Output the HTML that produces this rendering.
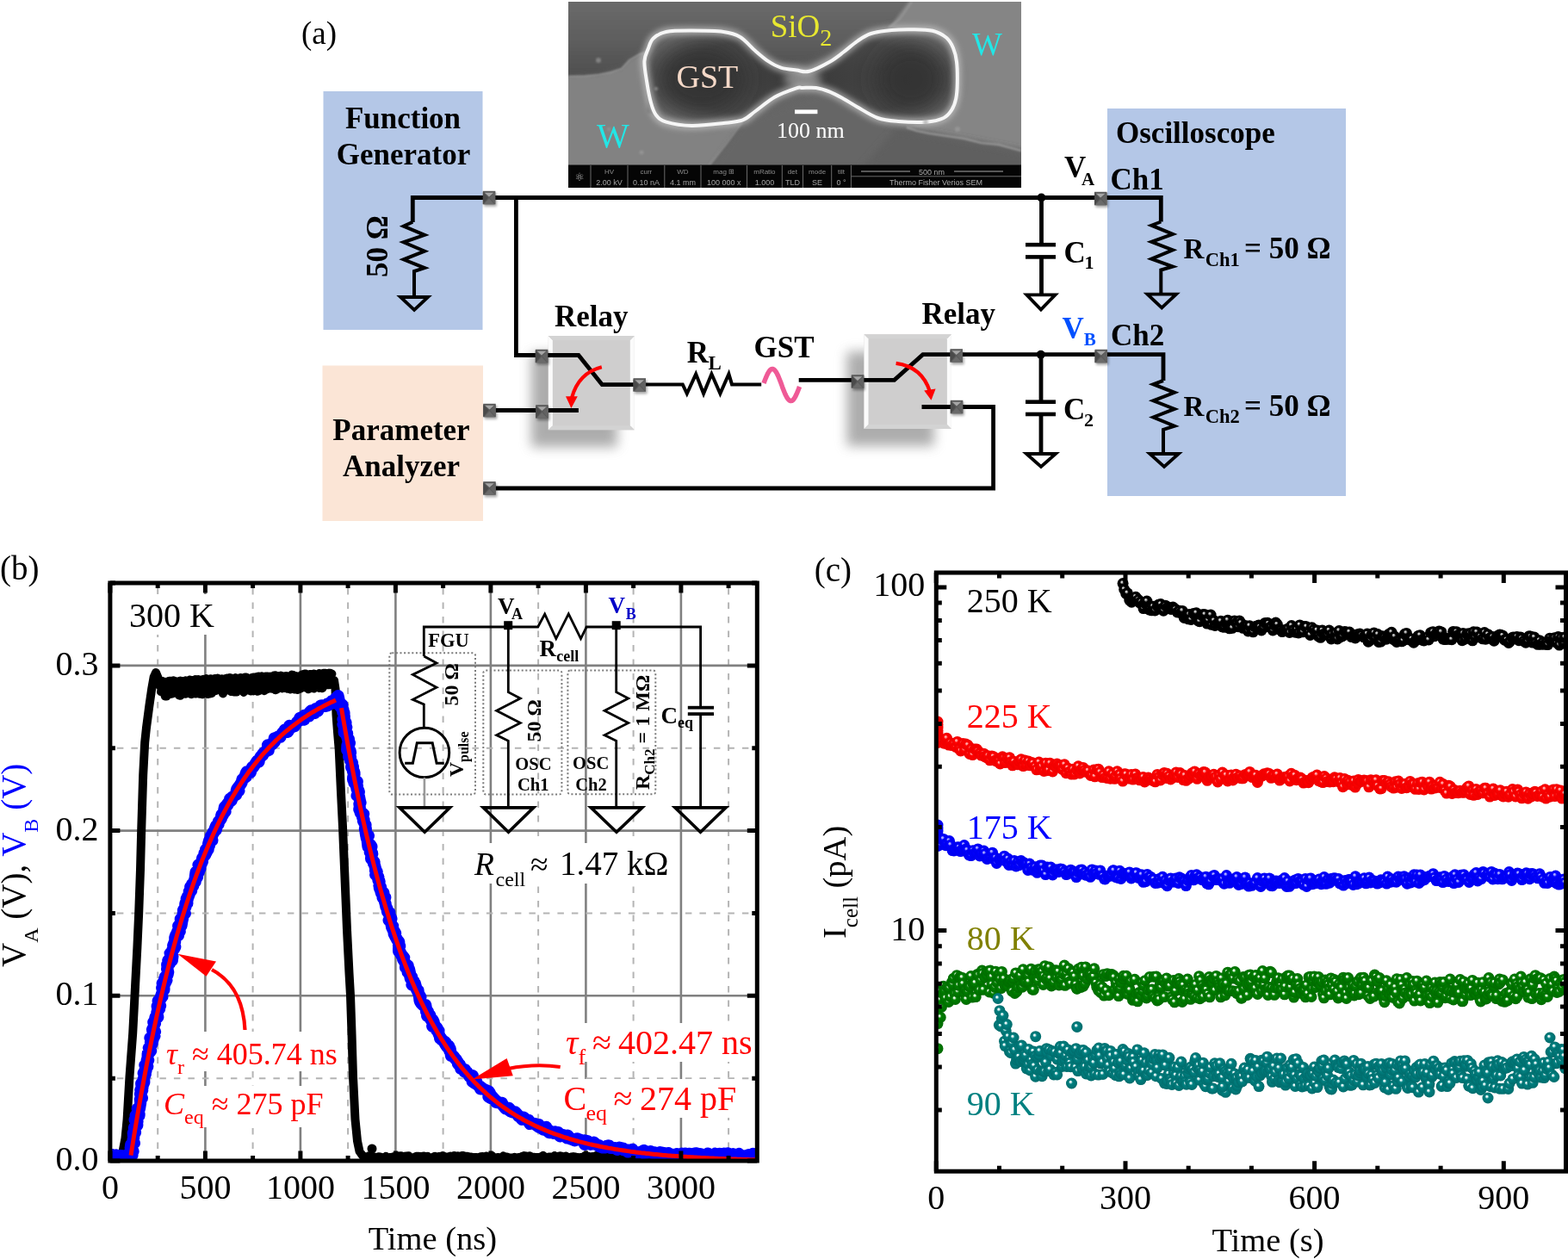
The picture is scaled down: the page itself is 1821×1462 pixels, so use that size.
<!DOCTYPE html>
<html><head><meta charset="utf-8"><title>Figure</title>
<style>html,body{margin:0;padding:0;background:#fff;}svg{display:block;}</style></head>
<body><svg width="1821" height="1462" viewBox="0 0 1821 1462">
<defs><filter id="blur05" x="-5%" y="-5%" width="110%" height="110%"><feGaussianBlur stdDeviation="0.6"/></filter>
<filter id="blur1" x="-50%" y="-50%" width="200%" height="200%"><feGaussianBlur stdDeviation="1"/></filter>
<filter id="blur2" x="-50%" y="-50%" width="200%" height="200%"><feGaussianBlur stdDeviation="1.6"/></filter>
<filter id="blur3" x="-20%" y="-20%" width="140%" height="140%"><feGaussianBlur stdDeviation="3"/></filter>
<filter id="blur4" x="-20%" y="-20%" width="140%" height="140%"><feGaussianBlur stdDeviation="4"/></filter>
<filter id="blur8" x="-40%" y="-40%" width="180%" height="180%"><feGaussianBlur stdDeviation="7"/></filter>
<filter id="blur10" x="-40%" y="-40%" width="180%" height="180%"><feGaussianBlur stdDeviation="12"/></filter>
<radialGradient id="gstfill" cx="0.5" cy="0.5" r="0.6"><stop offset="0" stop-color="#3a3a3a"/><stop offset="0.7" stop-color="#484848"/><stop offset="1" stop-color="#6a6a6a"/></radialGradient>
<radialGradient id="gk" cx="0.5" cy="0.5" r="0.5" fx="0.38" fy="0.34"><stop offset="0" stop-color="#d0d0d0"/><stop offset="0.12" stop-color="#d0d0d0" stop-opacity="0.95"/><stop offset="0.36" stop-color="#000000"/><stop offset="1" stop-color="#000000"/></radialGradient>
<radialGradient id="gr" cx="0.5" cy="0.5" r="0.5" fx="0.38" fy="0.34"><stop offset="0" stop-color="#ffb0b0"/><stop offset="0.12" stop-color="#ffb0b0" stop-opacity="0.95"/><stop offset="0.36" stop-color="#ff0000"/><stop offset="1" stop-color="#ee0000"/></radialGradient>
<radialGradient id="gb" cx="0.5" cy="0.5" r="0.5" fx="0.38" fy="0.34"><stop offset="0" stop-color="#b0b0ff"/><stop offset="0.12" stop-color="#b0b0ff" stop-opacity="0.95"/><stop offset="0.36" stop-color="#0000ff"/><stop offset="1" stop-color="#0000ee"/></radialGradient>
<radialGradient id="gg" cx="0.5" cy="0.5" r="0.5" fx="0.38" fy="0.34"><stop offset="0" stop-color="#f4fff4"/><stop offset="0.12" stop-color="#f4fff4" stop-opacity="0.95"/><stop offset="0.36" stop-color="#008000"/><stop offset="1" stop-color="#006a00"/></radialGradient>
<radialGradient id="gt" cx="0.5" cy="0.5" r="0.5" fx="0.38" fy="0.34"><stop offset="0" stop-color="#f4ffff"/><stop offset="0.12" stop-color="#f4ffff" stop-opacity="0.95"/><stop offset="0.36" stop-color="#008080"/><stop offset="1" stop-color="#006c6c"/></radialGradient></defs>
<rect width="1821" height="1462" fill="#ffffff"/>
<clipPath id="semclip"><rect x="660" y="2" width="526" height="190"/></clipPath>
<g clip-path="url(#semclip)">
<rect x="660" y="2" width="526" height="190" fill="#656565"/>
<linearGradient id="sio2g" x1="0" y1="0" x2="0" y2="1"><stop offset="0" stop-color="#6c6c6c"/><stop offset="0.55" stop-color="#5e5e5e"/><stop offset="1" stop-color="#4e4e4e"/></linearGradient>
<path d="M655,-5 H1064 L1040,28 L1000,45 L940,72 L900,76 L860,45 L760,45 L743,63 L731,70 L722,80 L695,87 L655,89 Z" fill="url(#sio2g)" filter="url(#blur3)"/>
<path d="M655,90 L695,88 L722,81 L731,71 L743,64 L752,60 L752,130 L790,148 L862,142 L822,196 L655,196 Z" fill="#828282" filter="url(#blur2)"/>
<path d="M1060,-5 L1195,-5 L1195,176 L1160,168 L1130,163 L1100,157 L1070,152 L1052,147 L1100,138 L1112,95 L1100,40 L1033,32 Z" fill="#858585" filter="url(#blur2)"/>
<path d="M826,196 L864,142 L960,106 L1050,148 L1100,158 L1195,176 L1195,196 Z" fill="#666666" filter="url(#blur3)"/>
<path d="M1000,196 L1040,150 L1100,160 L1195,178 L1195,196 Z" fill="#5e5e5e" filter="url(#blur4)"/>
<polyline points="660,89 680,88.5 695,87 710,84 722,80 731,70 743,63 750,61" fill="none" stroke="#a8a8a8" stroke-width="2" opacity="0.7" filter="url(#blur1)"/>
<polyline points="862,142 845,165 822,194" fill="none" stroke="#9c9c9c" stroke-width="2" opacity="0.6" filter="url(#blur1)"/>
<polyline points="1053,148 1065,152 1080,155 1100,158 1120,161 1140,166 1160,168 1186,175" fill="none" stroke="#b0b0b0" stroke-width="2.2" opacity="0.75" filter="url(#blur1)"/>
<polyline points="1059,2 1045,22 1032,32" fill="none" stroke="#a0a0a0" stroke-width="2" opacity="0.6" filter="url(#blur1)"/>
<path d="M758.8,44.5 C762.2,41.3 766.2,38.5 773.6,37 C781,35.5 792.2,35.6 803.3,35.6 C814.4,35.6 830.9,35.8 840.3,37 C849.7,38.2 853.4,39.3 859.6,43 C865.8,46.7 872,54.6 877.4,59.3 C882.8,64 887.3,68 892.2,71.2 C897.1,74.4 901.5,76.9 907,78.6 C912.5,80.3 919.5,80.8 925,81.5 C930.5,82.2 933.3,84.4 939.8,82.8 C946.2,81.2 957.1,75.4 963.7,71.7 C970.3,68 974.3,64.5 979.6,60.5 C984.9,56.5 990.3,51.4 995.6,47.8 C1000.9,44.2 1004.9,41.1 1011.5,39 C1018.1,36.9 1027.4,35.8 1035.4,35 C1043.4,34.2 1051.3,34.1 1059.3,34.2 C1067.2,34.3 1076.5,34.2 1083.1,35.8 C1089.7,37.4 1095.1,40.5 1099.1,43.8 C1103.1,47.1 1105,51.1 1107,55.7 C1109,60.4 1110.2,65.1 1111,71.7 C1111.8,78.3 1111.9,88.4 1111.8,95.6 C1111.7,102.8 1111.3,109.4 1110.2,114.7 C1109.1,120 1107.8,123.7 1105.4,127.4 C1103,131.1 1100.9,134.6 1095.9,137 C1090.9,139.4 1084,141 1075.2,141.7 C1066.4,142.4 1052.6,141.8 1043.3,141 C1034,140.2 1027.3,139.8 1019.4,137 C1011.5,134.2 1002.2,127.9 995.6,124.2 C989,120.5 984.9,117.6 979.6,114.7 C974.3,111.8 969,108.8 963.7,106.7 C958.4,104.6 953.1,102.8 947.8,102 C942.5,101.2 935.8,102 932,102 C928.2,102 930.4,100.5 925,102.3 C919.6,104.1 907.6,108.2 899.7,112.7 C891.8,117.2 883.6,124.5 877.4,129 C871.2,133.4 868.8,137.1 862.6,139.4 C856.4,141.7 850.2,141.9 840.3,143 C830.4,144.1 814.4,146.2 803.3,146 C792.2,145.8 780.5,143.7 773.6,141.6 C766.7,139.5 764.8,137.3 761.8,133.5 C758.8,129.7 757.5,124.8 755.8,118.6 C754.1,112.4 752.6,104.3 751.4,96.4 C750.2,88.5 748.1,77.9 748.4,71.2 C748.6,64.5 751.2,60.8 752.9,56.3 C754.6,51.8 755.3,47.7 758.8,44.5 Z" fill="url(#gstfill)"/>
<ellipse cx="815" cy="92" rx="50" ry="40" fill="#2e2e2e" opacity="0.75" filter="url(#blur10)"/>
<ellipse cx="1058" cy="92" rx="42" ry="40" fill="#2e2e2e" opacity="0.75" filter="url(#blur10)"/>
<ellipse cx="932" cy="92" rx="22" ry="9" fill="#9a9a9a" opacity="0.8" filter="url(#blur4)"/>
<path d="M758.8,44.5 C762.2,41.3 766.2,38.5 773.6,37 C781,35.5 792.2,35.6 803.3,35.6 C814.4,35.6 830.9,35.8 840.3,37 C849.7,38.2 853.4,39.3 859.6,43 C865.8,46.7 872,54.6 877.4,59.3 C882.8,64 887.3,68 892.2,71.2 C897.1,74.4 901.5,76.9 907,78.6 C912.5,80.3 919.5,80.8 925,81.5 C930.5,82.2 933.3,84.4 939.8,82.8 C946.2,81.2 957.1,75.4 963.7,71.7 C970.3,68 974.3,64.5 979.6,60.5 C984.9,56.5 990.3,51.4 995.6,47.8 C1000.9,44.2 1004.9,41.1 1011.5,39 C1018.1,36.9 1027.4,35.8 1035.4,35 C1043.4,34.2 1051.3,34.1 1059.3,34.2 C1067.2,34.3 1076.5,34.2 1083.1,35.8 C1089.7,37.4 1095.1,40.5 1099.1,43.8 C1103.1,47.1 1105,51.1 1107,55.7 C1109,60.4 1110.2,65.1 1111,71.7 C1111.8,78.3 1111.9,88.4 1111.8,95.6 C1111.7,102.8 1111.3,109.4 1110.2,114.7 C1109.1,120 1107.8,123.7 1105.4,127.4 C1103,131.1 1100.9,134.6 1095.9,137 C1090.9,139.4 1084,141 1075.2,141.7 C1066.4,142.4 1052.6,141.8 1043.3,141 C1034,140.2 1027.3,139.8 1019.4,137 C1011.5,134.2 1002.2,127.9 995.6,124.2 C989,120.5 984.9,117.6 979.6,114.7 C974.3,111.8 969,108.8 963.7,106.7 C958.4,104.6 953.1,102.8 947.8,102 C942.5,101.2 935.8,102 932,102 C928.2,102 930.4,100.5 925,102.3 C919.6,104.1 907.6,108.2 899.7,112.7 C891.8,117.2 883.6,124.5 877.4,129 C871.2,133.4 868.8,137.1 862.6,139.4 C856.4,141.7 850.2,141.9 840.3,143 C830.4,144.1 814.4,146.2 803.3,146 C792.2,145.8 780.5,143.7 773.6,141.6 C766.7,139.5 764.8,137.3 761.8,133.5 C758.8,129.7 757.5,124.8 755.8,118.6 C754.1,112.4 752.6,104.3 751.4,96.4 C750.2,88.5 748.1,77.9 748.4,71.2 C748.6,64.5 751.2,60.8 752.9,56.3 C754.6,51.8 755.3,47.7 758.8,44.5 Z" fill="none" stroke="#d8d8d8" stroke-width="10" opacity="0.55" filter="url(#blur3)"/>
<path d="M758.8,44.5 C762.2,41.3 766.2,38.5 773.6,37 C781,35.5 792.2,35.6 803.3,35.6 C814.4,35.6 830.9,35.8 840.3,37 C849.7,38.2 853.4,39.3 859.6,43 C865.8,46.7 872,54.6 877.4,59.3 C882.8,64 887.3,68 892.2,71.2 C897.1,74.4 901.5,76.9 907,78.6 C912.5,80.3 919.5,80.8 925,81.5 C930.5,82.2 933.3,84.4 939.8,82.8 C946.2,81.2 957.1,75.4 963.7,71.7 C970.3,68 974.3,64.5 979.6,60.5 C984.9,56.5 990.3,51.4 995.6,47.8 C1000.9,44.2 1004.9,41.1 1011.5,39 C1018.1,36.9 1027.4,35.8 1035.4,35 C1043.4,34.2 1051.3,34.1 1059.3,34.2 C1067.2,34.3 1076.5,34.2 1083.1,35.8 C1089.7,37.4 1095.1,40.5 1099.1,43.8 C1103.1,47.1 1105,51.1 1107,55.7 C1109,60.4 1110.2,65.1 1111,71.7 C1111.8,78.3 1111.9,88.4 1111.8,95.6 C1111.7,102.8 1111.3,109.4 1110.2,114.7 C1109.1,120 1107.8,123.7 1105.4,127.4 C1103,131.1 1100.9,134.6 1095.9,137 C1090.9,139.4 1084,141 1075.2,141.7 C1066.4,142.4 1052.6,141.8 1043.3,141 C1034,140.2 1027.3,139.8 1019.4,137 C1011.5,134.2 1002.2,127.9 995.6,124.2 C989,120.5 984.9,117.6 979.6,114.7 C974.3,111.8 969,108.8 963.7,106.7 C958.4,104.6 953.1,102.8 947.8,102 C942.5,101.2 935.8,102 932,102 C928.2,102 930.4,100.5 925,102.3 C919.6,104.1 907.6,108.2 899.7,112.7 C891.8,117.2 883.6,124.5 877.4,129 C871.2,133.4 868.8,137.1 862.6,139.4 C856.4,141.7 850.2,141.9 840.3,143 C830.4,144.1 814.4,146.2 803.3,146 C792.2,145.8 780.5,143.7 773.6,141.6 C766.7,139.5 764.8,137.3 761.8,133.5 C758.8,129.7 757.5,124.8 755.8,118.6 C754.1,112.4 752.6,104.3 751.4,96.4 C750.2,88.5 748.1,77.9 748.4,71.2 C748.6,64.5 751.2,60.8 752.9,56.3 C754.6,51.8 755.3,47.7 758.8,44.5 Z" fill="none" stroke="#f6f6f6" stroke-width="4" stroke-linejoin="round" filter="url(#blur05)"/>
<circle cx="695" cy="70" r="3" fill="#a0a0a0" opacity="0.6" filter="url(#blur1)"/>
<circle cx="745" cy="177" r="2.5" fill="#a0a0a0" opacity="0.6" filter="url(#blur1)"/>
<circle cx="762" cy="103" r="2.2" fill="#a0a0a0" opacity="0.6" filter="url(#blur1)"/>
<circle cx="1112" cy="150" r="3" fill="#a0a0a0" opacity="0.6" filter="url(#blur1)"/>
<circle cx="1075" cy="142" r="3" fill="#a0a0a0" opacity="0.6" filter="url(#blur1)"/>
<circle cx="707" cy="150" r="2" fill="#a0a0a0" opacity="0.6" filter="url(#blur1)"/>
</g>
<text x="894.7" y="43" font-family="Liberation Serif, serif" font-size="37" fill="#e8e830">SiO<tspan font-size="28" dy="9.6">2</tspan></text>
<text x="785.5" y="102.3" font-family="Liberation Serif, serif" font-size="38" fill="#f5d9c8">GST</text>
<text x="693" y="170.5" font-family="Liberation Serif, serif" font-size="40" fill="#22e6e6">W</text>
<text x="1129" y="63.7" font-family="Liberation Serif, serif" font-size="37" fill="#22e6e6">W</text>
<rect x="923" y="127.4" width="26.4" height="4.8" fill="#ffffff"/>
<text x="902" y="160" font-family="Liberation Serif, serif" font-size="26" fill="#ffffff">100 nm</text>
<rect x="660" y="191.5" width="526" height="26.5" fill="#050505"/>
<line x1="686" y1="192" x2="686" y2="218" stroke="#6a6a6a" stroke-width="1"/>
<line x1="729" y1="192" x2="729" y2="218" stroke="#6a6a6a" stroke-width="1"/>
<line x1="771.8" y1="192" x2="771.8" y2="218" stroke="#6a6a6a" stroke-width="1"/>
<line x1="814" y1="192" x2="814" y2="218" stroke="#6a6a6a" stroke-width="1"/>
<line x1="867.5" y1="192" x2="867.5" y2="218" stroke="#6a6a6a" stroke-width="1"/>
<line x1="908.3" y1="192" x2="908.3" y2="218" stroke="#6a6a6a" stroke-width="1"/>
<line x1="932.5" y1="192" x2="932.5" y2="218" stroke="#6a6a6a" stroke-width="1"/>
<line x1="965.7" y1="192" x2="965.7" y2="218" stroke="#6a6a6a" stroke-width="1"/>
<line x1="988.4" y1="192" x2="988.4" y2="218" stroke="#6a6a6a" stroke-width="1"/>
<line x1="988.4" y1="204.8" x2="1186" y2="204.8" stroke="#6a6a6a" stroke-width="1"/>
<text x="707.5" y="201.5" font-family="Liberation Sans, sans-serif" font-size="8" fill="#8a8a8a" text-anchor="middle" filter="url(#blur05)">HV</text>
<text x="707.5" y="214.5" font-family="Liberation Sans, sans-serif" font-size="9" fill="#a0a0a0" text-anchor="middle" filter="url(#blur05)">2.00 kV</text>
<text x="750.4" y="201.5" font-family="Liberation Sans, sans-serif" font-size="8" fill="#8a8a8a" text-anchor="middle" filter="url(#blur05)">curr</text>
<text x="750.4" y="214.5" font-family="Liberation Sans, sans-serif" font-size="9" fill="#a0a0a0" text-anchor="middle" filter="url(#blur05)">0.10 nA</text>
<text x="792.9" y="201.5" font-family="Liberation Sans, sans-serif" font-size="8" fill="#8a8a8a" text-anchor="middle" filter="url(#blur05)">WD</text>
<text x="792.9" y="214.5" font-family="Liberation Sans, sans-serif" font-size="9" fill="#a0a0a0" text-anchor="middle" filter="url(#blur05)">4.1 mm</text>
<text x="840.7" y="201.5" font-family="Liberation Sans, sans-serif" font-size="8" fill="#8a8a8a" text-anchor="middle" filter="url(#blur05)">mag ⊞</text>
<text x="840.7" y="214.5" font-family="Liberation Sans, sans-serif" font-size="9" fill="#a0a0a0" text-anchor="middle" filter="url(#blur05)">100 000 x</text>
<text x="887.9" y="201.5" font-family="Liberation Sans, sans-serif" font-size="8" fill="#8a8a8a" text-anchor="middle" filter="url(#blur05)">mRatio</text>
<text x="887.9" y="214.5" font-family="Liberation Sans, sans-serif" font-size="9" fill="#a0a0a0" text-anchor="middle" filter="url(#blur05)">1.000</text>
<text x="920.4" y="201.5" font-family="Liberation Sans, sans-serif" font-size="8" fill="#8a8a8a" text-anchor="middle" filter="url(#blur05)">det</text>
<text x="920.4" y="214.5" font-family="Liberation Sans, sans-serif" font-size="9" fill="#a0a0a0" text-anchor="middle" filter="url(#blur05)">TLD</text>
<text x="949.1" y="201.5" font-family="Liberation Sans, sans-serif" font-size="8" fill="#8a8a8a" text-anchor="middle" filter="url(#blur05)">mode</text>
<text x="949.1" y="214.5" font-family="Liberation Sans, sans-serif" font-size="9" fill="#a0a0a0" text-anchor="middle" filter="url(#blur05)">SE</text>
<text x="977" y="201.5" font-family="Liberation Sans, sans-serif" font-size="8" fill="#8a8a8a" text-anchor="middle" filter="url(#blur05)">tilt</text>
<text x="977" y="214.5" font-family="Liberation Sans, sans-serif" font-size="9" fill="#a0a0a0" text-anchor="middle" filter="url(#blur05)">0 °</text>
<line x1="1000" y1="199" x2="1057" y2="199" stroke="#aaa" stroke-width="1.2"/>
<line x1="1108" y1="199" x2="1165" y2="199" stroke="#aaa" stroke-width="1.2"/>
<text x="1082" y="202.5" font-family="Liberation Sans, sans-serif" font-size="9" fill="#aaa" text-anchor="middle">500 nm</text>
<text x="1087" y="215" font-family="Liberation Sans, sans-serif" font-size="9" fill="#aaa" text-anchor="middle">Thermo Fisher Verios SEM</text>
<text x="673" y="210" font-family="DejaVu Sans, sans-serif" font-size="13" fill="#aaa" text-anchor="middle">⚛</text>
<text x="350" y="50.6" font-family="Liberation Serif, serif" font-size="37">(a)</text>
<rect x="375.5" y="106" width="185" height="277" fill="#b4c7e7"/>
<rect x="374.5" y="424.5" width="186.5" height="180.5" fill="#fbe5d6"/>
<rect x="1286" y="126" width="277" height="450" fill="#b4c7e7"/>
<text font-family="Liberation Serif, serif" font-weight="bold" font-size="35" text-anchor="middle"><tspan x="468" y="149.4">Function</tspan><tspan x="468.5" y="191">Generator</tspan></text>
<text font-family="Liberation Serif, serif" font-weight="bold" font-size="35" text-anchor="middle"><tspan x="466" y="511.3">Parameter</tspan><tspan x="466" y="553.2">Analyzer</tspan></text>
<text x="1296" y="165.8" font-family="Liberation Serif, serif" font-weight="bold" font-size="35">Oscilloscope</text>
<rect x="616.8" y="410" width="100" height="109.2" fill="#7a7a7a" opacity="0.62" filter="url(#blur8)"/>
<rect x="636.8" y="390" width="100" height="109.2" fill="#cfcece"/>
<polygon points="636.8,390 641.8,395 641.8,494.2 636.8,499.2" fill="#fbfbfb"/>
<polygon points="736.8,390 731.8,395 731.8,494.2 736.8,499.2" fill="#fbfbfb"/>
<polygon points="636.8,390 736.8,390 731.8,395 641.8,395" fill="#d3d3d3"/>
<polygon points="636.8,499.2 736.8,499.2 731.8,494.2 641.8,494.2" fill="#d3d3d3"/>
<rect x="983.5" y="408.3" width="101.4" height="109.6" fill="#7a7a7a" opacity="0.62" filter="url(#blur8)"/>
<rect x="1003.5" y="388.3" width="101.4" height="109.6" fill="#cfcece"/>
<polygon points="1003.5,388.3 1008.5,393.3 1008.5,492.9 1003.5,497.9" fill="#fbfbfb"/>
<polygon points="1104.9,388.3 1099.9,393.3 1099.9,492.9 1104.9,497.9" fill="#fbfbfb"/>
<polygon points="1003.5,388.3 1104.9,388.3 1099.9,393.3 1008.5,393.3" fill="#d3d3d3"/>
<polygon points="1003.5,497.9 1104.9,497.9 1099.9,492.9 1008.5,492.9" fill="#d3d3d3"/>
<polyline points="479.3,258 479.3,229.5 1348.3,229.5 1348.3,257.5" fill="none" stroke="#000" stroke-width="4.8" stroke-linejoin="miter" stroke-miterlimit="6"/>
<polyline points="479.3,257.8 468.7,262.7 493.1,272.9 468.7,281.3 493.1,291.6 468.7,301.3 493.1,311.1 481,315 481,345" fill="none" stroke="#000" stroke-width="4.0" stroke-linejoin="miter" stroke-miterlimit="6"/>
<polyline points="599.4,229.5 599.4,412.5 629,412.5" fill="none" stroke="#000" stroke-width="4.8" stroke-linejoin="miter" stroke-miterlimit="6"/>
<polyline points="629,412.5 671.9,412.5 699.2,446.6 742.7,446.6" fill="none" stroke="#000" stroke-width="4.8" stroke-linejoin="miter" stroke-miterlimit="6"/>
<polyline points="568.5,476.5 671.9,476.5" fill="none" stroke="#000" stroke-width="4.8" stroke-linejoin="miter" stroke-miterlimit="6"/>
<polyline points="742.7,446.4 792.8,446.4 797.8,457.1 808.2,434.3 817.1,457.1 826.4,434.3 836.4,457.1 846.4,434.3 850,446.4 884.2,446.4" fill="none" stroke="#000" stroke-width="4.0" stroke-linejoin="miter" stroke-miterlimit="6"/>
<polyline points="927.7,441.4 1038.6,441.4 1071.8,411.7 1351,411.7 1351,442" fill="none" stroke="#000" stroke-width="4.8" stroke-linejoin="miter" stroke-miterlimit="6"/>
<polyline points="1070.5,472.5 1153.6,472.5 1153.6,567 568.5,567" fill="none" stroke="#000" stroke-width="4.8" stroke-linejoin="miter" stroke-miterlimit="6"/>
<polyline points="1209.5,229.5 1209.5,284" fill="none" stroke="#000" stroke-width="4.8" stroke-linejoin="miter" stroke-miterlimit="6"/>
<polyline points="1209.5,298.6 1209.5,342.4" fill="none" stroke="#000" stroke-width="4.8" stroke-linejoin="miter" stroke-miterlimit="6"/>
<polyline points="1209,411.7 1209,466.7" fill="none" stroke="#000" stroke-width="4.8" stroke-linejoin="miter" stroke-miterlimit="6"/>
<polyline points="1209,481 1209,527" fill="none" stroke="#000" stroke-width="4.8" stroke-linejoin="miter" stroke-miterlimit="6"/>
<polyline points="1348.3,257.5 1337.3,261.7 1362,271.9 1337.3,280.8 1362,290.4 1337.3,300.6 1362,309.5 1348.3,313.6 1348.3,341.7" fill="none" stroke="#000" stroke-width="4.0" stroke-linejoin="miter" stroke-miterlimit="6"/>
<polyline points="1351,442 1339.4,446.2 1364,455.8 1339.4,465.3 1364,474.9 1339.4,484.5 1364,494.7 1351,498.9 1351,527" fill="none" stroke="#000" stroke-width="4.0" stroke-linejoin="miter" stroke-miterlimit="6"/>
<rect x="1191" y="281.9" width="35" height="4.6" fill="#000"/>
<rect x="1191" y="296.1" width="35" height="4.6" fill="#000"/>
<rect x="1191" y="464.4" width="35" height="4.6" fill="#000"/>
<rect x="1191" y="478.7" width="35" height="4.6" fill="#000"/>
<circle cx="1209.4" cy="229.5" r="5" fill="#000"/>
<circle cx="1208.8" cy="411.7" r="5" fill="#000"/>
<polygon points="465.1,345 497.1,345 481.1,360" fill="none" stroke="#000" stroke-width="3.8" stroke-linejoin="miter"/>
<polygon points="1192.3,342.4 1225.5,342.4 1208.9,359.5" fill="none" stroke="#000" stroke-width="3.8" stroke-linejoin="miter"/>
<polygon points="1192,527 1226,527 1209,542" fill="none" stroke="#000" stroke-width="3.8" stroke-linejoin="miter"/>
<polygon points="1332.5,341.7 1366,341.7 1349.2,357.4" fill="none" stroke="#000" stroke-width="3.8" stroke-linejoin="miter"/>
<polygon points="1335.3,527 1368.8,527 1352,542" fill="none" stroke="#000" stroke-width="3.8" stroke-linejoin="miter"/>
<polyline points="887,445 888,442.3 889,439.8 890,437.4 891,435.2 891.9,433.3 892.9,431.6 893.9,430.3 894.9,429.3 895.9,428.6 896.9,428.4 897.9,428.5 898.9,429.1 899.8,430 900.8,431.2 901.8,432.8 902.8,434.7 903.8,436.8 904.8,439.2 905.8,441.7 906.8,444.3 907.8,447 908.7,449.7 909.7,452.3 910.7,454.8 911.7,457.2 912.7,459.3 913.7,461.2 914.7,462.8 915.7,464 916.6,464.9 917.6,465.5 918.6,465.6 919.6,465.4 920.6,464.7 921.6,463.7 922.6,462.4 923.6,460.7 924.5,458.8 925.5,456.6 926.5,454.2 927.5,451.7 928.5,449" fill="none" stroke="#ef5a96" stroke-width="5.5" stroke-linejoin="round"/>
<rect x="562.2" y="224.2" width="14.5" height="15.5" fill="#000" opacity="0.35" filter="url(#blur2)"/>
<rect x="560.8" y="221.8" width="14.5" height="15.5" fill="#5a5a5a"/>
<polygon points="562.8,223.8 573.2,223.8 568,228.5" fill="#a6a6a6"/>
<polygon points="560.8,222.8 567,229.5 560.8,237.2" fill="#4a4a4a"/>
<polygon points="575.2,222.8 569,229.5 575.2,237.2" fill="#626262"/>
<polygon points="561.8,237.2 568,230.5 574.2,237.2" fill="#6a6a6a"/>
<rect x="562.8" y="471.2" width="14.5" height="15.5" fill="#000" opacity="0.35" filter="url(#blur2)"/>
<rect x="561.2" y="468.8" width="14.5" height="15.5" fill="#5a5a5a"/>
<polygon points="563.2,470.8 573.8,470.8 568.5,475.5" fill="#a6a6a6"/>
<polygon points="561.2,469.8 567.5,476.5 561.2,484.2" fill="#4a4a4a"/>
<polygon points="575.8,469.8 569.5,476.5 575.8,484.2" fill="#626262"/>
<polygon points="562.2,484.2 568.5,477.5 574.8,484.2" fill="#6a6a6a"/>
<rect x="562.8" y="561.8" width="14.5" height="15.5" fill="#000" opacity="0.35" filter="url(#blur2)"/>
<rect x="561.2" y="559.2" width="14.5" height="15.5" fill="#5a5a5a"/>
<polygon points="563.2,561.2 573.8,561.2 568.5,566" fill="#a6a6a6"/>
<polygon points="561.2,560.2 567.5,567 561.2,574.8" fill="#4a4a4a"/>
<polygon points="575.8,560.2 569.5,567 575.8,574.8" fill="#626262"/>
<polygon points="562.2,574.8 568.5,568 574.8,574.8" fill="#6a6a6a"/>
<rect x="623.2" y="408.2" width="14.5" height="15.5" fill="#000" opacity="0.35" filter="url(#blur2)"/>
<rect x="621.8" y="405.8" width="14.5" height="15.5" fill="#5a5a5a"/>
<polygon points="623.8,407.8 634.2,407.8 629,412.5" fill="#a6a6a6"/>
<polygon points="621.8,406.8 628,413.5 621.8,421.2" fill="#4a4a4a"/>
<polygon points="636.2,406.8 630,413.5 636.2,421.2" fill="#626262"/>
<polygon points="622.8,421.2 629,414.5 635.2,421.2" fill="#6a6a6a"/>
<rect x="623.8" y="472.8" width="14.5" height="15.5" fill="#000" opacity="0.35" filter="url(#blur2)"/>
<rect x="622.2" y="470.2" width="14.5" height="15.5" fill="#5a5a5a"/>
<polygon points="624.2,472.2 634.8,472.2 629.5,477" fill="#a6a6a6"/>
<polygon points="622.2,471.2 628.5,478 622.2,485.8" fill="#4a4a4a"/>
<polygon points="636.8,471.2 630.5,478 636.8,485.8" fill="#626262"/>
<polygon points="623.2,485.8 629.5,479 635.8,485.8" fill="#6a6a6a"/>
<rect x="737" y="441.8" width="14.5" height="15.5" fill="#000" opacity="0.35" filter="url(#blur2)"/>
<rect x="735.5" y="439.2" width="14.5" height="15.5" fill="#5a5a5a"/>
<polygon points="737.5,441.2 748,441.2 742.7,446" fill="#a6a6a6"/>
<polygon points="735.5,440.2 741.7,447 735.5,454.8" fill="#4a4a4a"/>
<polygon points="750,440.2 743.7,447 750,454.8" fill="#626262"/>
<polygon points="736.5,454.8 742.7,448 749,454.8" fill="#6a6a6a"/>
<rect x="990.2" y="437.8" width="14.5" height="15.5" fill="#000" opacity="0.35" filter="url(#blur2)"/>
<rect x="988.8" y="435.2" width="14.5" height="15.5" fill="#5a5a5a"/>
<polygon points="990.8,437.2 1001.2,437.2 996,442" fill="#a6a6a6"/>
<polygon points="988.8,436.2 995,443 988.8,450.8" fill="#4a4a4a"/>
<polygon points="1003.2,436.2 997,443 1003.2,450.8" fill="#626262"/>
<polygon points="989.8,450.8 996,444 1002.2,450.8" fill="#6a6a6a"/>
<rect x="1105" y="407.8" width="14.5" height="15.5" fill="#000" opacity="0.35" filter="url(#blur2)"/>
<rect x="1103.5" y="405.2" width="14.5" height="15.5" fill="#5a5a5a"/>
<polygon points="1105.5,407.2 1116,407.2 1110.7,412" fill="#a6a6a6"/>
<polygon points="1103.5,406.2 1109.7,413 1103.5,420.8" fill="#4a4a4a"/>
<polygon points="1118,406.2 1111.7,413 1118,420.8" fill="#626262"/>
<polygon points="1104.5,420.8 1110.7,414 1117,420.8" fill="#6a6a6a"/>
<rect x="1105.2" y="467.2" width="14.5" height="15.5" fill="#000" opacity="0.35" filter="url(#blur2)"/>
<rect x="1103.8" y="464.8" width="14.5" height="15.5" fill="#5a5a5a"/>
<polygon points="1105.8,466.8 1116.2,466.8 1111,471.5" fill="#a6a6a6"/>
<polygon points="1103.8,465.8 1110,472.5 1103.8,480.2" fill="#4a4a4a"/>
<polygon points="1118.2,465.8 1112,472.5 1118.2,480.2" fill="#626262"/>
<polygon points="1104.8,480.2 1111,473.5 1117.2,480.2" fill="#6a6a6a"/>
<rect x="1272.5" y="225.2" width="14.5" height="15.5" fill="#000" opacity="0.35" filter="url(#blur2)"/>
<rect x="1271" y="222.8" width="14.5" height="15.5" fill="#5a5a5a"/>
<polygon points="1273,224.8 1283.5,224.8 1278.2,229.5" fill="#a6a6a6"/>
<polygon points="1271,223.8 1277.2,230.5 1271,238.2" fill="#4a4a4a"/>
<polygon points="1285.5,223.8 1279.2,230.5 1285.5,238.2" fill="#626262"/>
<polygon points="1272,238.2 1278.2,231.5 1284.5,238.2" fill="#6a6a6a"/>
<rect x="1273" y="408.2" width="14.5" height="15.5" fill="#000" opacity="0.35" filter="url(#blur2)"/>
<rect x="1271.5" y="405.8" width="14.5" height="15.5" fill="#5a5a5a"/>
<polygon points="1273.5,407.8 1284,407.8 1278.8,412.5" fill="#a6a6a6"/>
<polygon points="1271.5,406.8 1277.8,413.5 1271.5,421.2" fill="#4a4a4a"/>
<polygon points="1286,406.8 1279.8,413.5 1286,421.2" fill="#626262"/>
<polygon points="1272.5,421.2 1278.8,414.5 1285,421.2" fill="#6a6a6a"/>
<path d="M698.8,426.3 Q672,433 664,462" fill="none" stroke="#ff0000" stroke-width="4.2"/>
<polygon points="657,460.2 670.8,460.2 663.4,474" fill="#ff0000"/>
<path d="M1040.6,421.9 Q1071,426 1080,455" fill="none" stroke="#ff0000" stroke-width="4.2"/>
<polygon points="1073.2,453.4 1086.6,451.6 1081.5,464.8" fill="#ff0000"/>
<text transform="translate(450.4,286) rotate(-90)" font-family="Liberation Serif, serif" font-weight="bold" font-size="35" text-anchor="middle">50 Ω</text>
<text x="643.9" y="379" font-family="Liberation Serif, serif" font-weight="bold" font-size="35">Relay</text>
<text x="1070.5" y="375.7" font-family="Liberation Serif, serif" font-weight="bold" font-size="35">Relay</text>
<text x="797.8" y="421.4" font-family="Liberation Serif, serif" font-weight="bold" font-size="35">R</text>
<text x="822.5" y="429.3" font-family="Liberation Serif, serif" font-weight="bold" font-size="23">L</text>
<text x="875.6" y="415" font-family="Liberation Serif, serif" font-weight="bold" font-size="35">GST</text>
<text x="1236" y="206.3" font-family="Liberation Serif, serif" font-weight="bold" font-size="35">V</text>
<text x="1256" y="214.5" font-family="Liberation Serif, serif" font-weight="bold" font-size="21">A</text>
<text x="1289.4" y="220" font-family="Liberation Serif, serif" font-weight="bold" font-size="35">Ch1</text>
<text x="1235.4" y="304.7" font-family="Liberation Serif, serif" font-weight="bold" font-size="35">C</text>
<text x="1259.5" y="312.3" font-family="Liberation Serif, serif" font-weight="bold" font-size="22">1</text>
<text x="1233.4" y="392.8" font-family="Liberation Serif, serif" font-weight="bold" font-size="35" fill="#0050ff">V</text>
<text x="1258.7" y="400.8" font-family="Liberation Serif, serif" font-weight="bold" font-size="21" fill="#0050ff">B</text>
<text x="1290.1" y="401" font-family="Liberation Serif, serif" font-weight="bold" font-size="35">Ch2</text>
<text x="1235" y="486.5" font-family="Liberation Serif, serif" font-weight="bold" font-size="35">C</text>
<text x="1259" y="494.7" font-family="Liberation Serif, serif" font-weight="bold" font-size="22">2</text>
<text x="1374.4" y="300.3" font-family="Liberation Serif, serif" font-weight="bold" font-size="33">R</text>
<text x="1399.7" y="308.5" font-family="Liberation Serif, serif" font-weight="bold" font-size="22.5">Ch1</text>
<text x="1445" y="300.3" font-family="Liberation Serif, serif" font-weight="bold" font-size="35">= 50 Ω</text>
<text x="1374.4" y="483.1" font-family="Liberation Serif, serif" font-weight="bold" font-size="33">R</text>
<text x="1399.7" y="491.3" font-family="Liberation Serif, serif" font-weight="bold" font-size="22.5">Ch2</text>
<text x="1445" y="483.1" font-family="Liberation Serif, serif" font-weight="bold" font-size="35">= 50 Ω</text>
<text x="0" y="673" font-family="Liberation Serif, serif" font-size="39">(b)</text>
<line x1="183.2" y1="683" x2="183.2" y2="1348" stroke="#b4b4b4" stroke-width="2" stroke-dasharray="7.5 9"/>
<line x1="238.4" y1="677" x2="238.4" y2="1348" stroke="#808080" stroke-width="2.6"/>
<line x1="293.6" y1="683" x2="293.6" y2="1348" stroke="#b4b4b4" stroke-width="2" stroke-dasharray="7.5 9"/>
<line x1="348.9" y1="677" x2="348.9" y2="1348" stroke="#808080" stroke-width="2.6"/>
<line x1="404.1" y1="683" x2="404.1" y2="1348" stroke="#b4b4b4" stroke-width="2" stroke-dasharray="7.5 9"/>
<line x1="459.4" y1="677" x2="459.4" y2="1348" stroke="#808080" stroke-width="2.6"/>
<line x1="514.6" y1="683" x2="514.6" y2="1348" stroke="#b4b4b4" stroke-width="2" stroke-dasharray="7.5 9"/>
<line x1="569.9" y1="677" x2="569.9" y2="1348" stroke="#808080" stroke-width="2.6"/>
<line x1="625.1" y1="683" x2="625.1" y2="1348" stroke="#b4b4b4" stroke-width="2" stroke-dasharray="7.5 9"/>
<line x1="680.4" y1="677" x2="680.4" y2="1348" stroke="#808080" stroke-width="2.6"/>
<line x1="735.6" y1="683" x2="735.6" y2="1348" stroke="#b4b4b4" stroke-width="2" stroke-dasharray="7.5 9"/>
<line x1="790.9" y1="677" x2="790.9" y2="1348" stroke="#808080" stroke-width="2.6"/>
<line x1="846.1" y1="683" x2="846.1" y2="1348" stroke="#b4b4b4" stroke-width="2" stroke-dasharray="7.5 9"/>
<line x1="135.9" y1="1252.2" x2="879.3" y2="1252.2" stroke="#b4b4b4" stroke-width="2" stroke-dasharray="7.5 9"/>
<line x1="127.9" y1="1156.3" x2="879.3" y2="1156.3" stroke="#808080" stroke-width="2.6"/>
<line x1="135.9" y1="1060.4" x2="879.3" y2="1060.4" stroke="#b4b4b4" stroke-width="2" stroke-dasharray="7.5 9"/>
<line x1="127.9" y1="964.6" x2="879.3" y2="964.6" stroke="#808080" stroke-width="2.6"/>
<line x1="135.9" y1="868.8" x2="879.3" y2="868.8" stroke="#b4b4b4" stroke-width="2" stroke-dasharray="7.5 9"/>
<line x1="127.9" y1="772.9" x2="879.3" y2="772.9" stroke="#808080" stroke-width="2.6"/>
<rect x="144" y="690" width="112" height="47" fill="#ffffff"/>
<rect x="546" y="979" width="240" height="47" fill="#ffffff"/>
<rect x="190" y="1198" width="200" height="46" fill="#ffffff"/>
<rect x="190" y="1261" width="185" height="48" fill="#ffffff"/>
<rect x="652" y="1188" width="225" height="45" fill="#ffffff"/>
<rect x="652" y="1253" width="208" height="45" fill="#ffffff"/>
<clipPath id="bclip"><rect x="127.9" y="677" width="751.4" height="672"/></clipPath>
<g clip-path="url(#bclip)">
<polyline points="130,1343.5 132,1343 134,1344.5 136,1342.7 138,1344.1 140,1343.6 141,1343 143,1335 145.5,1322 147.6,1300 150.5,1250 154.2,1200 156.8,1150 159.4,1100 161.2,1060 163,1010 164.2,964 166.2,900 168.2,862 170,845 173.3,820 176.2,800 178.7,786 181,781 183.5,787 186,797 187,795.5 188.6,798.4 190.2,798.2 191.8,796.5 193.4,799.3 195,795 196.6,795.7 198.2,801 199.8,799.5 201.4,794.8 203,799.6 204.6,798.8 206.2,800.4 207.8,798.6 209.4,799.7 211,794.7 212.6,794.9 214.2,799 215.8,800.6 217.4,798.2 219,800.1 220.6,798.6 222.2,798.4 223.8,795.4 225.4,793.3 227,793.9 228.6,794 230.2,799.8 231.8,797.2 233.4,799.6 235,795.5 236.6,793.7 238.2,794.3 239.8,794.5 241.4,795.2 243,797.7 244.6,797.5 246.2,798.3 247.8,795.1 249.4,797 251,793.5 252.6,792.1 254.2,792.5 255.8,798.6 257.4,793.5 259,792.4 260.6,795 262.2,792.1 263.8,797.8 265.4,798.7 267,795.3 268.6,798.7 270.2,792.9 271.8,796.9 273.4,793.3 275,798.5 276.6,797.1 278.2,794.6 279.8,790.6 281.4,795.8 283,797.7 284.6,793 286.2,791.6 287.8,797.2 289.4,795.1 291,795.1 292.6,795.7 294.2,796 295.8,797.3 297.4,797.1 299,790.4 300.6,795.8 302.2,797.1 303.8,793.5 305.4,796.8 307,796.5 308.6,795.5 310.2,791.2 311.8,790.8 313.4,796 315,793.3 316.6,795.9 318.2,792.6 319.8,789.8 321.4,789.7 323,792.7 324.6,792.6 326.2,792.5 327.8,794.1 329.4,794 331,792.7 332.6,793.3 334.2,791.5 335.8,794.6 337.4,792 339,788.5 340.6,787.9 342.2,792.6 343.8,788.4 345.4,788.2 347,788.8 348.6,790.8 350.2,788.1 351.8,789.5 353.4,792.5 355,790.1 356.6,791.5 358.2,794.3 359.8,787.2 361.4,792.5 363,789.6 364.6,788.2 366.2,790.6 367.8,786.4 369.4,786.5 371,792.2 372.6,786.3 374.2,788.4 375.8,787.7 377.4,787.4 379,785.8 380.6,787.8 382.2,789.2 383.8,785.3 385.4,790.9 388,790 389.5,800 390.5,830 392,850 393.7,870 396,920 398,960 400.5,1020 403,1080 405.5,1130 407,1156 408.5,1200 410,1250 412.5,1300 415,1325 417.5,1337 421,1342 424,1343.4 426.2,1344.8 428.4,1342.3 430.6,1344.5 432.8,1343.3 435,1343.5 437.2,1344.5 439.4,1343.2 441.6,1343.5 443.8,1344.1 446,1344.9 448.2,1343 450.4,1344.5 452.6,1344.1 454.8,1343.9 457,1343.2 459.2,1343 461.4,1342.2 463.6,1342.4 465.8,1342.2 468,1344.2 470.2,1342.8 472.4,1342.5 474.6,1342.3 476.8,1344.5 479,1344.6 481.2,1344 483.4,1342.8 485.6,1342.7 487.8,1342.9 490,1343.4 492.2,1342.5 494.4,1343.3 496.6,1342.8 498.8,1344.9 501,1344.9 503.2,1343.6 505.4,1342.7 507.6,1344.9 509.8,1342.9 512,1343.1 514.2,1342 516.4,1343.1 518.6,1343.4 520.8,1343.5 523,1342.6 525.2,1343.5 527.4,1342 529.6,1342.8 531.8,1342.3 534,1343.2 536.2,1342.1 538.4,1342.1 540.6,1342.9 542.8,1342.7 545,1343.8 547.2,1343.6 549.4,1344.3 551.6,1344 553.8,1344.1 556,1344.6 558.2,1343.2 560.4,1343 562.6,1345 564.8,1342.4 567,1344.2 569.2,1343.9 571.4,1342.1 573.6,1344.5 575.8,1344.7 578,1343.9 580.2,1344.2 582.4,1344.4 584.6,1342.4 586.8,1343.6 589,1343.5 591.2,1344.5 593.4,1344.4 595.6,1344.5 597.8,1343.8 600,1344.7 602.2,1344 604.4,1344.1 606.6,1342.7 608.8,1342.1 611,1342.4 613.2,1343.1 615.4,1342.3 617.6,1344.5 619.8,1343.7 622,1343.9 624.2,1343.9 626.4,1344 628.6,1343.5 630.8,1342 633,1344.4 635.2,1344.2 637.4,1343.5 639.6,1343.6 641.8,1344 644,1342.2 646.2,1344.2 648.4,1342.8 650.6,1342.2 652.8,1342.8 655,1344.2 657.2,1342.6 659.4,1344.2 661.6,1344.9 663.8,1343.5 666,1343.1 668.2,1343.4 670.4,1344.1 672.6,1344.3 674.8,1343.9 677,1343.9 679.2,1342.2 681.4,1342.4 683.6,1342.8 685.8,1344.2 688,1342.9 690.2,1343.7 692.4,1342 694.6,1342.2 696.8,1342.8 699,1344 701.2,1344.1 703.4,1344 705.6,1342.9 707.8,1343.5 710,1343.4 712.2,1343.4 714.4,1342.4 716.6,1344.7 718.8,1342.6 721,1344.9 723.2,1344.8 725.4,1342.1 727.6,1343.4 729.8,1344.5 732,1344.9 734.2,1343.3 736.4,1342.8 738.6,1342.6 740.8,1344.8 743,1342.6 745.2,1343.7 747.4,1342.4 749.6,1343.6 751.8,1344.9 754,1342.4 756.2,1344.5 758.4,1343.5 760.6,1344.7 762.8,1344.1 765,1342.7 767.2,1344.7 769.4,1343.5 771.6,1342.1 773.8,1342 776,1343.5 778.2,1343.4 780.4,1342.9 782.6,1342.4 784.8,1343 787,1342.9 789.2,1344.5 791.4,1342 793.6,1344.3 795.8,1344.5 798,1342.4 800.2,1344.8 802.4,1344.1 804.6,1344.7 806.8,1342.9 809,1343.1 811.2,1343.2 813.4,1345 815.6,1343.8 817.8,1343.1 820,1343.3 822.2,1342.8 824.4,1342.1 826.6,1342.3 828.8,1344.5 831,1342.9 833.2,1344.8 835.4,1342.7 837.6,1342.8 839.8,1343.5 842,1342.6 844.2,1343.1 846.4,1344.9 848.6,1344.7 850.8,1344.4 853,1343.9 855.2,1344.7 857.4,1344.8 859.6,1343.6 861.8,1344.2 864,1342.1 866.2,1344.2 868.4,1343.4 870.6,1344.3 872.8,1343.9 875,1342.9" fill="none" stroke="#000" stroke-width="10" stroke-linejoin="round" stroke-linecap="round"/>
<circle cx="432" cy="1334" r="5.5" fill="#000"/>
<polyline points="187,792.3 188.6,791 190.2,793.1 191.8,792.4 193.4,791.7 195,792.9 196.6,790.7 198.2,790.8 199.8,791.3 201.4,790.3 203,791.3 204.6,791.3 206.2,791.9 207.8,791.3 209.4,790.6 211,790.9 212.6,791 214.2,791.7 215.8,790.3 217.4,791 219,791.9 220.6,789.4 222.2,791.9 223.8,790.1 225.4,790.3 227,789.1 228.6,789.5 230.2,789 231.8,791.1 233.4,789.4 235,791 236.6,788.9 238.2,789.7 239.8,788.3 241.4,789.8 243,789.5 244.6,788.2 246.2,790.4 247.8,789 249.4,788 251,788.2 252.6,787.6 254.2,788.6 255.8,789.2 257.4,788.4 259,789.7 260.6,788.6 262.2,788.1 263.8,787.5 265.4,788.5 267,787 268.6,789.2 270.2,787.8 271.8,788.2 273.4,787.2 275,788.9 276.6,788.5 278.2,787.3 279.8,787 281.4,788.9 283,788.9 284.6,786.6 286.2,786.5 287.8,788.2 289.4,788 291,788.2 292.6,787 294.2,786.5 295.8,786.6 297.4,787.4 299,785.7 300.6,785.6 302.2,787 303.8,785.4 305.4,786.8 307,786.1 308.6,785.4 310.2,785.4 311.8,785.8 313.4,785.6 315,787 316.6,785.8 318.2,784.4 319.8,784.3 321.4,785.5 323,785 324.6,786.2 326.2,784.6 327.8,785.3 329.4,786.3 331,785.1 332.6,784.9 334.2,786.2 335.8,786.1 337.4,786 339,783.6 340.6,783.9 342.2,785.3 343.8,785.1 345.4,785.5 347,785.6 348.6,785.6 350.2,783.9 351.8,783.2 353.4,782.6 355,782.6 356.6,783.9 358.2,784.5 359.8,783 361.4,782.9 363,784.7 364.6,782.4 366.2,783.9 367.8,783.8 369.4,784.4 371,781.9 372.6,784 374.2,783.1 375.8,781.8 377.4,781.7 379,781.9 380.6,783.3 382.2,781.6 383.8,781.8 385.4,782.5" fill="none" stroke="#000" stroke-width="10" stroke-linejoin="round" stroke-linecap="round"/>
<polyline points="187,803.2 188.6,803.5 190.2,803.6 191.8,808.4 193.4,808.5 195,804.3 196.6,804.4 198.2,805.9 199.8,805.6 201.4,803.5 203,804.1 204.6,803.9 206.2,803.5 207.8,807.2 209.4,807.8 211,806.3 212.6,802 214.2,805.1 215.8,805.7 217.4,804.2 219,804.2 220.6,805.5 222.2,806.2 223.8,805.2 225.4,802.1 227,805.6 228.6,803.3 230.2,803.5 231.8,805.7 233.4,803.2 235,806.3 236.6,801.9 238.2,804 239.8,802.9 241.4,806 243,803.9 244.6,805.5 246.2,804.8 247.8,800.6 249.4,800.3 251,801.8 252.6,800.6 254.2,799.8 255.8,800.5 257.4,801.7 259,805.4 260.6,799.8 262.2,800.8 263.8,799.3 265.4,800 267,802.2 268.6,803.1 270.2,799.8 271.8,803.4 273.4,803.5 275,803.4 276.6,799.9 278.2,798.6 279.8,799.9 281.4,801 283,803.9 284.6,799.5 286.2,801.8 287.8,800.8 289.4,798.4 291,802.5 292.6,798.8 294.2,802.4 295.8,800 297.4,798.5 299,802.8 300.6,802.3 302.2,799.3 303.8,797.2 305.4,800.2 307,802.2 308.6,798.4 310.2,800.4 311.8,797.5 313.4,799.4 315,799.1 316.6,799.7 318.2,799.1 319.8,801.2 321.4,800.6 323,799.3 324.6,796.8 326.2,797.7 327.8,799.3 329.4,798.5 331,798.9 332.6,798.9 334.2,799.8 335.8,797.1 337.4,800.5 339,798.1 340.6,795.8 342.2,800.6 343.8,799.1 345.4,800.9 347,797.4 348.6,799.9 350.2,797.9 351.8,796.7 353.4,798 355,796.6 356.6,794.9 358.2,800.3 359.8,794.6 361.4,795.1 363,799.1 364.6,799.6 366.2,794.6 367.8,796.5 369.4,797.7 371,798.9 372.6,796.4 374.2,799.2 375.8,796.7 377.4,794.4 379,795.3 380.6,795.1 382.2,795.3 383.8,793.3 385.4,794.2" fill="none" stroke="#000" stroke-width="10" stroke-linejoin="round" stroke-linecap="round"/>
<polyline points="131,1341.1 133,1343.8 135,1341.4 137,1342.4 139,1342 141,1341.9 143,1343.2 145,1343.9 147,1341.8 149,1343 150.2,1348.3 150.9,1344.2 150.3,1342.2 153.6,1341.5 151.2,1341.3 154.7,1336.9 151.6,1333.4 151.8,1332 152.1,1329.3 153.1,1328.8 156,1327.6 154.5,1323.7 155.3,1321.3 154.9,1317.6 155,1320 154.7,1315.5 157.1,1315.1 155.8,1310 156.3,1308.5 157.5,1309.1 159.4,1306.5 156.5,1300.1 159.6,1302.3 159,1298.6 157.5,1295.4 161.6,1295.4 161.7,1294 159.6,1287.5 159.6,1287.4 162.1,1287.3 162.7,1283.7 163.2,1280.6 162.7,1276.3 164,1275.2 165,1275.1 162.9,1270.3 163.1,1270.7 165.3,1265.9 163.1,1265.8 165.6,1263 164.5,1261.9 164.1,1258.2 166.3,1259.3 167.4,1256.8 167.2,1251.4 166.6,1252.9 168.9,1247.4 166.6,1246.2 169.6,1243.7 168.3,1242.8 171.4,1238.4 168.3,1236.8 170.2,1236.4 169.7,1234.8 172.3,1231.2 170.6,1231.3 171.5,1228.4 171.6,1223.3 174.1,1221.5 175.3,1220.4 172.7,1216.8 174,1216.9 176.6,1212.2 174.8,1210.3 177.6,1207.8 174.3,1205.3 176.2,1207.3 178.6,1204.3 179.5,1203.2 177.2,1197.3 180.1,1198 177,1195.4 178.8,1191.8 179.1,1188.6 178.2,1187 180.1,1188.3 179.6,1186.2 180.5,1181 183.4,1181.2 182.3,1175.2 182.9,1174.6 185.2,1171.6 183.5,1173 182.6,1168.4 186.2,1168 183.6,1162.2 184.2,1164.5 185.5,1161.5 188.5,1157.3 186.5,1158.3 188.4,1152.7 189.3,1150.8 188.1,1147.1 190.5,1149.5 190.5,1147.5 188.6,1141.9 190.9,1143.3 193.4,1138.4 191.1,1136.4 192.6,1136.8 191.9,1134 194.6,1132 195.3,1128.8 194,1125.2 194.7,1125.4 194.1,1120.4 197.4,1118.5 195.2,1115.3 197.7,1114.6 199.9,1115.3 200.5,1110.1 197.5,1107.1 199.7,1108.1 200.1,1103.6 200.5,1103.4 202.1,1101.9 203.4,1099.4 201.1,1098.1 202.4,1094.7 203.3,1093.4 203.2,1088.8 204,1086.3 207.1,1086.3 205.5,1083.3 208.8,1081.7 206.3,1081.1 208.6,1079.9 207.1,1075.2 210.6,1075 211.6,1068.8 209.7,1067.1 209.9,1069.3 212.2,1067 212,1064.6 212.9,1059.5 214.9,1060.8 212.9,1057 215.6,1053 215.2,1050.5 215.3,1049 217.5,1048.9 216.6,1043.6 217.8,1044.8 217.9,1040.9 218.7,1041.3 220.8,1035.5 219.7,1035.1 222.2,1034.3 221.1,1029.8 224.2,1029 223.3,1026.4 226.7,1024.3 225.9,1022.5 226,1023 229.1,1018.4 226.7,1018.2 227.5,1012.5 231,1012.5 231.5,1010.4 232.5,1008.6 230.4,1004.3 232.7,1005.4 235,1000.6 234.6,1000 234.9,996.8 234.9,996.7 238.3,992.6 237.3,994 240.1,989 237.6,990.7 241.8,986.3 239,986.5 241.2,984.4 243,982 242,979.8 243.1,975.9 246.5,976 244.8,970.9 246.5,970.4 247.4,966.5 247.7,967.5 251.3,962.1 250.9,963.7 249.7,962.1 251,958.9 253.7,957.1 253.7,954.1 255.7,952.2 257,950.3 257.1,946.3 258.9,946.6 258.3,946.1 261.5,942.6 260.2,940.7 260.9,937.1 263.2,935 264.3,935.1 263.8,933.9 265,932.4 268.9,929.4 267.1,927.5 269.5,927.8 269.7,925.5 274.2,923 274.6,918.4 276.5,918 277.5,918.3 275.5,915.8 279.8,910.3 278.6,912 279.1,910.8 280.7,908.6 281.4,905.2 285.8,901.9 284.4,901.6 285.9,897.5 286.6,896.3 290.9,897.1 292,892.8 292.9,890.8 293.2,891.6 293.9,891.1 296,887.9 298.6,883.8 300.5,884.7 299.4,883.9 300.3,883.1 303,878.3 305.2,877 304.2,876.9 305.2,875.6 307.5,873.1 311.8,871.2 312.1,868.2 310.9,865.2 313,866.6 315.7,864.5 319.1,861 317.9,862.1 318.7,857.3 321.6,856.3 323.2,855.4 325.7,855.7 325.8,854.4 328.5,850.5 332,849.6 330.6,847.5 334.2,849.9 336.4,846.2 336.1,842.8 339.3,844.2 339.9,843.3 342,843.4 344.9,838.7 347.3,836.3 347.6,836.8 348.2,833.8 352.2,832.4 353.1,835.8 353.3,830.8 357,831.2 359,831.5 359,827.8 361.3,825.4 365.6,827.9 366.8,822.9 369.2,825.5 369.6,824.4 371.4,820.8 372,819.8 373.6,819.3 378.4,820 380.8,819.1 380.4,817.4 383.1,817.6 385.4,814 387.9,816.6 388.2,815.3 389.4,811.3 392.6,808 394.4,816.2 397.6,818.4 395.5,821.2 395.9,820.2 398.6,824.3 398.1,826.7 399.6,827.8 399.4,831.2 399.9,832 399.7,834.8 398.4,835.2 400.1,836.7 401.6,839.2 398.4,841.2 402.4,844.5 399.7,845.1 399.6,850.6 402.4,852.8 403.2,851.8 403,855.4 404.3,859.9 405,858.3 405.3,864.7 406,862.8 403.4,865 403.1,870.8 406.7,871.9 407.1,874.1 405.4,873.6 405,879 405.9,879 407.1,879.6 406.9,883.1 409.1,885.7 408,890.8 409.1,892.4 410,890.5 409.6,894.7 411.5,896.4 411.6,899.5 410.1,903.2 410,905.2 410.8,903.2 411.3,909.2 414.9,907.6 413.4,912.2 415,912.8 414.3,915.7 416.1,917.5 416.9,919.7 414.5,924 416.1,923.2 417.1,925.2 418.1,930.4 418.6,932.2 417.3,933.2 417.9,937.8 417.2,939.9 417.4,938.7 418.8,944.3 420.2,943.8 422.2,945.2 421,948.9 422.7,952.1 422.7,952.2 421.9,953.4 424.5,958.1 424.6,957.8 423.8,962.9 424.9,961.8 424.9,967.8 424.5,966.4 425.3,971.1 428,970.5 425.7,973.1 426.9,976.6 426.8,977.8 427.4,983.2 430.1,980.9 431.5,983.1 429.7,989.6 431.9,990.5 431,989.9 432.3,991.6 431.1,995.1 431,997.3 434.6,1000.9 433.9,1002.7 434.3,1002.4 435.4,1005.9 436.6,1010.5 435.9,1010.9 437.7,1012.3 436.2,1015.9 439.4,1018.3 439.2,1020.8 439.7,1021.9 439.4,1022.4 440.7,1023.4 440.4,1028.9 442.2,1030.3 440.9,1031.4 442.3,1034.5 442.7,1036.9 445.4,1036.5 444.9,1041.6 444.5,1042.3 447.4,1042.1 446.3,1044.8 447.9,1050.8 447.5,1048.7 448.3,1053 449.5,1055 449.9,1058.7 450,1058.7 452.4,1059.8 452,1062.8 453,1063.5 454.5,1066.8 451.5,1068.5 453.5,1069.2 454.3,1073.4 456,1075.1 455,1076.6 457.6,1082.2 457.4,1080.7 459.2,1083.6 457.6,1084.4 460.5,1089.9 460.7,1090.2 461.1,1091.1 463.4,1093.8 462.9,1098.2 464.3,1098.5 463,1101 463,1104.5 464.7,1106.6 465.1,1106.3 465.8,1108.6 466.3,1108.6 469.2,1112 468.1,1114.1 469.8,1116.8 471.2,1120 470.9,1123.4 473.7,1121.1 474.4,1127.4 475.1,1125.6 476.1,1130.1 473.6,1129 478.2,1134.3 476.2,1133.5 476.7,1136.2 480.1,1138.8 478.4,1143.6 481.9,1141.9 483.1,1146.1 483.6,1148.4 484.9,1151 485.6,1150.1 485.9,1153.7 487,1155.3 488.5,1157.8 487,1158.2 487.4,1161.5 488,1163.3 489.3,1165.4 491.7,1167.6 494.2,1166.9 495,1171.2 494.9,1174.1 497,1174.6 496.3,1179.5 496,1179.8 499.3,1178.7 500.2,1183.9 502.5,1184.1 503.8,1186.9 502.9,1190.8 502.1,1191.8 505.6,1191.8 507.6,1193.8 507.2,1196.5 509.5,1196.8 509.2,1199.8 510.9,1203.7 511,1205.5 512.5,1205.8 513.2,1207.6 517.2,1210.2 517.6,1210.5 516.9,1212.1 519.2,1215.6 521.2,1214.5 522.2,1220.5 522.8,1218.1 523,1219.7 523.9,1226.1 526.8,1226.5 528.8,1229.6 529.4,1229.8 530.8,1232 532,1233.7 531.8,1235.3 534.2,1237.5 534.1,1236.3 535.2,1241 540.1,1242.1 539.4,1244.6 542.5,1244.9 541.8,1245.3 543.9,1247 545.4,1250.3 548.9,1249 548.9,1250.5 548.6,1255.9 551.9,1258.1 553,1255.1 554.3,1259.6 558,1263 557.7,1261.7 557.8,1264.4 559.9,1263.4 560.7,1264.2 565,1266.3 567.8,1267.5 569,1269.2 567.3,1273.6 569.9,1275 571.3,1273 575.4,1277.7 577.4,1279.2 576.1,1280 580.3,1280.5 583,1280.8 584.8,1284.4 582.8,1282.2 587.2,1287.4 586.7,1286.2 591.1,1286.7 593.4,1289.5 592.1,1290.1 596,1291.6 598.3,1291.3 600.6,1293.6 601.9,1296 602.9,1295.9 606.3,1299.8 608.2,1299 608.1,1297.5 612.8,1301.7 614.1,1300.9 615.2,1305.1 618.1,1304.3 617.9,1304.4 622.2,1305.1 623.4,1307.1 626.2,1309.1 625.8,1305.9 627.7,1308.9 631,1311.8 634.3,1308.7 636.1,1313.4 638.3,1313 637.9,1315.2 642.1,1315.2 644.6,1314.3 643.3,1316.1 648.3,1315 650.1,1319.4 650.2,1318.5 654,1318.5 654.2,1318.1 658.5,1321.5 659.4,1318.6 662.9,1322.7 662.7,1322.3 667.5,1324.5 668.1,1323 670.5,1322.2 671,1322.7 675.2,1324.2 676.8,1324.9 678.7,1324.2 679,1329 682.4,1325 685.6,1328.9 685.8,1328.5 688.7,1328.5 689.6,1326.6 695.6,1331.2 695.8,1330.2 697,1331.6 699.8,1332.5 703.4,1332.4 706.3,1330.5 704.8,1330.7 707.5,1330.6 709.1,1332.9 714.6,1332.9 717.1,1335 715.7,1334.1 719.2,1332.6 723.6,1333.5 724.2,1335.3 728,1335.8 727.9,1335.2 729.1,1337.6 734.6,1334.9 733,1335.3 736.5,1338.2 740.8,1338.2 739.6,1338.3 744.4,1338 747.7,1335.9 746.5,1338.9 751.9,1338.8 751.5,1338.7 755.6,1337 756,1337.9 757.4,1339 759.8,1338.2 761.8,1340.2 763.5,1340.6 766.4,1338 771.6,1339 773.8,1341.8 775.8,1339 776.2,1339 780.3,1342.2 781.3,1340.8 782.4,1342.3 785.1,1341.5 786,1339.9 787.8,1341.9 792,1339.6 795.5,1340.1 795.8,1339.6 797.4,1342.4 799.9,1339.7 802.7,1340.3 806.6,1339.5 809.1,1339.2 810.9,1341.7 810.4,1340.9 812.9,1340 814.7,1340.5 820.1,1343 822,1339.4 821.7,1342.6 822.9,1341.9 826.1,1342.9 827.2,1342.2 830.7,1339.6 831.5,1342.3 835.8,1339.7 837.6,1342.6 839,1341.3 840.9,1339.7 845.6,1341.8 845.5,1339.3 847.2,1341.4 851.1,1340.1 852.1,1341.4 856.3,1342.2 858,1339.8 858.2,1341.9 861.7,1341.9 862.5,1342.2 865.8,1342.4 870.1,1341 868.9,1342.6 873,1342.5 874.3,1339.7" fill="none" stroke="#0000ff" stroke-width="14" stroke-linejoin="round" stroke-linecap="round"/>
<polyline points="152,1341.6 154,1329.1 156,1316.8 158,1304.8 160,1293.1 162,1281.6 164,1270.4 166,1259.5 168,1248.7 170,1238.2 172,1228 174,1217.9 176,1208.1 178,1198.5 180,1189.2 182,1180 184,1171 186,1162.2 188,1153.7 190,1145.3 192,1137 194,1129 196,1121.2 198,1113.5 200,1106 202,1098.6 204,1091.5 206,1084.4 208,1077.6 210,1070.9 212,1064.3 214,1057.9 216,1051.6 218,1045.4 220,1039.4 222,1033.6 224,1027.8 226,1022.2 228,1016.7 230,1011.3 232,1006.1 234,1000.9 236,995.9 238,991 240,986.2 242,981.5 244,976.9 246,972.4 248,968 250,963.7 252,959.5 254,955.4 256,951.4 258,947.4 260,943.6 262,939.8 264,936.1 266,932.5 268,929 270,925.6 272,922.2 274,918.9 276,915.7 278,912.6 280,909.5 282,906.5 284,903.5 286,900.7 288,897.8 290,895.1 292,892.4 294,889.8 296,887.2 298,884.7 300,882.2 302,879.8 304,877.4 306,875.1 308,872.9 310,870.7 312,868.5 314,866.4 316,864.4 318,862.4 320,860.4 322,858.5 324,856.6 326,854.7 328,852.9 330,851.2 332,849.4 334,847.8 336,846.1 338,844.5 340,842.9 342,841.4 344,839.9 346,838.4 348,837 350,835.5 352,834.2 354,832.8 356,831.5 358,830.2 360,828.9 362,827.7 364,826.5 366,825.3 368,824.2 370,823 372,821.9 374,820.9 376,819.8 378,818.8 380,817.8 382,816.8 384,815.8 386,814.9 388,813.9 390,813" fill="none" stroke="#ff0000" stroke-width="5"/>
<polyline points="396.5,822.2 398.5,833.9 400.5,845.4 402.5,856.6 404.5,867.5 406.5,878.2 408.5,888.7 410.5,899 412.5,909 414.5,918.8 416.5,928.3 418.5,937.7 420.5,946.9 422.5,955.8 424.5,964.6 426.5,973.1 428.5,981.5 430.5,989.7 432.5,997.7 434.5,1005.5 436.5,1013.1 438.5,1020.6 440.5,1027.9 442.5,1035.1 444.5,1042 446.5,1048.9 448.5,1055.6 450.5,1062.1 452.5,1068.5 454.5,1074.7 456.5,1080.8 458.5,1086.8 460.5,1092.6 462.5,1098.3 464.5,1103.9 466.5,1109.4 468.5,1114.7 470.5,1119.9 472.5,1125 474.5,1130 476.5,1134.9 478.5,1139.7 480.5,1144.3 482.5,1148.9 484.5,1153.3 486.5,1157.7 488.5,1162 490.5,1166.1 492.5,1170.2 494.5,1174.2 496.5,1178.1 498.5,1181.9 500.5,1185.6 502.5,1189.2 504.5,1192.8 506.5,1196.3 508.5,1199.7 510.5,1203 512.5,1206.3 514.5,1209.4 516.5,1212.5 518.5,1215.6 520.5,1218.6 522.5,1221.5 524.5,1224.3 526.5,1227.1 528.5,1229.8 530.5,1232.5 532.5,1235.1 534.5,1237.6 536.5,1240.1 538.5,1242.5 540.5,1244.9 542.5,1247.2 544.5,1249.5 546.5,1251.7 548.5,1253.9 550.5,1256 552.5,1258.1 554.5,1260.1 556.5,1262.1 558.5,1264 560.5,1265.9 562.5,1267.7 564.5,1269.6 566.5,1271.3 568.5,1273.1 570.5,1274.8 572.5,1276.4 574.5,1278 576.5,1279.6 578.5,1281.2 580.5,1282.7 582.5,1284.2 584.5,1285.6 586.5,1287 588.5,1288.4 590.5,1289.8 592.5,1291.1 594.5,1292.4 596.5,1293.6 598.5,1294.9 600.5,1296.1 602.5,1297.3 604.5,1298.4 606.5,1299.5 608.5,1300.7 610.5,1301.7 612.5,1302.8 614.5,1303.8 616.5,1304.8 618.5,1305.8 620.5,1306.8 622.5,1307.7 624.5,1308.6 626.5,1309.5 628.5,1310.4 630.5,1311.3 632.5,1312.1 634.5,1313 636.5,1313.8 638.5,1314.6 640.5,1315.3 642.5,1316.1 644.5,1316.8 646.5,1317.5 648.5,1318.2 650.5,1318.9 652.5,1319.6 654.5,1320.3 656.5,1320.9 658.5,1321.5 660.5,1322.2 662.5,1322.8 664.5,1323.3 666.5,1323.9 668.5,1324.5 670.5,1325 672.5,1325.6 674.5,1326.1 676.5,1326.6 678.5,1327.1 680.5,1327.6 682.5,1328.1 684.5,1328.6 686.5,1329 688.5,1329.5 690.5,1329.9 692.5,1330.3 694.5,1330.7 696.5,1331.2 698.5,1331.6 700.5,1332 702.5,1332.3 704.5,1332.7 706.5,1333.1 708.5,1333.4 710.5,1333.8 712.5,1334.1 714.5,1334.5 716.5,1334.8 718.5,1335.1 720.5,1335.4 722.5,1335.7 724.5,1336 726.5,1336.3 728.5,1336.6 730.5,1336.9 732.5,1337.2 734.5,1337.4 736.5,1337.7 738.5,1338 740.5,1338.2 742.5,1338.4 744.5,1338.7 746.5,1338.9 748.5,1339.1 750.5,1339.4 752.5,1339.6 754.5,1339.8 756.5,1340 758.5,1340.2 760.5,1340.4 762.5,1340.6 764.5,1340.8 766.5,1341 768.5,1341.2 770.5,1341.4 772.5,1341.5 774.5,1341.7 776.5,1341.9 778.5,1342 780.5,1342.2 782.5,1342.3 784.5,1342.5 786.5,1342.6 788.5,1342.8 790.5,1342.9 792.5,1343.1 794.5,1343.2 796.5,1343.3 798.5,1343.5 800.5,1343.6 802.5,1343.7 804.5,1343.8 806.5,1344 808.5,1344.1 810.5,1344.2 812.5,1344.3 814.5,1344.4 816.5,1344.5 818.5,1344.6 820.5,1344.7 822.5,1344.8 824.5,1344.9 826.5,1345 828.5,1345.1 830.5,1345.2 832.5,1345.3 834.5,1345.4 836.5,1345.5 838.5,1345.5 840.5,1345.6 842.5,1345.7 844.5,1345.8 846.5,1345.9 848.5,1345.9 850.5,1346 852.5,1346.1 854.5,1346.1 856.5,1346.2 858.5,1346.3 860.5,1346.3 862.5,1346.4 864.5,1346.5 866.5,1346.5 868.5,1346.6 870.5,1346.7 872.5,1346.7 874.5,1346.8 876.5,1346.8 878.5,1346.9" fill="none" stroke="#ff0000" stroke-width="5"/>
</g>
<rect x="127.9" y="677" width="751.4" height="671" fill="none" stroke="#000" stroke-width="5"/>
<path d="M127.9,1348 V1336.5 M127.9,677 V688.5 M183.2,1348 V1342 M183.2,677 V683 M238.4,1348 V1336.5 M238.4,677 V688.5 M293.6,1348 V1342 M293.6,677 V683 M348.9,1348 V1336.5 M348.9,677 V688.5 M404.1,1348 V1342 M404.1,677 V683 M459.4,1348 V1336.5 M459.4,677 V688.5 M514.6,1348 V1342 M514.6,677 V683 M569.9,1348 V1336.5 M569.9,677 V688.5 M625.1,1348 V1342 M625.1,677 V683 M680.4,1348 V1336.5 M680.4,677 V688.5 M735.6,1348 V1342 M735.6,677 V683 M790.9,1348 V1336.5 M790.9,677 V688.5 M846.1,1348 V1342 M846.1,677 V683 M127.9,1348 H139.4 M879.3,1348 H867.8 M127.9,1252.2 H133.9 M879.3,1252.2 H873.3 M127.9,1156.3 H139.4 M879.3,1156.3 H867.8 M127.9,1060.4 H133.9 M879.3,1060.4 H873.3 M127.9,964.6 H139.4 M879.3,964.6 H867.8 M127.9,868.8 H133.9 M879.3,868.8 H873.3 M127.9,772.9 H139.4 M879.3,772.9 H867.8 M127.9,677 H133.9 M879.3,677 H873.3" stroke="#000" stroke-width="5" fill="none"/>
<text x="127.9" y="1391.5" font-family="Liberation Serif, serif" font-size="40" text-anchor="middle">0</text>
<text x="238.4" y="1391.5" font-family="Liberation Serif, serif" font-size="40" text-anchor="middle">500</text>
<text x="348.9" y="1391.5" font-family="Liberation Serif, serif" font-size="40" text-anchor="middle">1000</text>
<text x="459.4" y="1391.5" font-family="Liberation Serif, serif" font-size="40" text-anchor="middle">1500</text>
<text x="569.9" y="1391.5" font-family="Liberation Serif, serif" font-size="40" text-anchor="middle">2000</text>
<text x="680.4" y="1391.5" font-family="Liberation Serif, serif" font-size="40" text-anchor="middle">2500</text>
<text x="790.9" y="1391.5" font-family="Liberation Serif, serif" font-size="40" text-anchor="middle">3000</text>
<text x="114.5" y="1359" font-family="Liberation Serif, serif" font-size="40" text-anchor="end">0.0</text>
<text x="114.5" y="1167.3" font-family="Liberation Serif, serif" font-size="40" text-anchor="end">0.1</text>
<text x="114.5" y="975.6" font-family="Liberation Serif, serif" font-size="40" text-anchor="end">0.2</text>
<text x="114.5" y="783.9" font-family="Liberation Serif, serif" font-size="40" text-anchor="end">0.3</text>
<text x="427.7" y="1450.8" font-family="Liberation Serif, serif" font-size="38.5">Time (ns)</text>
<text transform="translate(28.6,1123) rotate(-90)" font-family="Liberation Serif, serif" font-size="39">V<tspan font-size="24" dy="15">A</tspan><tspan dy="-15"> (V), </tspan><tspan fill="#0000ff">V</tspan><tspan fill="#0000ff" font-size="24" dy="15">B</tspan><tspan fill="#0000ff" dy="-15"> (V)</tspan></text>
<text x="150" y="727.6" font-family="Liberation Serif, serif" font-size="40">300 K</text>
<text y="1015.5" font-family="Liberation Serif, serif" font-size="37.5"><tspan x="551" font-style="italic">R</tspan><tspan x="575.5" font-size="24" dy="13.7">cell</tspan><tspan x="616" dy="-13.7">≈</tspan><tspan x="650" font-size="39">1.47 kΩ</tspan></text>
<text x="193" y="1235.9" font-family="Liberation Serif, serif" font-size="36" fill="#ff0000"><tspan font-style="italic">τ</tspan><tspan font-size="24" dy="11">r</tspan><tspan dy="-11"> ≈ 405.74 ns</tspan></text>
<text x="190" y="1293.9" font-family="Liberation Serif, serif" font-size="36" fill="#ff0000"><tspan font-style="italic">C</tspan><tspan font-size="24" dy="11.5">eq</tspan><tspan dy="-11.5"> ≈ 275 pF</tspan></text>
<text y="1224.2" font-family="Liberation Serif, serif" font-size="40" fill="#ff0000"><tspan x="657" font-style="italic">τ</tspan><tspan x="671.5" font-size="26" dy="12">f</tspan><tspan x="688" dy="-12">≈</tspan><tspan x="718">402.47</tspan><tspan x="838">ns</tspan></text>
<text y="1288.7" font-family="Liberation Serif, serif" font-size="40" fill="#ff0000"><tspan x="654.5">C</tspan><tspan x="680.5" font-size="26" dy="12">eq</tspan><tspan x="712.5" dy="-12">≈</tspan><tspan x="743">274</tspan><tspan x="813">pF</tspan></text>
<path d="M284.5,1196 C283,1165 272,1140 246,1126" fill="none" stroke="#ff0000" stroke-width="4.2"/>
<polygon points="206.3,1107.8 251,1116.5 239.5,1133.8" fill="#ff0000"/>
<path d="M650.7,1239 C630,1236 610,1237 590,1241" fill="none" stroke="#ff0000" stroke-width="4.2"/>
<polygon points="548.2,1253.6 588.6,1229 595.8,1249.2" fill="#ff0000"/>
<rect x="452.3" y="758.2" width="99.7" height="164.3" fill="none" stroke="#7a7a7a" stroke-width="2" stroke-dasharray="2 2.6" rx="3"/>
<rect x="561.3" y="778.5" width="91.1" height="144" fill="none" stroke="#7a7a7a" stroke-width="2" stroke-dasharray="2 2.6" rx="3"/>
<rect x="659.4" y="778.5" width="101.9" height="143.8" fill="none" stroke="#7a7a7a" stroke-width="2" stroke-dasharray="2 2.6" rx="3"/>
<polyline points="492.3,761.9 492.3,728 624.7,728 632.7,713.2 645.8,741.6 660.3,712.8 674.5,741.6 681.2,728 813.6,728 813.6,821" fill="none" stroke="#000" stroke-width="2.8" stroke-linejoin="miter"/>
<polyline points="492.3,761.9 507.1,769.9 479.4,783.4 507.1,798.2 479.4,812.3 492.3,817.9 492.3,845" fill="none" stroke="#000" stroke-width="2.8" stroke-linejoin="miter"/>
<circle cx="492.9" cy="874" r="28.8" fill="none" stroke="#000" stroke-width="3"/>
<polyline points="470.2,886.2 479.4,886.2 484.3,862.8 502.2,862.8 507.1,886.2 515.7,886.2" fill="none" stroke="#000" stroke-width="3" stroke-linejoin="miter"/>
<line x1="492.9" y1="903" x2="492.9" y2="937" stroke="#9a9a9a" stroke-width="2.6"/>
<polyline points="590.3,728 590.3,803.7 604.3,811.1 576.7,825.3 604.3,839.4 576.7,853.6 590.3,860.3 590.3,937" fill="none" stroke="#000" stroke-width="2.8" stroke-linejoin="miter"/>
<polyline points="715.7,728 715.7,803.7 729.7,811.1 702.1,825.3 729.7,839.4 702.1,853.6 715.7,860.3 715.7,937" fill="none" stroke="#000" stroke-width="2.8" stroke-linejoin="miter"/>
<rect x="798.8" y="819.8" width="30.2" height="3.8" fill="#000"/>
<rect x="798.8" y="827.2" width="30.2" height="3.8" fill="#000"/>
<polyline points="813.6,829 813.6,937" fill="none" stroke="#000" stroke-width="2.8" stroke-linejoin="miter"/>
<rect x="585.2" y="721.2" width="10" height="10" fill="#000"/>
<rect x="710.7" y="721.2" width="10" height="10" fill="#000"/>
<polygon points="464,937.9 522.5,937.9 493.2,966.2" fill="#ffffff00" stroke="#000" stroke-width="3.6" stroke-linejoin="miter"/>
<polygon points="561.3,937.9 619.7,937.9 590.5,966.2" fill="#ffffff00" stroke="#000" stroke-width="3.6" stroke-linejoin="miter"/>
<polygon points="686.3,937.9 745.8,937.9 716,966.2" fill="#ffffff00" stroke="#000" stroke-width="3.6" stroke-linejoin="miter"/>
<polygon points="784,937.9 842.9,937.9 813.5,966.2" fill="#ffffff00" stroke="#000" stroke-width="3.6" stroke-linejoin="miter"/>
<text x="497.2" y="751.4" font-family="Liberation Serif, serif" font-weight="bold" font-size="22.5">FGU</text>
<text x="577.9" y="712.6" font-family="Liberation Serif, serif" font-weight="bold" font-size="27">V</text>
<text x="593.9" y="718.8" font-family="Liberation Serif, serif" font-weight="bold" font-size="18">A</text>
<text x="706.5" y="712" font-family="Liberation Serif, serif" font-weight="bold" font-size="27" fill="#0000c8">V</text>
<text x="726.8" y="718.8" font-family="Liberation Serif, serif" font-weight="bold" font-size="18" fill="#0000c8">B</text>
<text x="626.5" y="761.9" font-family="Liberation Serif, serif" font-weight="bold" font-size="27">R</text>
<text x="646.2" y="768" font-family="Liberation Serif, serif" font-weight="bold" font-size="18">cell</text>
<text x="767.4" y="840" font-family="Liberation Serif, serif" font-weight="bold" font-size="27">C</text>
<text x="787.1" y="845" font-family="Liberation Serif, serif" font-weight="bold" font-size="18">eq</text>
<text font-family="Liberation Serif, serif" font-weight="bold" font-size="20.5" text-anchor="middle"><tspan x="619.4" y="893.6">OSC</tspan><tspan x="619.2" y="918.2">Ch1</tspan></text>
<text font-family="Liberation Serif, serif" font-weight="bold" font-size="20.5" text-anchor="middle"><tspan x="686.2" y="892.7">OSC</tspan><tspan x="686.5" y="918">Ch2</tspan></text>
<text transform="translate(531.5,795) rotate(-90)" font-family="Liberation Serif, serif" font-weight="bold" font-size="24" text-anchor="middle">50 Ω</text>
<text transform="translate(627.8,837) rotate(-90)" font-family="Liberation Serif, serif" font-weight="bold" font-size="24" text-anchor="middle">50 Ω</text>
<text transform="translate(537.8,902) rotate(-90)" font-family="Liberation Serif, serif" font-weight="bold" font-size="23.5">V<tspan font-size="16" dy="6">pulse</tspan></text>
<text transform="translate(753.5,917) rotate(-90)" font-family="Liberation Serif, serif" font-weight="bold" font-size="24">R<tspan font-size="17" dy="6">Ch2</tspan><tspan dy="-6"> = 1 MΩ</tspan></text>
<text x="945.8" y="674.5" font-family="Liberation Serif, serif" font-size="39">(c)</text>
<clipPath id="cclip"><rect x="1087.3" y="665" width="733.2" height="695.2"/></clipPath>
<g clip-path="url(#cclip)">
<g fill="url(#gk)"><circle cx="1304.1" cy="677.6" r="6.5"/><circle cx="1305.7" cy="684.5" r="6.5"/><circle cx="1307.8" cy="689.4" r="6.5"/><circle cx="1309.4" cy="688.8" r="6.5"/><circle cx="1311.8" cy="697" r="6.5"/><circle cx="1314.2" cy="699.2" r="6.5"/><circle cx="1315.2" cy="696.4" r="6.5"/><circle cx="1317.1" cy="695.8" r="6.5"/><circle cx="1319" cy="693.3" r="6.5"/><circle cx="1322" cy="696.5" r="6.5"/><circle cx="1323.6" cy="699.8" r="6.5"/><circle cx="1325.3" cy="699" r="6.5"/><circle cx="1328" cy="706.6" r="6.5"/><circle cx="1329.3" cy="700.2" r="6.5"/><circle cx="1331.9" cy="698.1" r="6.5"/><circle cx="1333.5" cy="707" r="6.5"/><circle cx="1335" cy="708.1" r="6.5"/><circle cx="1337.6" cy="708.8" r="6.5"/><circle cx="1339.1" cy="704.3" r="6.5"/><circle cx="1341.3" cy="709" r="6.5"/><circle cx="1344.2" cy="703.9" r="6.5"/><circle cx="1345.3" cy="702.3" r="6.5"/><circle cx="1348" cy="701.6" r="6.5"/><circle cx="1349.5" cy="707.1" r="6.5"/><circle cx="1351.2" cy="709.2" r="6.5"/><circle cx="1353.5" cy="703.2" r="6.5"/><circle cx="1356.2" cy="705" r="6.5"/><circle cx="1358.1" cy="706.4" r="6.5"/><circle cx="1360" cy="707.5" r="6.5"/><circle cx="1362.2" cy="705.1" r="6.5"/><circle cx="1363.9" cy="706.9" r="6.5"/><circle cx="1365.1" cy="707.7" r="6.5"/><circle cx="1367.3" cy="710.9" r="6.5"/><circle cx="1369.5" cy="709.3" r="6.5"/><circle cx="1371.7" cy="711.8" r="6.5"/><circle cx="1373.2" cy="709.4" r="6.5"/><circle cx="1375.3" cy="717.4" r="6.5"/><circle cx="1378.1" cy="716.4" r="6.5"/><circle cx="1380.1" cy="718.8" r="6.5"/><circle cx="1381.1" cy="713.6" r="6.5"/><circle cx="1383.3" cy="719.4" r="6.5"/><circle cx="1386" cy="712.5" r="6.5"/><circle cx="1387.2" cy="713.5" r="6.5"/><circle cx="1389.3" cy="711.8" r="6.5"/><circle cx="1391.7" cy="720.9" r="6.5"/><circle cx="1393.2" cy="721.7" r="6.5"/><circle cx="1395.5" cy="714.4" r="6.5"/><circle cx="1397.4" cy="713.4" r="6.5"/><circle cx="1399.4" cy="713.7" r="6.5"/><circle cx="1401.8" cy="724.1" r="6.5"/><circle cx="1403.2" cy="720.5" r="6.5"/><circle cx="1406.1" cy="714.1" r="6.5"/><circle cx="1407" cy="725.3" r="6.5"/><circle cx="1409.9" cy="720.7" r="6.5"/><circle cx="1411.1" cy="726.5" r="6.5"/><circle cx="1414.1" cy="724.1" r="6.5"/><circle cx="1416" cy="724.3" r="6.5"/><circle cx="1417.8" cy="721.3" r="6.5"/><circle cx="1419.5" cy="727.8" r="6.5"/><circle cx="1421.7" cy="728.3" r="6.5"/><circle cx="1423.7" cy="723.3" r="6.5"/><circle cx="1425.8" cy="720.2" r="6.5"/><circle cx="1427.9" cy="729.8" r="6.5"/><circle cx="1429.7" cy="728.1" r="6.5"/><circle cx="1431.1" cy="729.3" r="6.5"/><circle cx="1433.7" cy="720.9" r="6.5"/><circle cx="1435.8" cy="723.3" r="6.5"/><circle cx="1438.1" cy="727.7" r="6.5"/><circle cx="1439.4" cy="720.9" r="6.5"/><circle cx="1441.2" cy="723.5" r="6.5"/><circle cx="1443.5" cy="729.3" r="6.5"/><circle cx="1445.8" cy="726.4" r="6.5"/><circle cx="1448" cy="727.2" r="6.5"/><circle cx="1449.5" cy="732.9" r="6.5"/><circle cx="1451.2" cy="726.8" r="6.5"/><circle cx="1454" cy="732.4" r="6.5"/><circle cx="1455.3" cy="733.8" r="6.5"/><circle cx="1457.3" cy="727.7" r="6.5"/><circle cx="1459.8" cy="726.9" r="6.5"/><circle cx="1462" cy="725.9" r="6.5"/><circle cx="1463.1" cy="728.1" r="6.5"/><circle cx="1465" cy="732" r="6.5"/><circle cx="1467.4" cy="729" r="6.5"/><circle cx="1469.2" cy="723.4" r="6.5"/><circle cx="1472" cy="723.3" r="6.5"/><circle cx="1473.1" cy="724.3" r="6.5"/><circle cx="1475.8" cy="727.8" r="6.5"/><circle cx="1478.2" cy="732" r="6.5"/><circle cx="1479.6" cy="725.6" r="6.5"/><circle cx="1481.6" cy="723.1" r="6.5"/><circle cx="1483.3" cy="725.2" r="6.5"/><circle cx="1485.6" cy="730.7" r="6.5"/><circle cx="1487.5" cy="731.6" r="6.5"/><circle cx="1489.1" cy="733.6" r="6.5"/><circle cx="1491.2" cy="732.1" r="6.5"/><circle cx="1494.1" cy="730.9" r="6.5"/><circle cx="1496.1" cy="730" r="6.5"/><circle cx="1497.6" cy="734.5" r="6.5"/><circle cx="1499.9" cy="726.5" r="6.5"/><circle cx="1501.9" cy="731.7" r="6.5"/><circle cx="1504.2" cy="734.2" r="6.5"/><circle cx="1505.9" cy="731" r="6.5"/><circle cx="1508" cy="735" r="6.5"/><circle cx="1509.5" cy="725.9" r="6.5"/><circle cx="1511.6" cy="733.7" r="6.5"/><circle cx="1513.1" cy="733.8" r="6.5"/><circle cx="1515.4" cy="727.5" r="6.5"/><circle cx="1517.2" cy="727.8" r="6.5"/><circle cx="1520" cy="734.5" r="6.5"/><circle cx="1521.6" cy="737.4" r="6.5"/><circle cx="1523.3" cy="728.7" r="6.5"/><circle cx="1525.9" cy="731.1" r="6.5"/><circle cx="1528" cy="734" r="6.5"/><circle cx="1529.5" cy="731.9" r="6.5"/><circle cx="1531.2" cy="739" r="6.5"/><circle cx="1533.6" cy="740.3" r="6.5"/><circle cx="1535.6" cy="732.1" r="6.5"/><circle cx="1537" cy="736.6" r="6.5"/><circle cx="1539.5" cy="736.4" r="6.5"/><circle cx="1541.6" cy="737.3" r="6.5"/><circle cx="1543.6" cy="732.1" r="6.5"/><circle cx="1546.1" cy="741.9" r="6.5"/><circle cx="1547.2" cy="736.3" r="6.5"/><circle cx="1550.1" cy="740.2" r="6.5"/><circle cx="1551.2" cy="734.9" r="6.5"/><circle cx="1553.2" cy="741.9" r="6.5"/><circle cx="1555.2" cy="732.5" r="6.5"/><circle cx="1557.4" cy="739.4" r="6.5"/><circle cx="1559.1" cy="738.6" r="6.5"/><circle cx="1561.6" cy="733.5" r="6.5"/><circle cx="1563.6" cy="734.1" r="6.5"/><circle cx="1565.5" cy="736.1" r="6.5"/><circle cx="1567.2" cy="734" r="6.5"/><circle cx="1569.6" cy="739.6" r="6.5"/><circle cx="1572" cy="739.9" r="6.5"/><circle cx="1574" cy="741" r="6.5"/><circle cx="1575.4" cy="737" r="6.5"/><circle cx="1578.2" cy="736.5" r="6.5"/><circle cx="1579.3" cy="736.1" r="6.5"/><circle cx="1581.1" cy="737.7" r="6.5"/><circle cx="1583.9" cy="739.8" r="6.5"/><circle cx="1585.8" cy="739" r="6.5"/><circle cx="1587.8" cy="736.1" r="6.5"/><circle cx="1589.1" cy="745.2" r="6.5"/><circle cx="1591.6" cy="743" r="6.5"/><circle cx="1593.1" cy="737" r="6.5"/><circle cx="1595.7" cy="734.9" r="6.5"/><circle cx="1597.2" cy="740.9" r="6.5"/><circle cx="1600" cy="736.6" r="6.5"/><circle cx="1601.1" cy="745.4" r="6.5"/><circle cx="1603.6" cy="745.1" r="6.5"/><circle cx="1605.6" cy="738.8" r="6.5"/><circle cx="1607.7" cy="739.9" r="6.5"/><circle cx="1610" cy="742.2" r="6.5"/><circle cx="1611.9" cy="739.1" r="6.5"/><circle cx="1613.2" cy="736.2" r="6.5"/><circle cx="1616.1" cy="734.3" r="6.5"/><circle cx="1618" cy="742.4" r="6.5"/><circle cx="1619.7" cy="739.2" r="6.5"/><circle cx="1622" cy="745.5" r="6.5"/><circle cx="1623.9" cy="744.4" r="6.5"/><circle cx="1625.5" cy="743.7" r="6.5"/><circle cx="1627.8" cy="744.8" r="6.5"/><circle cx="1629.5" cy="743.8" r="6.5"/><circle cx="1631.4" cy="736.3" r="6.5"/><circle cx="1633.4" cy="735.4" r="6.5"/><circle cx="1635.3" cy="742.1" r="6.5"/><circle cx="1637.4" cy="743" r="6.5"/><circle cx="1639.6" cy="741.9" r="6.5"/><circle cx="1641.8" cy="746.2" r="6.5"/><circle cx="1644.2" cy="743.7" r="6.5"/><circle cx="1645.9" cy="741.2" r="6.5"/><circle cx="1647.1" cy="738.4" r="6.5"/><circle cx="1649.1" cy="737.7" r="6.5"/><circle cx="1651.7" cy="743.2" r="6.5"/><circle cx="1653.7" cy="744" r="6.5"/><circle cx="1656" cy="741" r="6.5"/><circle cx="1657.9" cy="740" r="6.5"/><circle cx="1659.2" cy="743" r="6.5"/><circle cx="1661.6" cy="734.7" r="6.5"/><circle cx="1664.1" cy="733.7" r="6.5"/><circle cx="1665.7" cy="738.8" r="6.5"/><circle cx="1667.8" cy="736" r="6.5"/><circle cx="1669.9" cy="736.1" r="6.5"/><circle cx="1671.3" cy="732.9" r="6.5"/><circle cx="1673.9" cy="733.9" r="6.5"/><circle cx="1675.9" cy="742.1" r="6.5"/><circle cx="1678.1" cy="742.6" r="6.5"/><circle cx="1679.5" cy="741.3" r="6.5"/><circle cx="1681.3" cy="742.3" r="6.5"/><circle cx="1683.9" cy="742.1" r="6.5"/><circle cx="1686" cy="742.7" r="6.5"/><circle cx="1687.7" cy="733.4" r="6.5"/><circle cx="1689.1" cy="734.4" r="6.5"/><circle cx="1691.5" cy="733.7" r="6.5"/><circle cx="1693.3" cy="737.6" r="6.5"/><circle cx="1695.9" cy="737.3" r="6.5"/><circle cx="1698.1" cy="743.7" r="6.5"/><circle cx="1699.1" cy="735.6" r="6.5"/><circle cx="1701.7" cy="742" r="6.5"/><circle cx="1703.8" cy="736.1" r="6.5"/><circle cx="1705.8" cy="739.6" r="6.5"/><circle cx="1707.3" cy="735.4" r="6.5"/><circle cx="1710.1" cy="743.8" r="6.5"/><circle cx="1711.3" cy="733.8" r="6.5"/><circle cx="1713.1" cy="740" r="6.5"/><circle cx="1715.1" cy="734.1" r="6.5"/><circle cx="1717.8" cy="739.8" r="6.5"/><circle cx="1719.3" cy="739" r="6.5"/><circle cx="1722" cy="741.8" r="6.5"/><circle cx="1724" cy="734.6" r="6.5"/><circle cx="1725.3" cy="742.2" r="6.5"/><circle cx="1728" cy="736.7" r="6.5"/><circle cx="1730.2" cy="741.2" r="6.5"/><circle cx="1731.9" cy="740.1" r="6.5"/><circle cx="1733.4" cy="739.6" r="6.5"/><circle cx="1735.1" cy="744.2" r="6.5"/><circle cx="1737.6" cy="740.5" r="6.5"/><circle cx="1739.9" cy="738.1" r="6.5"/><circle cx="1741.8" cy="736.9" r="6.5"/><circle cx="1743.9" cy="737.7" r="6.5"/><circle cx="1745.2" cy="738.2" r="6.5"/><circle cx="1747.4" cy="743.2" r="6.5"/><circle cx="1749.7" cy="742.9" r="6.5"/><circle cx="1752.1" cy="746.4" r="6.5"/><circle cx="1753.4" cy="745.1" r="6.5"/><circle cx="1756.1" cy="740.7" r="6.5"/><circle cx="1757.4" cy="739.9" r="6.5"/><circle cx="1759.5" cy="741.2" r="6.5"/><circle cx="1761.7" cy="739.4" r="6.5"/><circle cx="1764" cy="743.7" r="6.5"/><circle cx="1765.9" cy="739.9" r="6.5"/><circle cx="1767" cy="741.5" r="6.5"/><circle cx="1769.7" cy="744.4" r="6.5"/><circle cx="1772" cy="746.2" r="6.5"/><circle cx="1773.9" cy="744.3" r="6.5"/><circle cx="1775.9" cy="738.7" r="6.5"/><circle cx="1777.8" cy="739.3" r="6.5"/><circle cx="1779.8" cy="746.1" r="6.5"/><circle cx="1781.9" cy="740.1" r="6.5"/><circle cx="1783.5" cy="746.2" r="6.5"/><circle cx="1785.8" cy="748.3" r="6.5"/><circle cx="1787.9" cy="743.7" r="6.5"/><circle cx="1789.5" cy="748.3" r="6.5"/><circle cx="1792" cy="746" r="6.5"/><circle cx="1794.1" cy="748.3" r="6.5"/><circle cx="1795.6" cy="746.7" r="6.5"/><circle cx="1797.5" cy="748.6" r="6.5"/><circle cx="1799.9" cy="741.2" r="6.5"/><circle cx="1801.2" cy="744.2" r="6.5"/><circle cx="1803.4" cy="744.2" r="6.5"/><circle cx="1805.4" cy="740.7" r="6.5"/><circle cx="1807.9" cy="746.5" r="6.5"/><circle cx="1809.6" cy="739.6" r="6.5"/><circle cx="1811" cy="749.1" r="6.5"/><circle cx="1813.3" cy="740.6" r="6.5"/><circle cx="1815.7" cy="746.2" r="6.5"/><circle cx="1817.3" cy="740.1" r="6.5"/></g>
<g fill="url(#gr)"><circle cx="1089" cy="838" r="6.5"/><circle cx="1089" cy="841.5" r="6.5"/><circle cx="1089" cy="845" r="6.5"/><circle cx="1089" cy="848.5" r="6.5"/><circle cx="1089" cy="852" r="6.5"/><circle cx="1089" cy="855.5" r="6.5"/><circle cx="1089" cy="859" r="6.5"/><circle cx="1089" cy="862.5" r="6.5"/><circle cx="1091.8" cy="860.4" r="6.5"/><circle cx="1094" cy="861.9" r="6.5"/><circle cx="1096.5" cy="863.2" r="6.5"/><circle cx="1098.5" cy="860" r="6.5"/><circle cx="1099.5" cy="857.3" r="6.5"/><circle cx="1101.9" cy="865.1" r="6.5"/><circle cx="1103.7" cy="862.7" r="6.5"/><circle cx="1105.7" cy="865.6" r="6.5"/><circle cx="1107.8" cy="863.6" r="6.5"/><circle cx="1110.1" cy="867.3" r="6.5"/><circle cx="1111.8" cy="861.4" r="6.5"/><circle cx="1114" cy="869.7" r="6.5"/><circle cx="1115.7" cy="872" r="6.5"/><circle cx="1118.3" cy="863.5" r="6.5"/><circle cx="1120.4" cy="871" r="6.5"/><circle cx="1121.7" cy="864.1" r="6.5"/><circle cx="1124" cy="865.3" r="6.5"/><circle cx="1126.1" cy="875.4" r="6.5"/><circle cx="1128.3" cy="869.4" r="6.5"/><circle cx="1129.5" cy="876.6" r="6.5"/><circle cx="1132.1" cy="869.9" r="6.5"/><circle cx="1134.4" cy="870" r="6.5"/><circle cx="1135.5" cy="872.1" r="6.5"/><circle cx="1138.3" cy="874.2" r="6.5"/><circle cx="1139.5" cy="877.1" r="6.5"/><circle cx="1142.6" cy="875.2" r="6.5"/><circle cx="1143.4" cy="878.5" r="6.5"/><circle cx="1145.7" cy="879.7" r="6.5"/><circle cx="1147.4" cy="877.7" r="6.5"/><circle cx="1149.6" cy="882.8" r="6.5"/><circle cx="1151.9" cy="878" r="6.5"/><circle cx="1153.8" cy="878.7" r="6.5"/><circle cx="1155.7" cy="883.2" r="6.5"/><circle cx="1157.8" cy="884.2" r="6.5"/><circle cx="1160.3" cy="883.6" r="6.5"/><circle cx="1161.5" cy="886.9" r="6.5"/><circle cx="1164.2" cy="878.8" r="6.5"/><circle cx="1165.9" cy="880.3" r="6.5"/><circle cx="1167.5" cy="885.6" r="6.5"/><circle cx="1169.5" cy="880.6" r="6.5"/><circle cx="1172.5" cy="879.8" r="6.5"/><circle cx="1174.2" cy="884.8" r="6.5"/><circle cx="1175.9" cy="888.8" r="6.5"/><circle cx="1177.4" cy="884.3" r="6.5"/><circle cx="1180.6" cy="887.6" r="6.5"/><circle cx="1182.1" cy="887.8" r="6.5"/><circle cx="1183.8" cy="883.8" r="6.5"/><circle cx="1185.9" cy="881.8" r="6.5"/><circle cx="1188.4" cy="889.6" r="6.5"/><circle cx="1190.3" cy="883.1" r="6.5"/><circle cx="1191.8" cy="888.2" r="6.5"/><circle cx="1194.3" cy="883.9" r="6.5"/><circle cx="1196.3" cy="888.8" r="6.5"/><circle cx="1198.5" cy="885.8" r="6.5"/><circle cx="1199.5" cy="886.1" r="6.5"/><circle cx="1202.2" cy="890" r="6.5"/><circle cx="1203.8" cy="893.8" r="6.5"/><circle cx="1206.6" cy="885" r="6.5"/><circle cx="1208.1" cy="893.3" r="6.5"/><circle cx="1209.7" cy="889.9" r="6.5"/><circle cx="1212.4" cy="895.5" r="6.5"/><circle cx="1214.4" cy="886.2" r="6.5"/><circle cx="1215.7" cy="894.7" r="6.5"/><circle cx="1217.6" cy="894.2" r="6.5"/><circle cx="1219.4" cy="886.2" r="6.5"/><circle cx="1222.5" cy="896" r="6.5"/><circle cx="1224.2" cy="889" r="6.5"/><circle cx="1226.1" cy="890.4" r="6.5"/><circle cx="1227.6" cy="887" r="6.5"/><circle cx="1229.9" cy="888.5" r="6.5"/><circle cx="1232" cy="889.1" r="6.5"/><circle cx="1233.8" cy="893.3" r="6.5"/><circle cx="1236.2" cy="887.8" r="6.5"/><circle cx="1238.1" cy="897.7" r="6.5"/><circle cx="1240.1" cy="891.9" r="6.5"/><circle cx="1242.3" cy="896.2" r="6.5"/><circle cx="1244.4" cy="899.1" r="6.5"/><circle cx="1245.9" cy="893.3" r="6.5"/><circle cx="1248" cy="899" r="6.5"/><circle cx="1250.5" cy="894" r="6.5"/><circle cx="1252.3" cy="889.8" r="6.5"/><circle cx="1254.1" cy="898" r="6.5"/><circle cx="1256.1" cy="893.8" r="6.5"/><circle cx="1257.9" cy="891.4" r="6.5"/><circle cx="1259.5" cy="894.6" r="6.5"/><circle cx="1261.7" cy="896.5" r="6.5"/><circle cx="1263.7" cy="895" r="6.5"/><circle cx="1266.6" cy="900.3" r="6.5"/><circle cx="1267.9" cy="900.4" r="6.5"/><circle cx="1270.3" cy="894" r="6.5"/><circle cx="1271.5" cy="901.8" r="6.5"/><circle cx="1274" cy="893.8" r="6.5"/><circle cx="1275.7" cy="893.2" r="6.5"/><circle cx="1277.5" cy="896.6" r="6.5"/><circle cx="1279.9" cy="902.6" r="6.5"/><circle cx="1281.5" cy="900" r="6.5"/><circle cx="1283.8" cy="903" r="6.5"/><circle cx="1286.6" cy="903.6" r="6.5"/><circle cx="1287.8" cy="895.8" r="6.5"/><circle cx="1289.6" cy="904.2" r="6.5"/><circle cx="1292" cy="898.9" r="6.5"/><circle cx="1294.6" cy="904.3" r="6.5"/><circle cx="1295.6" cy="901.4" r="6.5"/><circle cx="1297.5" cy="895.8" r="6.5"/><circle cx="1300.5" cy="899.2" r="6.5"/><circle cx="1301.6" cy="904.2" r="6.5"/><circle cx="1303.9" cy="907.1" r="6.5"/><circle cx="1305.8" cy="898.7" r="6.5"/><circle cx="1307.6" cy="898.9" r="6.5"/><circle cx="1310.3" cy="903.9" r="6.5"/><circle cx="1312.5" cy="903.9" r="6.5"/><circle cx="1313.8" cy="899.5" r="6.5"/><circle cx="1315.7" cy="905.1" r="6.5"/><circle cx="1318.6" cy="899.1" r="6.5"/><circle cx="1320" cy="903.8" r="6.5"/><circle cx="1321.7" cy="903.9" r="6.5"/><circle cx="1323.5" cy="905.8" r="6.5"/><circle cx="1325.7" cy="905" r="6.5"/><circle cx="1327.6" cy="902.4" r="6.5"/><circle cx="1329.4" cy="907.9" r="6.5"/><circle cx="1331.9" cy="905.2" r="6.5"/><circle cx="1333.6" cy="903" r="6.5"/><circle cx="1335.8" cy="904.5" r="6.5"/><circle cx="1338" cy="906.1" r="6.5"/><circle cx="1340.2" cy="906.7" r="6.5"/><circle cx="1341.6" cy="907.8" r="6.5"/><circle cx="1344.1" cy="899.4" r="6.5"/><circle cx="1346.3" cy="901.9" r="6.5"/><circle cx="1347.7" cy="906" r="6.5"/><circle cx="1350.1" cy="899.6" r="6.5"/><circle cx="1352.1" cy="897.4" r="6.5"/><circle cx="1354.4" cy="903.5" r="6.5"/><circle cx="1355.4" cy="898.3" r="6.5"/><circle cx="1357.9" cy="901.3" r="6.5"/><circle cx="1359.5" cy="905" r="6.5"/><circle cx="1362.1" cy="902.9" r="6.5"/><circle cx="1363.6" cy="899.6" r="6.5"/><circle cx="1365.8" cy="897" r="6.5"/><circle cx="1367.7" cy="902.4" r="6.5"/><circle cx="1370.4" cy="897.6" r="6.5"/><circle cx="1371.6" cy="898.9" r="6.5"/><circle cx="1374.3" cy="905.6" r="6.5"/><circle cx="1375.8" cy="900.4" r="6.5"/><circle cx="1377.5" cy="906.3" r="6.5"/><circle cx="1380.6" cy="904.1" r="6.5"/><circle cx="1382.3" cy="900.4" r="6.5"/><circle cx="1384.5" cy="897.7" r="6.5"/><circle cx="1385.8" cy="899.1" r="6.5"/><circle cx="1387.4" cy="895.9" r="6.5"/><circle cx="1390.3" cy="904.3" r="6.5"/><circle cx="1392.1" cy="898.5" r="6.5"/><circle cx="1394.5" cy="900.7" r="6.5"/><circle cx="1396.6" cy="899.3" r="6.5"/><circle cx="1397.9" cy="896.4" r="6.5"/><circle cx="1399.8" cy="897" r="6.5"/><circle cx="1402.1" cy="906.3" r="6.5"/><circle cx="1403.9" cy="902.4" r="6.5"/><circle cx="1406.3" cy="902" r="6.5"/><circle cx="1407.6" cy="901.2" r="6.5"/><circle cx="1409.6" cy="899.3" r="6.5"/><circle cx="1411.8" cy="902.2" r="6.5"/><circle cx="1414.2" cy="908" r="6.5"/><circle cx="1415.9" cy="899.9" r="6.5"/><circle cx="1417.8" cy="904.7" r="6.5"/><circle cx="1419.6" cy="897.1" r="6.5"/><circle cx="1422.5" cy="901" r="6.5"/><circle cx="1423.8" cy="900.1" r="6.5"/><circle cx="1425.8" cy="907" r="6.5"/><circle cx="1428.5" cy="905.2" r="6.5"/><circle cx="1429.9" cy="900.1" r="6.5"/><circle cx="1431.8" cy="905.9" r="6.5"/><circle cx="1433.5" cy="902.5" r="6.5"/><circle cx="1435.4" cy="899.3" r="6.5"/><circle cx="1437.4" cy="902.9" r="6.5"/><circle cx="1440.1" cy="901" r="6.5"/><circle cx="1441.7" cy="903.8" r="6.5"/><circle cx="1443.6" cy="903.8" r="6.5"/><circle cx="1446.3" cy="899.4" r="6.5"/><circle cx="1448.4" cy="900.6" r="6.5"/><circle cx="1449.8" cy="899.4" r="6.5"/><circle cx="1451.4" cy="896.4" r="6.5"/><circle cx="1454.4" cy="902.6" r="6.5"/><circle cx="1456.2" cy="900.5" r="6.5"/><circle cx="1458.2" cy="900.2" r="6.5"/><circle cx="1460.4" cy="908.5" r="6.5"/><circle cx="1461.5" cy="904.5" r="6.5"/><circle cx="1463.5" cy="901.8" r="6.5"/><circle cx="1466" cy="900.9" r="6.5"/><circle cx="1467.9" cy="898.8" r="6.5"/><circle cx="1470.2" cy="898.9" r="6.5"/><circle cx="1471.8" cy="897.8" r="6.5"/><circle cx="1474.1" cy="898.5" r="6.5"/><circle cx="1476.2" cy="903.3" r="6.5"/><circle cx="1477.8" cy="900.9" r="6.5"/><circle cx="1479.5" cy="900.6" r="6.5"/><circle cx="1482" cy="902.8" r="6.5"/><circle cx="1483.4" cy="899.1" r="6.5"/><circle cx="1486.1" cy="906.1" r="6.5"/><circle cx="1487.6" cy="903.5" r="6.5"/><circle cx="1490.5" cy="903.1" r="6.5"/><circle cx="1492.5" cy="902.6" r="6.5"/><circle cx="1494.1" cy="903.7" r="6.5"/><circle cx="1495.7" cy="901.4" r="6.5"/><circle cx="1497.9" cy="907" r="6.5"/><circle cx="1499.6" cy="898.3" r="6.5"/><circle cx="1501.8" cy="901.3" r="6.5"/><circle cx="1503.6" cy="900.2" r="6.5"/><circle cx="1505.7" cy="905.7" r="6.5"/><circle cx="1507.9" cy="903.7" r="6.5"/><circle cx="1510.2" cy="903" r="6.5"/><circle cx="1512.1" cy="904.7" r="6.5"/><circle cx="1513.8" cy="909.1" r="6.5"/><circle cx="1515.8" cy="908.2" r="6.5"/><circle cx="1518.2" cy="906.5" r="6.5"/><circle cx="1519.6" cy="908.7" r="6.5"/><circle cx="1522.1" cy="905.2" r="6.5"/><circle cx="1524.3" cy="902.8" r="6.5"/><circle cx="1525.7" cy="902.4" r="6.5"/><circle cx="1528" cy="901.6" r="6.5"/><circle cx="1529.5" cy="900" r="6.5"/><circle cx="1531.5" cy="906.7" r="6.5"/><circle cx="1534" cy="907.7" r="6.5"/><circle cx="1536.4" cy="908.6" r="6.5"/><circle cx="1538" cy="901.5" r="6.5"/><circle cx="1540.3" cy="903.8" r="6.5"/><circle cx="1541.8" cy="907.4" r="6.5"/><circle cx="1544.4" cy="907.9" r="6.5"/><circle cx="1545.9" cy="906.6" r="6.5"/><circle cx="1548.4" cy="907.7" r="6.5"/><circle cx="1549.9" cy="902.8" r="6.5"/><circle cx="1551.6" cy="904.3" r="6.5"/><circle cx="1554.5" cy="907.7" r="6.5"/><circle cx="1556.2" cy="903.5" r="6.5"/><circle cx="1557.9" cy="909.1" r="6.5"/><circle cx="1559.5" cy="913.7" r="6.5"/><circle cx="1561.5" cy="904.5" r="6.5"/><circle cx="1564.6" cy="911" r="6.5"/><circle cx="1565.4" cy="906.2" r="6.5"/><circle cx="1567.8" cy="908.2" r="6.5"/><circle cx="1570.4" cy="911.6" r="6.5"/><circle cx="1572.1" cy="907" r="6.5"/><circle cx="1573.9" cy="914.1" r="6.5"/><circle cx="1576.4" cy="909.8" r="6.5"/><circle cx="1577.5" cy="905.4" r="6.5"/><circle cx="1580" cy="907.1" r="6.5"/><circle cx="1581.4" cy="907.5" r="6.5"/><circle cx="1584.2" cy="905.9" r="6.5"/><circle cx="1586" cy="906.7" r="6.5"/><circle cx="1587.5" cy="907.1" r="6.5"/><circle cx="1589.8" cy="913.8" r="6.5"/><circle cx="1592" cy="905.7" r="6.5"/><circle cx="1594.4" cy="907" r="6.5"/><circle cx="1596.4" cy="909.6" r="6.5"/><circle cx="1598.1" cy="905.8" r="6.5"/><circle cx="1599.7" cy="912.5" r="6.5"/><circle cx="1602.6" cy="916" r="6.5"/><circle cx="1604.3" cy="915.7" r="6.5"/><circle cx="1605.6" cy="906.6" r="6.5"/><circle cx="1607.8" cy="906.6" r="6.5"/><circle cx="1610" cy="909.6" r="6.5"/><circle cx="1612.6" cy="907.8" r="6.5"/><circle cx="1614.4" cy="910.8" r="6.5"/><circle cx="1615.9" cy="913.6" r="6.5"/><circle cx="1618.3" cy="915.1" r="6.5"/><circle cx="1620.5" cy="907.8" r="6.5"/><circle cx="1621.7" cy="914.2" r="6.5"/><circle cx="1624.1" cy="907.1" r="6.5"/><circle cx="1625.8" cy="910.6" r="6.5"/><circle cx="1627.8" cy="915.4" r="6.5"/><circle cx="1629.7" cy="910.5" r="6.5"/><circle cx="1631.5" cy="910.5" r="6.5"/><circle cx="1633.7" cy="914.7" r="6.5"/><circle cx="1636.2" cy="912.8" r="6.5"/><circle cx="1637.6" cy="907.4" r="6.5"/><circle cx="1639.4" cy="910.6" r="6.5"/><circle cx="1641.8" cy="910.3" r="6.5"/><circle cx="1643.6" cy="916.3" r="6.5"/><circle cx="1646.3" cy="909.8" r="6.5"/><circle cx="1647.9" cy="916.5" r="6.5"/><circle cx="1649.9" cy="908.7" r="6.5"/><circle cx="1651.7" cy="908.3" r="6.5"/><circle cx="1653.8" cy="916.9" r="6.5"/><circle cx="1656.6" cy="909.8" r="6.5"/><circle cx="1657.9" cy="912.3" r="6.5"/><circle cx="1660.1" cy="908.2" r="6.5"/><circle cx="1662.2" cy="916.1" r="6.5"/><circle cx="1663.5" cy="913.1" r="6.5"/><circle cx="1665.9" cy="915.1" r="6.5"/><circle cx="1667.9" cy="912.5" r="6.5"/><circle cx="1670.1" cy="914.3" r="6.5"/><circle cx="1672.2" cy="908.3" r="6.5"/><circle cx="1674.1" cy="914.7" r="6.5"/><circle cx="1676" cy="910.6" r="6.5"/><circle cx="1677.8" cy="917.9" r="6.5"/><circle cx="1679.9" cy="921.1" r="6.5"/><circle cx="1682.6" cy="912.2" r="6.5"/><circle cx="1684.4" cy="913.4" r="6.5"/><circle cx="1686.4" cy="921.4" r="6.5"/><circle cx="1688.6" cy="917.2" r="6.5"/><circle cx="1690.3" cy="920.6" r="6.5"/><circle cx="1691.9" cy="919.8" r="6.5"/><circle cx="1693.6" cy="920.7" r="6.5"/><circle cx="1695.5" cy="918.2" r="6.5"/><circle cx="1698" cy="920.2" r="6.5"/><circle cx="1700.4" cy="920.2" r="6.5"/><circle cx="1702.5" cy="918.2" r="6.5"/><circle cx="1703.8" cy="914.5" r="6.5"/><circle cx="1705.8" cy="912.9" r="6.5"/><circle cx="1707.5" cy="922.5" r="6.5"/><circle cx="1710.4" cy="917.4" r="6.5"/><circle cx="1711.5" cy="923.3" r="6.5"/><circle cx="1714.2" cy="916.4" r="6.5"/><circle cx="1715.6" cy="922.6" r="6.5"/><circle cx="1717.4" cy="919.5" r="6.5"/><circle cx="1720.2" cy="917.9" r="6.5"/><circle cx="1722.2" cy="920.8" r="6.5"/><circle cx="1724.2" cy="915.2" r="6.5"/><circle cx="1725.5" cy="915.3" r="6.5"/><circle cx="1727.8" cy="921.3" r="6.5"/><circle cx="1730.2" cy="925.1" r="6.5"/><circle cx="1731.8" cy="918.6" r="6.5"/><circle cx="1734.2" cy="916.1" r="6.5"/><circle cx="1735.9" cy="923.5" r="6.5"/><circle cx="1738.5" cy="920.1" r="6.5"/><circle cx="1739.7" cy="922.2" r="6.5"/><circle cx="1742.4" cy="917.8" r="6.5"/><circle cx="1744.2" cy="923.9" r="6.5"/><circle cx="1745.9" cy="924.9" r="6.5"/><circle cx="1747.9" cy="921.7" r="6.5"/><circle cx="1749.7" cy="919.2" r="6.5"/><circle cx="1751.8" cy="925.2" r="6.5"/><circle cx="1753.7" cy="922.6" r="6.5"/><circle cx="1756.5" cy="916.6" r="6.5"/><circle cx="1757.8" cy="919.6" r="6.5"/><circle cx="1760.1" cy="925" r="6.5"/><circle cx="1762.5" cy="916.9" r="6.5"/><circle cx="1763.8" cy="919.3" r="6.5"/><circle cx="1765.8" cy="923.1" r="6.5"/><circle cx="1767.4" cy="926.8" r="6.5"/><circle cx="1769.8" cy="921.6" r="6.5"/><circle cx="1772.2" cy="919.9" r="6.5"/><circle cx="1774.6" cy="927.2" r="6.5"/><circle cx="1776.4" cy="921.5" r="6.5"/><circle cx="1778.6" cy="925" r="6.5"/><circle cx="1779.9" cy="921.7" r="6.5"/><circle cx="1782.6" cy="919.2" r="6.5"/><circle cx="1783.6" cy="920.4" r="6.5"/><circle cx="1785.5" cy="924.4" r="6.5"/><circle cx="1788.1" cy="923" r="6.5"/><circle cx="1790.4" cy="919.1" r="6.5"/><circle cx="1791.5" cy="925.2" r="6.5"/><circle cx="1794.4" cy="916.8" r="6.5"/><circle cx="1795.4" cy="927.1" r="6.5"/><circle cx="1798" cy="922.9" r="6.5"/><circle cx="1799.8" cy="925.2" r="6.5"/><circle cx="1802.1" cy="918" r="6.5"/><circle cx="1804" cy="917.1" r="6.5"/><circle cx="1805.7" cy="924.6" r="6.5"/><circle cx="1807.7" cy="916.7" r="6.5"/><circle cx="1810" cy="922.3" r="6.5"/><circle cx="1812.4" cy="917.9" r="6.5"/><circle cx="1814" cy="927.1" r="6.5"/><circle cx="1816.4" cy="923.2" r="6.5"/><circle cx="1817.4" cy="921.7" r="6.5"/></g>
<g fill="url(#gb)"><circle cx="1089" cy="958" r="6.5"/><circle cx="1089" cy="961.5" r="6.5"/><circle cx="1089" cy="965" r="6.5"/><circle cx="1089" cy="968.5" r="6.5"/><circle cx="1089" cy="972" r="6.5"/><circle cx="1089" cy="975.5" r="6.5"/><circle cx="1089" cy="979" r="6.5"/><circle cx="1089" cy="982.5" r="6.5"/><circle cx="1092.3" cy="981" r="6.5"/><circle cx="1094" cy="974.8" r="6.5"/><circle cx="1095.8" cy="974.4" r="6.5"/><circle cx="1098.4" cy="981.7" r="6.5"/><circle cx="1099.5" cy="979.3" r="6.5"/><circle cx="1102.5" cy="976.5" r="6.5"/><circle cx="1104.2" cy="981.3" r="6.5"/><circle cx="1106.1" cy="987.6" r="6.5"/><circle cx="1107.9" cy="987.9" r="6.5"/><circle cx="1109.7" cy="986.6" r="6.5"/><circle cx="1112" cy="983.7" r="6.5"/><circle cx="1113.9" cy="984.1" r="6.5"/><circle cx="1115.5" cy="988.6" r="6.5"/><circle cx="1117.9" cy="986.1" r="6.5"/><circle cx="1119.8" cy="981.5" r="6.5"/><circle cx="1121.7" cy="986.1" r="6.5"/><circle cx="1123.4" cy="987.2" r="6.5"/><circle cx="1125.4" cy="992.9" r="6.5"/><circle cx="1127.8" cy="993.6" r="6.5"/><circle cx="1129.8" cy="987.8" r="6.5"/><circle cx="1131.8" cy="990.9" r="6.5"/><circle cx="1134.3" cy="990.6" r="6.5"/><circle cx="1135.7" cy="985.9" r="6.5"/><circle cx="1137.9" cy="993.9" r="6.5"/><circle cx="1139.7" cy="990.7" r="6.5"/><circle cx="1142.6" cy="988" r="6.5"/><circle cx="1143.8" cy="991.6" r="6.5"/><circle cx="1146.2" cy="997.5" r="6.5"/><circle cx="1147.5" cy="997" r="6.5"/><circle cx="1150.5" cy="995.4" r="6.5"/><circle cx="1152.5" cy="990.2" r="6.5"/><circle cx="1153.4" cy="997.1" r="6.5"/><circle cx="1156.2" cy="996" r="6.5"/><circle cx="1157.5" cy="1002.5" r="6.5"/><circle cx="1160.3" cy="997.9" r="6.5"/><circle cx="1161.9" cy="998.1" r="6.5"/><circle cx="1164.3" cy="996.5" r="6.5"/><circle cx="1166.4" cy="994.2" r="6.5"/><circle cx="1167.5" cy="999.7" r="6.5"/><circle cx="1170.5" cy="997" r="6.5"/><circle cx="1171.7" cy="1004.4" r="6.5"/><circle cx="1174.4" cy="1000.6" r="6.5"/><circle cx="1176" cy="1004.3" r="6.5"/><circle cx="1177.9" cy="999.5" r="6.5"/><circle cx="1180" cy="1005.9" r="6.5"/><circle cx="1182.3" cy="1000.8" r="6.5"/><circle cx="1183.6" cy="1004.7" r="6.5"/><circle cx="1185.8" cy="999.5" r="6.5"/><circle cx="1188.1" cy="1001.3" r="6.5"/><circle cx="1190.1" cy="1002.4" r="6.5"/><circle cx="1192.1" cy="1003.2" r="6.5"/><circle cx="1193.8" cy="1010.5" r="6.5"/><circle cx="1195.7" cy="1003.1" r="6.5"/><circle cx="1197.7" cy="1007.7" r="6.5"/><circle cx="1199.9" cy="1010.3" r="6.5"/><circle cx="1202.1" cy="1006.8" r="6.5"/><circle cx="1204.5" cy="1013.3" r="6.5"/><circle cx="1205.7" cy="1008.4" r="6.5"/><circle cx="1207.8" cy="1005" r="6.5"/><circle cx="1210.2" cy="1005.1" r="6.5"/><circle cx="1211.8" cy="1011.3" r="6.5"/><circle cx="1214.3" cy="1015.6" r="6.5"/><circle cx="1216.3" cy="1006.9" r="6.5"/><circle cx="1218" cy="1007.7" r="6.5"/><circle cx="1220.3" cy="1007.1" r="6.5"/><circle cx="1222.5" cy="1015.9" r="6.5"/><circle cx="1224.5" cy="1010.4" r="6.5"/><circle cx="1226.4" cy="1009.9" r="6.5"/><circle cx="1227.7" cy="1010" r="6.5"/><circle cx="1229.7" cy="1012.4" r="6.5"/><circle cx="1231.6" cy="1009.1" r="6.5"/><circle cx="1233.7" cy="1009.5" r="6.5"/><circle cx="1236.4" cy="1012" r="6.5"/><circle cx="1238.4" cy="1015.6" r="6.5"/><circle cx="1240.3" cy="1012.5" r="6.5"/><circle cx="1242.5" cy="1014.1" r="6.5"/><circle cx="1243.5" cy="1010.2" r="6.5"/><circle cx="1246.3" cy="1012.1" r="6.5"/><circle cx="1247.8" cy="1012.8" r="6.5"/><circle cx="1250" cy="1018.6" r="6.5"/><circle cx="1251.7" cy="1012.3" r="6.5"/><circle cx="1254.5" cy="1010.3" r="6.5"/><circle cx="1256.5" cy="1010.1" r="6.5"/><circle cx="1257.5" cy="1015" r="6.5"/><circle cx="1260.4" cy="1012.9" r="6.5"/><circle cx="1261.5" cy="1016.3" r="6.5"/><circle cx="1264.6" cy="1014.7" r="6.5"/><circle cx="1266.3" cy="1018.3" r="6.5"/><circle cx="1268" cy="1009.9" r="6.5"/><circle cx="1269.8" cy="1014.6" r="6.5"/><circle cx="1272.2" cy="1011.1" r="6.5"/><circle cx="1273.5" cy="1014.3" r="6.5"/><circle cx="1276.6" cy="1015.3" r="6.5"/><circle cx="1277.8" cy="1010.9" r="6.5"/><circle cx="1280.5" cy="1017" r="6.5"/><circle cx="1282.5" cy="1020.6" r="6.5"/><circle cx="1283.4" cy="1020.9" r="6.5"/><circle cx="1286.2" cy="1017.1" r="6.5"/><circle cx="1288.5" cy="1017.5" r="6.5"/><circle cx="1290.6" cy="1016" r="6.5"/><circle cx="1292.4" cy="1011" r="6.5"/><circle cx="1293.4" cy="1010.8" r="6.5"/><circle cx="1296" cy="1018.6" r="6.5"/><circle cx="1298.4" cy="1019.5" r="6.5"/><circle cx="1300.4" cy="1011.3" r="6.5"/><circle cx="1301.9" cy="1020.5" r="6.5"/><circle cx="1303.4" cy="1014.9" r="6.5"/><circle cx="1306.1" cy="1014.4" r="6.5"/><circle cx="1308.2" cy="1015.3" r="6.5"/><circle cx="1310.5" cy="1014.2" r="6.5"/><circle cx="1311.7" cy="1012.9" r="6.5"/><circle cx="1313.8" cy="1019.9" r="6.5"/><circle cx="1315.7" cy="1018.3" r="6.5"/><circle cx="1318.5" cy="1014.1" r="6.5"/><circle cx="1319.8" cy="1013.7" r="6.5"/><circle cx="1322.2" cy="1019.4" r="6.5"/><circle cx="1323.5" cy="1018.3" r="6.5"/><circle cx="1325.7" cy="1015.8" r="6.5"/><circle cx="1327.8" cy="1024.3" r="6.5"/><circle cx="1330.6" cy="1023.7" r="6.5"/><circle cx="1332.3" cy="1015.4" r="6.5"/><circle cx="1334.3" cy="1018.5" r="6.5"/><circle cx="1336.1" cy="1018.2" r="6.5"/><circle cx="1338.4" cy="1021" r="6.5"/><circle cx="1339.9" cy="1020.9" r="6.5"/><circle cx="1341.6" cy="1025.4" r="6.5"/><circle cx="1344.6" cy="1025.2" r="6.5"/><circle cx="1346.5" cy="1020.4" r="6.5"/><circle cx="1348.5" cy="1024.5" r="6.5"/><circle cx="1350.2" cy="1018.3" r="6.5"/><circle cx="1352.5" cy="1025.8" r="6.5"/><circle cx="1353.5" cy="1022.3" r="6.5"/><circle cx="1355.5" cy="1028.7" r="6.5"/><circle cx="1357.5" cy="1022.3" r="6.5"/><circle cx="1359.5" cy="1020.1" r="6.5"/><circle cx="1362.1" cy="1024" r="6.5"/><circle cx="1364.5" cy="1024.1" r="6.5"/><circle cx="1365.5" cy="1020" r="6.5"/><circle cx="1368.5" cy="1025.5" r="6.5"/><circle cx="1369.8" cy="1018.8" r="6.5"/><circle cx="1372.4" cy="1020.2" r="6.5"/><circle cx="1374.1" cy="1022.5" r="6.5"/><circle cx="1375.6" cy="1022.7" r="6.5"/><circle cx="1377.4" cy="1028.6" r="6.5"/><circle cx="1379.5" cy="1022.2" r="6.5"/><circle cx="1382.3" cy="1018.8" r="6.5"/><circle cx="1383.7" cy="1016.4" r="6.5"/><circle cx="1386.2" cy="1021.8" r="6.5"/><circle cx="1387.4" cy="1017.9" r="6.5"/><circle cx="1389.7" cy="1015.8" r="6.5"/><circle cx="1392" cy="1019.2" r="6.5"/><circle cx="1393.8" cy="1018.5" r="6.5"/><circle cx="1395.9" cy="1021.6" r="6.5"/><circle cx="1397.8" cy="1020.2" r="6.5"/><circle cx="1400.5" cy="1018.2" r="6.5"/><circle cx="1401.6" cy="1025.8" r="6.5"/><circle cx="1403.7" cy="1026.8" r="6.5"/><circle cx="1405.7" cy="1023.4" r="6.5"/><circle cx="1408.5" cy="1017.4" r="6.5"/><circle cx="1410.2" cy="1016.4" r="6.5"/><circle cx="1412" cy="1021.4" r="6.5"/><circle cx="1413.9" cy="1021.6" r="6.5"/><circle cx="1415.7" cy="1020.8" r="6.5"/><circle cx="1418" cy="1022.5" r="6.5"/><circle cx="1420" cy="1020.6" r="6.5"/><circle cx="1421.7" cy="1026.2" r="6.5"/><circle cx="1424.4" cy="1016.6" r="6.5"/><circle cx="1426.4" cy="1024.6" r="6.5"/><circle cx="1428" cy="1025.3" r="6.5"/><circle cx="1430.5" cy="1021.6" r="6.5"/><circle cx="1431.7" cy="1021" r="6.5"/><circle cx="1433.8" cy="1021.9" r="6.5"/><circle cx="1436.4" cy="1018.5" r="6.5"/><circle cx="1438.5" cy="1027.5" r="6.5"/><circle cx="1440.3" cy="1025.9" r="6.5"/><circle cx="1441.6" cy="1026.5" r="6.5"/><circle cx="1443.7" cy="1021.4" r="6.5"/><circle cx="1446" cy="1018.9" r="6.5"/><circle cx="1448.1" cy="1027.1" r="6.5"/><circle cx="1450.2" cy="1029.1" r="6.5"/><circle cx="1451.5" cy="1025.4" r="6.5"/><circle cx="1453.8" cy="1028.3" r="6.5"/><circle cx="1456.3" cy="1025.8" r="6.5"/><circle cx="1457.6" cy="1025.6" r="6.5"/><circle cx="1460.4" cy="1019.6" r="6.5"/><circle cx="1462.4" cy="1027.8" r="6.5"/><circle cx="1464.2" cy="1029.4" r="6.5"/><circle cx="1465.8" cy="1023.1" r="6.5"/><circle cx="1468.4" cy="1019.9" r="6.5"/><circle cx="1470.3" cy="1025" r="6.5"/><circle cx="1471.8" cy="1023.8" r="6.5"/><circle cx="1474.2" cy="1019.9" r="6.5"/><circle cx="1475.8" cy="1028.5" r="6.5"/><circle cx="1477.7" cy="1028.7" r="6.5"/><circle cx="1480.6" cy="1026" r="6.5"/><circle cx="1481.7" cy="1023.1" r="6.5"/><circle cx="1483.4" cy="1024.7" r="6.5"/><circle cx="1486" cy="1025.6" r="6.5"/><circle cx="1487.6" cy="1022.6" r="6.5"/><circle cx="1489.8" cy="1022.4" r="6.5"/><circle cx="1491.8" cy="1019.5" r="6.5"/><circle cx="1494.2" cy="1029.4" r="6.5"/><circle cx="1495.7" cy="1023.3" r="6.5"/><circle cx="1497.5" cy="1029.3" r="6.5"/><circle cx="1500.3" cy="1026.2" r="6.5"/><circle cx="1502.5" cy="1025.8" r="6.5"/><circle cx="1504" cy="1021.9" r="6.5"/><circle cx="1505.6" cy="1025.5" r="6.5"/><circle cx="1507.6" cy="1020.4" r="6.5"/><circle cx="1510.3" cy="1022.6" r="6.5"/><circle cx="1512.3" cy="1023.1" r="6.5"/><circle cx="1513.9" cy="1027.3" r="6.5"/><circle cx="1516" cy="1020.4" r="6.5"/><circle cx="1517.5" cy="1029.4" r="6.5"/><circle cx="1520.2" cy="1021.7" r="6.5"/><circle cx="1521.9" cy="1019.9" r="6.5"/><circle cx="1523.9" cy="1026.7" r="6.5"/><circle cx="1526.1" cy="1026.1" r="6.5"/><circle cx="1527.6" cy="1025.6" r="6.5"/><circle cx="1529.4" cy="1022.4" r="6.5"/><circle cx="1532" cy="1021" r="6.5"/><circle cx="1534.4" cy="1026.7" r="6.5"/><circle cx="1535.8" cy="1022.9" r="6.5"/><circle cx="1537.8" cy="1018.5" r="6.5"/><circle cx="1540" cy="1026.3" r="6.5"/><circle cx="1542.5" cy="1021.2" r="6.5"/><circle cx="1544.2" cy="1025.2" r="6.5"/><circle cx="1545.9" cy="1020.6" r="6.5"/><circle cx="1548.1" cy="1020" r="6.5"/><circle cx="1550.3" cy="1019.8" r="6.5"/><circle cx="1552.5" cy="1021.7" r="6.5"/><circle cx="1554.5" cy="1020.6" r="6.5"/><circle cx="1555.9" cy="1025.9" r="6.5"/><circle cx="1557.8" cy="1025.6" r="6.5"/><circle cx="1560.2" cy="1028.1" r="6.5"/><circle cx="1562.2" cy="1022.5" r="6.5"/><circle cx="1564" cy="1025.7" r="6.5"/><circle cx="1566.3" cy="1021.6" r="6.5"/><circle cx="1568.3" cy="1021.6" r="6.5"/><circle cx="1569.7" cy="1023.5" r="6.5"/><circle cx="1571.6" cy="1027.5" r="6.5"/><circle cx="1574.1" cy="1017.8" r="6.5"/><circle cx="1575.9" cy="1026.7" r="6.5"/><circle cx="1578.3" cy="1025.4" r="6.5"/><circle cx="1579.7" cy="1024.1" r="6.5"/><circle cx="1582.1" cy="1024" r="6.5"/><circle cx="1584.3" cy="1019.8" r="6.5"/><circle cx="1586.5" cy="1025.8" r="6.5"/><circle cx="1588" cy="1023.6" r="6.5"/><circle cx="1590.2" cy="1019.1" r="6.5"/><circle cx="1591.7" cy="1024.9" r="6.5"/><circle cx="1593.6" cy="1022.5" r="6.5"/><circle cx="1596" cy="1022.9" r="6.5"/><circle cx="1598.5" cy="1024.5" r="6.5"/><circle cx="1599.5" cy="1026.1" r="6.5"/><circle cx="1602.2" cy="1024.9" r="6.5"/><circle cx="1603.7" cy="1021.8" r="6.5"/><circle cx="1605.4" cy="1023.1" r="6.5"/><circle cx="1607.6" cy="1024.1" r="6.5"/><circle cx="1610.5" cy="1026.1" r="6.5"/><circle cx="1611.5" cy="1018.1" r="6.5"/><circle cx="1614.3" cy="1024.3" r="6.5"/><circle cx="1616.2" cy="1020.7" r="6.5"/><circle cx="1618.4" cy="1023.8" r="6.5"/><circle cx="1620.2" cy="1022.3" r="6.5"/><circle cx="1621.7" cy="1024.2" r="6.5"/><circle cx="1623.9" cy="1018.1" r="6.5"/><circle cx="1626.1" cy="1021.5" r="6.5"/><circle cx="1627.7" cy="1018.4" r="6.5"/><circle cx="1630.6" cy="1017.7" r="6.5"/><circle cx="1631.9" cy="1020.6" r="6.5"/><circle cx="1634.2" cy="1026.2" r="6.5"/><circle cx="1636.2" cy="1019.5" r="6.5"/><circle cx="1638.4" cy="1024.9" r="6.5"/><circle cx="1639.7" cy="1018.9" r="6.5"/><circle cx="1642.2" cy="1015.8" r="6.5"/><circle cx="1644.1" cy="1023.9" r="6.5"/><circle cx="1645.5" cy="1015.9" r="6.5"/><circle cx="1648.1" cy="1025.5" r="6.5"/><circle cx="1649.5" cy="1015.9" r="6.5"/><circle cx="1651.6" cy="1022.3" r="6.5"/><circle cx="1654.2" cy="1021.7" r="6.5"/><circle cx="1655.7" cy="1019.4" r="6.5"/><circle cx="1657.8" cy="1018.3" r="6.5"/><circle cx="1659.7" cy="1017.4" r="6.5"/><circle cx="1662.1" cy="1017" r="6.5"/><circle cx="1664.4" cy="1014.7" r="6.5"/><circle cx="1665.8" cy="1019.2" r="6.5"/><circle cx="1668.1" cy="1022.6" r="6.5"/><circle cx="1670" cy="1022.2" r="6.5"/><circle cx="1672" cy="1018.7" r="6.5"/><circle cx="1674" cy="1020.2" r="6.5"/><circle cx="1675.7" cy="1024.6" r="6.5"/><circle cx="1677.4" cy="1017.4" r="6.5"/><circle cx="1679.7" cy="1021.3" r="6.5"/><circle cx="1682.4" cy="1023.6" r="6.5"/><circle cx="1684.3" cy="1021.9" r="6.5"/><circle cx="1686.1" cy="1018.6" r="6.5"/><circle cx="1688.5" cy="1025.6" r="6.5"/><circle cx="1689.7" cy="1015.8" r="6.5"/><circle cx="1692" cy="1021.4" r="6.5"/><circle cx="1694" cy="1024.4" r="6.5"/><circle cx="1696.6" cy="1016.3" r="6.5"/><circle cx="1697.9" cy="1016.2" r="6.5"/><circle cx="1700.1" cy="1015.8" r="6.5"/><circle cx="1702.3" cy="1019.8" r="6.5"/><circle cx="1703.6" cy="1021.3" r="6.5"/><circle cx="1706.2" cy="1024.5" r="6.5"/><circle cx="1708.1" cy="1019" r="6.5"/><circle cx="1710.2" cy="1020.1" r="6.5"/><circle cx="1712.2" cy="1015.4" r="6.5"/><circle cx="1714.3" cy="1013.5" r="6.5"/><circle cx="1716.1" cy="1023" r="6.5"/><circle cx="1717.7" cy="1019.1" r="6.5"/><circle cx="1720.3" cy="1020.6" r="6.5"/><circle cx="1722.4" cy="1012.4" r="6.5"/><circle cx="1723.4" cy="1013.9" r="6.5"/><circle cx="1726.5" cy="1016.6" r="6.5"/><circle cx="1728.4" cy="1014.2" r="6.5"/><circle cx="1730.1" cy="1018.1" r="6.5"/><circle cx="1732.1" cy="1012.4" r="6.5"/><circle cx="1733.7" cy="1020.9" r="6.5"/><circle cx="1736" cy="1014.3" r="6.5"/><circle cx="1737.7" cy="1015.5" r="6.5"/><circle cx="1739.5" cy="1020.7" r="6.5"/><circle cx="1741.7" cy="1015.4" r="6.5"/><circle cx="1744.6" cy="1020.8" r="6.5"/><circle cx="1745.9" cy="1020.1" r="6.5"/><circle cx="1747.5" cy="1018.7" r="6.5"/><circle cx="1750" cy="1017.3" r="6.5"/><circle cx="1752.6" cy="1012.6" r="6.5"/><circle cx="1753.6" cy="1015.7" r="6.5"/><circle cx="1755.6" cy="1022.4" r="6.5"/><circle cx="1758.3" cy="1018" r="6.5"/><circle cx="1759.6" cy="1015.3" r="6.5"/><circle cx="1762.4" cy="1014" r="6.5"/><circle cx="1764" cy="1014.7" r="6.5"/><circle cx="1766.3" cy="1020" r="6.5"/><circle cx="1767.5" cy="1021.6" r="6.5"/><circle cx="1769.6" cy="1015.8" r="6.5"/><circle cx="1772.5" cy="1013.8" r="6.5"/><circle cx="1773.5" cy="1014.4" r="6.5"/><circle cx="1776.5" cy="1020.7" r="6.5"/><circle cx="1777.7" cy="1014.8" r="6.5"/><circle cx="1779.6" cy="1014.6" r="6.5"/><circle cx="1781.6" cy="1015.6" r="6.5"/><circle cx="1783.6" cy="1018.1" r="6.5"/><circle cx="1785.9" cy="1019.8" r="6.5"/><circle cx="1788.1" cy="1014.8" r="6.5"/><circle cx="1789.4" cy="1017.8" r="6.5"/><circle cx="1791.9" cy="1021.3" r="6.5"/><circle cx="1793.6" cy="1025.3" r="6.5"/><circle cx="1795.8" cy="1022.8" r="6.5"/><circle cx="1797.4" cy="1025.4" r="6.5"/><circle cx="1800.3" cy="1018.4" r="6.5"/><circle cx="1802.5" cy="1023.4" r="6.5"/><circle cx="1804.4" cy="1019.7" r="6.5"/><circle cx="1806.6" cy="1017.1" r="6.5"/><circle cx="1807.8" cy="1025.9" r="6.5"/><circle cx="1810.5" cy="1027.1" r="6.5"/><circle cx="1812.6" cy="1026.5" r="6.5"/><circle cx="1814.6" cy="1024.4" r="6.5"/><circle cx="1816.1" cy="1021.1" r="6.5"/><circle cx="1817.5" cy="1024.9" r="6.5"/></g>
<g fill="url(#gg)"><circle cx="1089" cy="1217.7" r="6.5"/><circle cx="1089" cy="1188.6" r="6.5"/><circle cx="1089" cy="1180" r="6.5"/><circle cx="1089.8" cy="1166.3" r="6.5"/><circle cx="1091.2" cy="1161.1" r="6.5"/><circle cx="1092.2" cy="1181.4" r="6.5"/><circle cx="1093.4" cy="1169.5" r="6.5"/><circle cx="1095.1" cy="1153.7" r="6.5"/><circle cx="1095.7" cy="1145.3" r="6.5"/><circle cx="1097.2" cy="1150.6" r="6.5"/><circle cx="1098.2" cy="1159" r="6.5"/><circle cx="1100" cy="1146.2" r="6.5"/><circle cx="1101.8" cy="1163.5" r="6.5"/><circle cx="1102.4" cy="1147.2" r="6.5"/><circle cx="1103.7" cy="1157.5" r="6.5"/><circle cx="1105.3" cy="1140.9" r="6.5"/><circle cx="1106.4" cy="1143.1" r="6.5"/><circle cx="1107.4" cy="1136.2" r="6.5"/><circle cx="1108.8" cy="1153.8" r="6.5"/><circle cx="1109.5" cy="1160.4" r="6.5"/><circle cx="1111.2" cy="1132.7" r="6.5"/><circle cx="1112.6" cy="1151.9" r="6.5"/><circle cx="1113.3" cy="1144.2" r="6.5"/><circle cx="1114.7" cy="1134.6" r="6.5"/><circle cx="1115.7" cy="1136.4" r="6.5"/><circle cx="1117.6" cy="1135.4" r="6.5"/><circle cx="1118.3" cy="1142.4" r="6.5"/><circle cx="1120.5" cy="1153.5" r="6.5"/><circle cx="1121.7" cy="1149.2" r="6.5"/><circle cx="1122.2" cy="1160.4" r="6.5"/><circle cx="1123.7" cy="1151.3" r="6.5"/><circle cx="1124.7" cy="1144.7" r="6.5"/><circle cx="1126.3" cy="1145.8" r="6.5"/><circle cx="1127.6" cy="1133.5" r="6.5"/><circle cx="1129.1" cy="1158.1" r="6.5"/><circle cx="1130" cy="1142.3" r="6.5"/><circle cx="1131.8" cy="1141.6" r="6.5"/><circle cx="1132.5" cy="1141.4" r="6.5"/><circle cx="1133.2" cy="1157.6" r="6.5"/><circle cx="1135.2" cy="1131.4" r="6.5"/><circle cx="1136.2" cy="1132.1" r="6.5"/><circle cx="1137.4" cy="1149.7" r="6.5"/><circle cx="1139.2" cy="1137.9" r="6.5"/><circle cx="1140.5" cy="1127.1" r="6.5"/><circle cx="1140.8" cy="1130.6" r="6.5"/><circle cx="1142" cy="1149.3" r="6.5"/><circle cx="1143.7" cy="1134.9" r="6.5"/><circle cx="1145.5" cy="1130.5" r="6.5"/><circle cx="1146.6" cy="1132.3" r="6.5"/><circle cx="1147.7" cy="1127.8" r="6.5"/><circle cx="1149.1" cy="1152" r="6.5"/><circle cx="1150.1" cy="1127.1" r="6.5"/><circle cx="1151.8" cy="1134.3" r="6.5"/><circle cx="1152" cy="1143" r="6.5"/><circle cx="1153.9" cy="1153.2" r="6.5"/><circle cx="1155.5" cy="1146.3" r="6.5"/><circle cx="1156.3" cy="1128.2" r="6.5"/><circle cx="1158" cy="1141" r="6.5"/><circle cx="1158.8" cy="1133.9" r="6.5"/><circle cx="1160.3" cy="1130.9" r="6.5"/><circle cx="1161.2" cy="1136.4" r="6.5"/><circle cx="1162.5" cy="1147.7" r="6.5"/><circle cx="1163.4" cy="1128.4" r="6.5"/><circle cx="1165.2" cy="1140.7" r="6.5"/><circle cx="1165.9" cy="1136.4" r="6.5"/><circle cx="1167.1" cy="1144.4" r="6.5"/><circle cx="1168.9" cy="1144.4" r="6.5"/><circle cx="1170.5" cy="1145.2" r="6.5"/><circle cx="1171.4" cy="1140.5" r="6.5"/><circle cx="1172.3" cy="1139.5" r="6.5"/><circle cx="1173.6" cy="1137.7" r="6.5"/><circle cx="1175.2" cy="1150.8" r="6.5"/><circle cx="1176.4" cy="1139.7" r="6.5"/><circle cx="1177" cy="1136.1" r="6.5"/><circle cx="1178.5" cy="1153.5" r="6.5"/><circle cx="1179.6" cy="1129.9" r="6.5"/><circle cx="1180.8" cy="1151.5" r="6.5"/><circle cx="1182.2" cy="1146.4" r="6.5"/><circle cx="1183.7" cy="1135.9" r="6.5"/><circle cx="1184.9" cy="1132.7" r="6.5"/><circle cx="1185.7" cy="1143.9" r="6.5"/><circle cx="1187.3" cy="1146.2" r="6.5"/><circle cx="1188.2" cy="1125.8" r="6.5"/><circle cx="1189.4" cy="1140.3" r="6.5"/><circle cx="1191" cy="1139.8" r="6.5"/><circle cx="1192.3" cy="1133" r="6.5"/><circle cx="1194.3" cy="1132.9" r="6.5"/><circle cx="1194.6" cy="1140" r="6.5"/><circle cx="1196.3" cy="1127" r="6.5"/><circle cx="1197.4" cy="1125.2" r="6.5"/><circle cx="1198.8" cy="1149" r="6.5"/><circle cx="1200.3" cy="1149.3" r="6.5"/><circle cx="1201.6" cy="1135.9" r="6.5"/><circle cx="1202.5" cy="1127.3" r="6.5"/><circle cx="1204" cy="1136.6" r="6.5"/><circle cx="1205.3" cy="1138.5" r="6.5"/><circle cx="1205.8" cy="1125.8" r="6.5"/><circle cx="1208.1" cy="1125.7" r="6.5"/><circle cx="1208.7" cy="1132.6" r="6.5"/><circle cx="1210.3" cy="1128.2" r="6.5"/><circle cx="1211.6" cy="1143.4" r="6.5"/><circle cx="1212" cy="1133.4" r="6.5"/><circle cx="1213.5" cy="1121.7" r="6.5"/><circle cx="1215.2" cy="1137.3" r="6.5"/><circle cx="1215.9" cy="1135.1" r="6.5"/><circle cx="1217.7" cy="1127.7" r="6.5"/><circle cx="1218.4" cy="1123.1" r="6.5"/><circle cx="1219.4" cy="1136" r="6.5"/><circle cx="1221.1" cy="1144.9" r="6.5"/><circle cx="1223.1" cy="1143.5" r="6.5"/><circle cx="1224.1" cy="1140.7" r="6.5"/><circle cx="1224.5" cy="1127.1" r="6.5"/><circle cx="1226.7" cy="1126.7" r="6.5"/><circle cx="1227.1" cy="1135.1" r="6.5"/><circle cx="1228.9" cy="1128.1" r="6.5"/><circle cx="1229.9" cy="1143.9" r="6.5"/><circle cx="1231.1" cy="1135.1" r="6.5"/><circle cx="1232.8" cy="1141.1" r="6.5"/><circle cx="1233.3" cy="1137.2" r="6.5"/><circle cx="1234.8" cy="1130.8" r="6.5"/><circle cx="1236.2" cy="1121" r="6.5"/><circle cx="1236.9" cy="1144.3" r="6.5"/><circle cx="1238.5" cy="1130.8" r="6.5"/><circle cx="1240.4" cy="1136.2" r="6.5"/><circle cx="1240.8" cy="1124.7" r="6.5"/><circle cx="1242.2" cy="1140" r="6.5"/><circle cx="1243.3" cy="1142.1" r="6.5"/><circle cx="1245.3" cy="1128.3" r="6.5"/><circle cx="1246.2" cy="1129.3" r="6.5"/><circle cx="1247.9" cy="1133.9" r="6.5"/><circle cx="1249.3" cy="1143" r="6.5"/><circle cx="1250.5" cy="1148" r="6.5"/><circle cx="1250.9" cy="1148.2" r="6.5"/><circle cx="1252.3" cy="1125.3" r="6.5"/><circle cx="1254" cy="1145.5" r="6.5"/><circle cx="1255.4" cy="1146.4" r="6.5"/><circle cx="1256" cy="1123.2" r="6.5"/><circle cx="1258" cy="1133.1" r="6.5"/><circle cx="1258.2" cy="1145.1" r="6.5"/><circle cx="1259.8" cy="1142.1" r="6.5"/><circle cx="1260.7" cy="1122.9" r="6.5"/><circle cx="1262.4" cy="1136.6" r="6.5"/><circle cx="1263.2" cy="1130.3" r="6.5"/><circle cx="1265" cy="1132.6" r="6.5"/><circle cx="1265.7" cy="1130.7" r="6.5"/><circle cx="1267" cy="1131.2" r="6.5"/><circle cx="1268.2" cy="1135.2" r="6.5"/><circle cx="1269.9" cy="1133.8" r="6.5"/><circle cx="1270.8" cy="1124.8" r="6.5"/><circle cx="1272.5" cy="1141.1" r="6.5"/><circle cx="1273.8" cy="1146.2" r="6.5"/><circle cx="1275.5" cy="1149.8" r="6.5"/><circle cx="1276.2" cy="1146.1" r="6.5"/><circle cx="1277.5" cy="1143.6" r="6.5"/><circle cx="1278.2" cy="1152.5" r="6.5"/><circle cx="1280.1" cy="1146.4" r="6.5"/><circle cx="1281.2" cy="1131.7" r="6.5"/><circle cx="1282.1" cy="1156.1" r="6.5"/><circle cx="1284.1" cy="1133.6" r="6.5"/><circle cx="1284.8" cy="1150" r="6.5"/><circle cx="1285.9" cy="1130.7" r="6.5"/><circle cx="1287.8" cy="1155.7" r="6.5"/><circle cx="1289" cy="1132.2" r="6.5"/><circle cx="1290.5" cy="1132.3" r="6.5"/><circle cx="1291.2" cy="1131.5" r="6.5"/><circle cx="1293" cy="1132.7" r="6.5"/><circle cx="1293.7" cy="1134.7" r="6.5"/><circle cx="1294.5" cy="1149.1" r="6.5"/><circle cx="1296.2" cy="1141.2" r="6.5"/><circle cx="1298" cy="1146.3" r="6.5"/><circle cx="1299.1" cy="1156.6" r="6.5"/><circle cx="1300" cy="1137" r="6.5"/><circle cx="1301.1" cy="1147.7" r="6.5"/><circle cx="1301.9" cy="1141.2" r="6.5"/><circle cx="1304" cy="1136.7" r="6.5"/><circle cx="1304.7" cy="1133.3" r="6.5"/><circle cx="1306.7" cy="1153.2" r="6.5"/><circle cx="1308.1" cy="1133.3" r="6.5"/><circle cx="1308.7" cy="1152.3" r="6.5"/><circle cx="1310" cy="1154.5" r="6.5"/><circle cx="1311.4" cy="1146.9" r="6.5"/><circle cx="1312.1" cy="1149.5" r="6.5"/><circle cx="1313.4" cy="1139.2" r="6.5"/><circle cx="1315.5" cy="1161.3" r="6.5"/><circle cx="1316.6" cy="1159.2" r="6.5"/><circle cx="1317.8" cy="1137.3" r="6.5"/><circle cx="1318.2" cy="1159.4" r="6.5"/><circle cx="1320" cy="1154.4" r="6.5"/><circle cx="1321.2" cy="1162.8" r="6.5"/><circle cx="1322.7" cy="1154" r="6.5"/><circle cx="1323.2" cy="1152.4" r="6.5"/><circle cx="1325.4" cy="1155.9" r="6.5"/><circle cx="1326.2" cy="1140.9" r="6.5"/><circle cx="1327" cy="1150.8" r="6.5"/><circle cx="1328.4" cy="1144.6" r="6.5"/><circle cx="1329.9" cy="1138.7" r="6.5"/><circle cx="1331.5" cy="1158.9" r="6.5"/><circle cx="1332.6" cy="1156" r="6.5"/><circle cx="1333.6" cy="1150" r="6.5"/><circle cx="1335.2" cy="1134.4" r="6.5"/><circle cx="1336.7" cy="1150.2" r="6.5"/><circle cx="1337.9" cy="1149.1" r="6.5"/><circle cx="1339.3" cy="1156.7" r="6.5"/><circle cx="1340.1" cy="1134.2" r="6.5"/><circle cx="1341.4" cy="1158.5" r="6.5"/><circle cx="1342.9" cy="1134" r="6.5"/><circle cx="1343.9" cy="1161.9" r="6.5"/><circle cx="1345.6" cy="1157.2" r="6.5"/><circle cx="1346.1" cy="1160.4" r="6.5"/><circle cx="1347.3" cy="1142.7" r="6.5"/><circle cx="1348.5" cy="1146.4" r="6.5"/><circle cx="1349.8" cy="1138.7" r="6.5"/><circle cx="1351.4" cy="1138.9" r="6.5"/><circle cx="1352.3" cy="1157.6" r="6.5"/><circle cx="1353.8" cy="1142.2" r="6.5"/><circle cx="1354.8" cy="1136" r="6.5"/><circle cx="1356.2" cy="1145" r="6.5"/><circle cx="1357.5" cy="1144.2" r="6.5"/><circle cx="1358.5" cy="1144.9" r="6.5"/><circle cx="1360.2" cy="1157.8" r="6.5"/><circle cx="1361.5" cy="1160.7" r="6.5"/><circle cx="1362.8" cy="1138.5" r="6.5"/><circle cx="1364.1" cy="1163.8" r="6.5"/><circle cx="1365.1" cy="1150.6" r="6.5"/><circle cx="1366.8" cy="1138.9" r="6.5"/><circle cx="1368.1" cy="1142.6" r="6.5"/><circle cx="1369" cy="1136.6" r="6.5"/><circle cx="1369.8" cy="1139.9" r="6.5"/><circle cx="1371.4" cy="1143.2" r="6.5"/><circle cx="1373" cy="1163.4" r="6.5"/><circle cx="1374.1" cy="1144" r="6.5"/><circle cx="1374.5" cy="1151.4" r="6.5"/><circle cx="1375.8" cy="1160.2" r="6.5"/><circle cx="1376.9" cy="1149.3" r="6.5"/><circle cx="1379.2" cy="1137.1" r="6.5"/><circle cx="1379.9" cy="1150.2" r="6.5"/><circle cx="1380.7" cy="1154" r="6.5"/><circle cx="1382.7" cy="1160.3" r="6.5"/><circle cx="1384" cy="1153.2" r="6.5"/><circle cx="1385.1" cy="1154.2" r="6.5"/><circle cx="1386" cy="1147.2" r="6.5"/><circle cx="1387.3" cy="1156.9" r="6.5"/><circle cx="1388.4" cy="1143.4" r="6.5"/><circle cx="1390.3" cy="1158.5" r="6.5"/><circle cx="1390.7" cy="1150" r="6.5"/><circle cx="1392.6" cy="1133.7" r="6.5"/><circle cx="1393.5" cy="1159.7" r="6.5"/><circle cx="1394.6" cy="1138.3" r="6.5"/><circle cx="1396.2" cy="1144.5" r="6.5"/><circle cx="1397.3" cy="1157.3" r="6.5"/><circle cx="1398.3" cy="1147" r="6.5"/><circle cx="1400.4" cy="1147.7" r="6.5"/><circle cx="1400.9" cy="1149.2" r="6.5"/><circle cx="1402.8" cy="1154" r="6.5"/><circle cx="1404.3" cy="1134.5" r="6.5"/><circle cx="1405" cy="1157.8" r="6.5"/><circle cx="1406.7" cy="1140.9" r="6.5"/><circle cx="1407" cy="1137.7" r="6.5"/><circle cx="1408.2" cy="1141.1" r="6.5"/><circle cx="1409.9" cy="1136.7" r="6.5"/><circle cx="1410.8" cy="1150" r="6.5"/><circle cx="1412.4" cy="1133.4" r="6.5"/><circle cx="1414.1" cy="1140.3" r="6.5"/><circle cx="1415.4" cy="1143" r="6.5"/><circle cx="1416.3" cy="1145.8" r="6.5"/><circle cx="1417.7" cy="1157.8" r="6.5"/><circle cx="1418.7" cy="1135.9" r="6.5"/><circle cx="1419.5" cy="1145.3" r="6.5"/><circle cx="1420.7" cy="1142.4" r="6.5"/><circle cx="1422.9" cy="1155.7" r="6.5"/><circle cx="1424.3" cy="1141.9" r="6.5"/><circle cx="1425.5" cy="1150.2" r="6.5"/><circle cx="1425.8" cy="1129.2" r="6.5"/><circle cx="1427.6" cy="1150.4" r="6.5"/><circle cx="1428.9" cy="1131.5" r="6.5"/><circle cx="1430.1" cy="1131.1" r="6.5"/><circle cx="1431.6" cy="1150.7" r="6.5"/><circle cx="1432.1" cy="1135.9" r="6.5"/><circle cx="1434.2" cy="1128.5" r="6.5"/><circle cx="1435" cy="1151.3" r="6.5"/><circle cx="1436.6" cy="1153.6" r="6.5"/><circle cx="1437.3" cy="1137.3" r="6.5"/><circle cx="1438.7" cy="1150.9" r="6.5"/><circle cx="1439.9" cy="1139.2" r="6.5"/><circle cx="1441.6" cy="1159.2" r="6.5"/><circle cx="1442.2" cy="1158.8" r="6.5"/><circle cx="1444" cy="1134.5" r="6.5"/><circle cx="1444.6" cy="1147.9" r="6.5"/><circle cx="1446.2" cy="1135.1" r="6.5"/><circle cx="1447.9" cy="1142.8" r="6.5"/><circle cx="1448.7" cy="1155.5" r="6.5"/><circle cx="1450.3" cy="1132.4" r="6.5"/><circle cx="1450.8" cy="1142.2" r="6.5"/><circle cx="1452" cy="1132.1" r="6.5"/><circle cx="1453.3" cy="1140.6" r="6.5"/><circle cx="1455.4" cy="1147" r="6.5"/><circle cx="1456" cy="1134.5" r="6.5"/><circle cx="1457.7" cy="1147.5" r="6.5"/><circle cx="1458.4" cy="1132.6" r="6.5"/><circle cx="1460.5" cy="1154.4" r="6.5"/><circle cx="1460.7" cy="1138.2" r="6.5"/><circle cx="1463" cy="1142.4" r="6.5"/><circle cx="1463.2" cy="1135.5" r="6.5"/><circle cx="1465.4" cy="1150.7" r="6.5"/><circle cx="1466.3" cy="1127.6" r="6.5"/><circle cx="1468" cy="1144" r="6.5"/><circle cx="1468.9" cy="1135.9" r="6.5"/><circle cx="1469.7" cy="1148.9" r="6.5"/><circle cx="1471.7" cy="1148.2" r="6.5"/><circle cx="1472.6" cy="1155.5" r="6.5"/><circle cx="1473.5" cy="1146.3" r="6.5"/><circle cx="1475.1" cy="1128.2" r="6.5"/><circle cx="1476.6" cy="1129.5" r="6.5"/><circle cx="1477.2" cy="1147.1" r="6.5"/><circle cx="1479.1" cy="1152.3" r="6.5"/><circle cx="1480.1" cy="1155.3" r="6.5"/><circle cx="1481.3" cy="1147.1" r="6.5"/><circle cx="1482.6" cy="1139.8" r="6.5"/><circle cx="1484.2" cy="1146.5" r="6.5"/><circle cx="1484.4" cy="1135.8" r="6.5"/><circle cx="1486.7" cy="1141.4" r="6.5"/><circle cx="1487.6" cy="1144.1" r="6.5"/><circle cx="1488.8" cy="1148.9" r="6.5"/><circle cx="1489.5" cy="1136.8" r="6.5"/><circle cx="1491.8" cy="1154.8" r="6.5"/><circle cx="1492.5" cy="1145.5" r="6.5"/><circle cx="1494.1" cy="1134.4" r="6.5"/><circle cx="1494.7" cy="1134.6" r="6.5"/><circle cx="1495.7" cy="1133" r="6.5"/><circle cx="1497.7" cy="1133" r="6.5"/><circle cx="1498.7" cy="1146.4" r="6.5"/><circle cx="1500" cy="1137.8" r="6.5"/><circle cx="1501.5" cy="1136.4" r="6.5"/><circle cx="1502.6" cy="1158.1" r="6.5"/><circle cx="1503.5" cy="1152.5" r="6.5"/><circle cx="1505.3" cy="1142.7" r="6.5"/><circle cx="1506.8" cy="1136.6" r="6.5"/><circle cx="1508.1" cy="1146.8" r="6.5"/><circle cx="1508.3" cy="1143.9" r="6.5"/><circle cx="1510.3" cy="1147.7" r="6.5"/><circle cx="1511.2" cy="1153.5" r="6.5"/><circle cx="1512.7" cy="1149.3" r="6.5"/><circle cx="1513.8" cy="1151" r="6.5"/><circle cx="1515.2" cy="1149.7" r="6.5"/><circle cx="1516.2" cy="1157.8" r="6.5"/><circle cx="1517.3" cy="1144" r="6.5"/><circle cx="1518.4" cy="1153.7" r="6.5"/><circle cx="1520" cy="1134.7" r="6.5"/><circle cx="1521.7" cy="1134.3" r="6.5"/><circle cx="1523" cy="1157.5" r="6.5"/><circle cx="1523.7" cy="1148.1" r="6.5"/><circle cx="1524.9" cy="1139.3" r="6.5"/><circle cx="1526.3" cy="1134.1" r="6.5"/><circle cx="1527.9" cy="1146.5" r="6.5"/><circle cx="1529.3" cy="1140.5" r="6.5"/><circle cx="1530.1" cy="1139.5" r="6.5"/><circle cx="1531.4" cy="1134.5" r="6.5"/><circle cx="1532.1" cy="1141" r="6.5"/><circle cx="1533.7" cy="1144.2" r="6.5"/><circle cx="1535.1" cy="1139.9" r="6.5"/><circle cx="1536.6" cy="1154.5" r="6.5"/><circle cx="1537.6" cy="1158.8" r="6.5"/><circle cx="1539" cy="1138.1" r="6.5"/><circle cx="1539.7" cy="1150.2" r="6.5"/><circle cx="1541.7" cy="1139.9" r="6.5"/><circle cx="1542.6" cy="1143.5" r="6.5"/><circle cx="1543.8" cy="1147.8" r="6.5"/><circle cx="1544.5" cy="1154.8" r="6.5"/><circle cx="1545.7" cy="1135.9" r="6.5"/><circle cx="1546.9" cy="1143.9" r="6.5"/><circle cx="1549.2" cy="1148.5" r="6.5"/><circle cx="1549.4" cy="1137.4" r="6.5"/><circle cx="1551.2" cy="1140.1" r="6.5"/><circle cx="1552.9" cy="1151.3" r="6.5"/><circle cx="1554" cy="1159" r="6.5"/><circle cx="1555" cy="1143" r="6.5"/><circle cx="1556.2" cy="1157.3" r="6.5"/><circle cx="1557.9" cy="1144.5" r="6.5"/><circle cx="1558.3" cy="1146.8" r="6.5"/><circle cx="1560" cy="1135.2" r="6.5"/><circle cx="1561.5" cy="1137.5" r="6.5"/><circle cx="1563.1" cy="1152.8" r="6.5"/><circle cx="1563.7" cy="1159.4" r="6.5"/><circle cx="1564.5" cy="1136.9" r="6.5"/><circle cx="1565.7" cy="1135.6" r="6.5"/><circle cx="1567.1" cy="1146.7" r="6.5"/><circle cx="1568.7" cy="1152.5" r="6.5"/><circle cx="1570.6" cy="1149.3" r="6.5"/><circle cx="1571.3" cy="1143.8" r="6.5"/><circle cx="1572.8" cy="1155.9" r="6.5"/><circle cx="1573.3" cy="1153.7" r="6.5"/><circle cx="1574.6" cy="1145.2" r="6.5"/><circle cx="1576.8" cy="1139.6" r="6.5"/><circle cx="1578" cy="1154.7" r="6.5"/><circle cx="1578.7" cy="1153.6" r="6.5"/><circle cx="1580.2" cy="1135.6" r="6.5"/><circle cx="1581" cy="1153.2" r="6.5"/><circle cx="1582.4" cy="1144.1" r="6.5"/><circle cx="1583.7" cy="1135.3" r="6.5"/><circle cx="1585.3" cy="1139.2" r="6.5"/><circle cx="1585.9" cy="1145.5" r="6.5"/><circle cx="1587.7" cy="1146.7" r="6.5"/><circle cx="1588.8" cy="1156.4" r="6.5"/><circle cx="1589.7" cy="1147" r="6.5"/><circle cx="1591.2" cy="1159.4" r="6.5"/><circle cx="1592.7" cy="1138.4" r="6.5"/><circle cx="1593.3" cy="1139.1" r="6.5"/><circle cx="1595.6" cy="1157.1" r="6.5"/><circle cx="1596.5" cy="1132.1" r="6.5"/><circle cx="1597.8" cy="1134.1" r="6.5"/><circle cx="1599.1" cy="1138.3" r="6.5"/><circle cx="1600" cy="1139.8" r="6.5"/><circle cx="1601.3" cy="1151.5" r="6.5"/><circle cx="1602.1" cy="1135.6" r="6.5"/><circle cx="1603.7" cy="1150.8" r="6.5"/><circle cx="1605.2" cy="1150.6" r="6.5"/><circle cx="1606.3" cy="1158.2" r="6.5"/><circle cx="1607.9" cy="1163.7" r="6.5"/><circle cx="1608.8" cy="1156.3" r="6.5"/><circle cx="1610.2" cy="1138.8" r="6.5"/><circle cx="1611.3" cy="1152.2" r="6.5"/><circle cx="1612.2" cy="1147.6" r="6.5"/><circle cx="1614.2" cy="1154.5" r="6.5"/><circle cx="1614.9" cy="1143.3" r="6.5"/><circle cx="1616.6" cy="1152.2" r="6.5"/><circle cx="1617.8" cy="1158.3" r="6.5"/><circle cx="1618.7" cy="1149.8" r="6.5"/><circle cx="1620.4" cy="1146.4" r="6.5"/><circle cx="1621.3" cy="1152.7" r="6.5"/><circle cx="1622.2" cy="1136.8" r="6.5"/><circle cx="1623.3" cy="1163.1" r="6.5"/><circle cx="1625.3" cy="1165" r="6.5"/><circle cx="1626.7" cy="1137.4" r="6.5"/><circle cx="1628" cy="1143.7" r="6.5"/><circle cx="1629.2" cy="1159.1" r="6.5"/><circle cx="1629.5" cy="1149.2" r="6.5"/><circle cx="1631.6" cy="1148.7" r="6.5"/><circle cx="1632.1" cy="1153.1" r="6.5"/><circle cx="1633.8" cy="1135.6" r="6.5"/><circle cx="1634.9" cy="1154.6" r="6.5"/><circle cx="1636.3" cy="1156.6" r="6.5"/><circle cx="1637.3" cy="1142.7" r="6.5"/><circle cx="1639.3" cy="1154.5" r="6.5"/><circle cx="1640.5" cy="1139.5" r="6.5"/><circle cx="1641.6" cy="1143.7" r="6.5"/><circle cx="1642.6" cy="1162.1" r="6.5"/><circle cx="1643.7" cy="1150.4" r="6.5"/><circle cx="1644.6" cy="1152.9" r="6.5"/><circle cx="1645.7" cy="1139.2" r="6.5"/><circle cx="1647.4" cy="1156.8" r="6.5"/><circle cx="1648.9" cy="1154.7" r="6.5"/><circle cx="1649.8" cy="1162" r="6.5"/><circle cx="1651.8" cy="1144.9" r="6.5"/><circle cx="1652.8" cy="1143.6" r="6.5"/><circle cx="1653.6" cy="1148" r="6.5"/><circle cx="1654.6" cy="1146.8" r="6.5"/><circle cx="1656.6" cy="1139.1" r="6.5"/><circle cx="1657.4" cy="1156.1" r="6.5"/><circle cx="1659" cy="1162.5" r="6.5"/><circle cx="1660.5" cy="1164.6" r="6.5"/><circle cx="1660.7" cy="1155.1" r="6.5"/><circle cx="1662.6" cy="1147.1" r="6.5"/><circle cx="1663.2" cy="1157.3" r="6.5"/><circle cx="1665.4" cy="1149.8" r="6.5"/><circle cx="1666.4" cy="1141" r="6.5"/><circle cx="1667.4" cy="1153.4" r="6.5"/><circle cx="1668.5" cy="1150.5" r="6.5"/><circle cx="1669.8" cy="1164.1" r="6.5"/><circle cx="1671.5" cy="1151.5" r="6.5"/><circle cx="1672.3" cy="1140.4" r="6.5"/><circle cx="1674" cy="1152.8" r="6.5"/><circle cx="1674.5" cy="1142" r="6.5"/><circle cx="1675.9" cy="1146.6" r="6.5"/><circle cx="1676.9" cy="1140.6" r="6.5"/><circle cx="1678.3" cy="1158.7" r="6.5"/><circle cx="1679.5" cy="1156.6" r="6.5"/><circle cx="1681" cy="1148.9" r="6.5"/><circle cx="1682.5" cy="1150.7" r="6.5"/><circle cx="1684.1" cy="1137" r="6.5"/><circle cx="1684.5" cy="1159.2" r="6.5"/><circle cx="1685.8" cy="1151.1" r="6.5"/><circle cx="1688" cy="1161" r="6.5"/><circle cx="1689" cy="1152.1" r="6.5"/><circle cx="1689.6" cy="1150.6" r="6.5"/><circle cx="1691.5" cy="1150.1" r="6.5"/><circle cx="1692" cy="1144.3" r="6.5"/><circle cx="1693.5" cy="1150.5" r="6.5"/><circle cx="1694.7" cy="1152.6" r="6.5"/><circle cx="1695.7" cy="1137.6" r="6.5"/><circle cx="1698" cy="1162.8" r="6.5"/><circle cx="1698.8" cy="1162.6" r="6.5"/><circle cx="1699.9" cy="1139.9" r="6.5"/><circle cx="1701.4" cy="1148.7" r="6.5"/><circle cx="1702.1" cy="1155" r="6.5"/><circle cx="1703.8" cy="1148.7" r="6.5"/><circle cx="1705.3" cy="1142" r="6.5"/><circle cx="1706.8" cy="1147.6" r="6.5"/><circle cx="1707.8" cy="1155.6" r="6.5"/><circle cx="1708.6" cy="1147.7" r="6.5"/><circle cx="1710" cy="1138.4" r="6.5"/><circle cx="1711.5" cy="1152.3" r="6.5"/><circle cx="1712.7" cy="1152.1" r="6.5"/><circle cx="1714.3" cy="1154.7" r="6.5"/><circle cx="1715" cy="1150.4" r="6.5"/><circle cx="1715.9" cy="1141.3" r="6.5"/><circle cx="1716.9" cy="1151.7" r="6.5"/><circle cx="1718.9" cy="1160.8" r="6.5"/><circle cx="1719.6" cy="1162.9" r="6.5"/><circle cx="1720.8" cy="1149.2" r="6.5"/><circle cx="1722.1" cy="1140.7" r="6.5"/><circle cx="1723.9" cy="1152.1" r="6.5"/><circle cx="1724.9" cy="1160.1" r="6.5"/><circle cx="1726.4" cy="1159.7" r="6.5"/><circle cx="1727.8" cy="1154.9" r="6.5"/><circle cx="1729" cy="1135.6" r="6.5"/><circle cx="1729.5" cy="1151.6" r="6.5"/><circle cx="1731.6" cy="1140.7" r="6.5"/><circle cx="1732" cy="1154" r="6.5"/><circle cx="1733.3" cy="1156.2" r="6.5"/><circle cx="1735.4" cy="1145.7" r="6.5"/><circle cx="1735.7" cy="1141.2" r="6.5"/><circle cx="1737.7" cy="1159.6" r="6.5"/><circle cx="1738.2" cy="1156" r="6.5"/><circle cx="1740.5" cy="1142.9" r="6.5"/><circle cx="1741.5" cy="1137.1" r="6.5"/><circle cx="1742" cy="1141.4" r="6.5"/><circle cx="1744.2" cy="1162.5" r="6.5"/><circle cx="1745.3" cy="1138" r="6.5"/><circle cx="1746.6" cy="1159.3" r="6.5"/><circle cx="1747.5" cy="1163.3" r="6.5"/><circle cx="1749.1" cy="1153.5" r="6.5"/><circle cx="1749.7" cy="1162.2" r="6.5"/><circle cx="1751.1" cy="1161.7" r="6.5"/><circle cx="1752.6" cy="1152.1" r="6.5"/><circle cx="1754" cy="1152.4" r="6.5"/><circle cx="1755.2" cy="1142.1" r="6.5"/><circle cx="1756" cy="1142.9" r="6.5"/><circle cx="1757.6" cy="1156.7" r="6.5"/><circle cx="1759.1" cy="1137" r="6.5"/><circle cx="1760.3" cy="1159.7" r="6.5"/><circle cx="1761.2" cy="1142.5" r="6.5"/><circle cx="1762.1" cy="1157.1" r="6.5"/><circle cx="1763.2" cy="1145.3" r="6.5"/><circle cx="1765.1" cy="1148.4" r="6.5"/><circle cx="1766.3" cy="1134.1" r="6.5"/><circle cx="1767.2" cy="1141.2" r="6.5"/><circle cx="1768.6" cy="1145.5" r="6.5"/><circle cx="1769.7" cy="1151.6" r="6.5"/><circle cx="1771.5" cy="1140.7" r="6.5"/><circle cx="1772.8" cy="1149.4" r="6.5"/><circle cx="1774.2" cy="1149" r="6.5"/><circle cx="1774.8" cy="1158.1" r="6.5"/><circle cx="1775.8" cy="1152.6" r="6.5"/><circle cx="1777.7" cy="1136.7" r="6.5"/><circle cx="1779.1" cy="1159.6" r="6.5"/><circle cx="1779.8" cy="1143.7" r="6.5"/><circle cx="1781.7" cy="1135.9" r="6.5"/><circle cx="1783.1" cy="1132.7" r="6.5"/><circle cx="1783.7" cy="1154.2" r="6.5"/><circle cx="1785" cy="1136.8" r="6.5"/><circle cx="1786.8" cy="1135.8" r="6.5"/><circle cx="1787" cy="1153.6" r="6.5"/><circle cx="1789.1" cy="1135.7" r="6.5"/><circle cx="1790" cy="1160.7" r="6.5"/><circle cx="1791.3" cy="1155.5" r="6.5"/><circle cx="1792.6" cy="1152.7" r="6.5"/><circle cx="1793.2" cy="1137.9" r="6.5"/><circle cx="1795.5" cy="1142" r="6.5"/><circle cx="1795.8" cy="1153.8" r="6.5"/><circle cx="1797.2" cy="1157.5" r="6.5"/><circle cx="1798.6" cy="1148.9" r="6.5"/><circle cx="1800.2" cy="1136.4" r="6.5"/><circle cx="1801.6" cy="1149.2" r="6.5"/><circle cx="1802.3" cy="1143.3" r="6.5"/><circle cx="1803.4" cy="1150.9" r="6.5"/><circle cx="1805" cy="1134" r="6.5"/><circle cx="1806.3" cy="1136.3" r="6.5"/><circle cx="1807.6" cy="1138.9" r="6.5"/><circle cx="1808.2" cy="1152.4" r="6.5"/><circle cx="1809.6" cy="1146.8" r="6.5"/><circle cx="1810.8" cy="1151.3" r="6.5"/><circle cx="1812.4" cy="1141.5" r="6.5"/><circle cx="1814.3" cy="1146.6" r="6.5"/><circle cx="1815.1" cy="1138" r="6.5"/><circle cx="1815.9" cy="1137.8" r="6.5"/><circle cx="1816.9" cy="1141.1" r="6.5"/></g>
<g fill="url(#gt)"><circle cx="1160.4" cy="1190.3" r="6.5"/><circle cx="1161" cy="1173.7" r="6.5"/><circle cx="1162.6" cy="1191.8" r="6.5"/><circle cx="1163.3" cy="1183" r="6.5"/><circle cx="1164.9" cy="1179.3" r="6.5"/><circle cx="1166.6" cy="1209.2" r="6.5"/><circle cx="1167.3" cy="1214.6" r="6.5"/><circle cx="1168.2" cy="1196.8" r="6.5"/><circle cx="1169.3" cy="1189.6" r="6.5"/><circle cx="1170.8" cy="1203.6" r="6.5"/><circle cx="1172.5" cy="1221.3" r="6.5"/><circle cx="1173" cy="1219.8" r="6.5"/><circle cx="1174.2" cy="1222.6" r="6.5"/><circle cx="1175.2" cy="1211.4" r="6.5"/><circle cx="1177.1" cy="1205" r="6.5"/><circle cx="1178.4" cy="1219.1" r="6.5"/><circle cx="1179.5" cy="1235.1" r="6.5"/><circle cx="1180.6" cy="1231" r="6.5"/><circle cx="1181.8" cy="1228.5" r="6.5"/><circle cx="1183.3" cy="1227" r="6.5"/><circle cx="1184" cy="1215" r="6.5"/><circle cx="1185.4" cy="1232.6" r="6.5"/><circle cx="1186.5" cy="1214.1" r="6.5"/><circle cx="1187.6" cy="1230.6" r="6.5"/><circle cx="1189.4" cy="1230.4" r="6.5"/><circle cx="1190.1" cy="1227.4" r="6.5"/><circle cx="1191.2" cy="1225.4" r="6.5"/><circle cx="1192.3" cy="1241" r="6.5"/><circle cx="1194" cy="1236.1" r="6.5"/><circle cx="1194.5" cy="1218.4" r="6.5"/><circle cx="1196.5" cy="1243" r="6.5"/><circle cx="1197.7" cy="1231" r="6.5"/><circle cx="1198.9" cy="1236" r="6.5"/><circle cx="1200.2" cy="1221.1" r="6.5"/><circle cx="1201.1" cy="1237.7" r="6.5"/><circle cx="1202.5" cy="1226.2" r="6.5"/><circle cx="1202.7" cy="1250.2" r="6.5"/><circle cx="1204.9" cy="1242.5" r="6.5"/><circle cx="1205.1" cy="1227.6" r="6.5"/><circle cx="1206.9" cy="1225.2" r="6.5"/><circle cx="1207.5" cy="1220.6" r="6.5"/><circle cx="1208.7" cy="1244.1" r="6.5"/><circle cx="1210.2" cy="1249.7" r="6.5"/><circle cx="1211" cy="1244" r="6.5"/><circle cx="1213.1" cy="1244.1" r="6.5"/><circle cx="1214.5" cy="1233.6" r="6.5"/><circle cx="1215.4" cy="1217.7" r="6.5"/><circle cx="1216" cy="1222" r="6.5"/><circle cx="1217.7" cy="1243.4" r="6.5"/><circle cx="1218.4" cy="1218.9" r="6.5"/><circle cx="1219.5" cy="1241.9" r="6.5"/><circle cx="1221.1" cy="1226.1" r="6.5"/><circle cx="1221.9" cy="1220.5" r="6.5"/><circle cx="1223.8" cy="1247.9" r="6.5"/><circle cx="1224.9" cy="1221.6" r="6.5"/><circle cx="1226.1" cy="1245.3" r="6.5"/><circle cx="1227.7" cy="1247.9" r="6.5"/><circle cx="1227.9" cy="1230.1" r="6.5"/><circle cx="1229.8" cy="1223.2" r="6.5"/><circle cx="1231.3" cy="1215.3" r="6.5"/><circle cx="1232" cy="1222.7" r="6.5"/><circle cx="1233.5" cy="1238.4" r="6.5"/><circle cx="1234" cy="1232.2" r="6.5"/><circle cx="1235.3" cy="1215.1" r="6.5"/><circle cx="1237" cy="1230.8" r="6.5"/><circle cx="1237.8" cy="1225.9" r="6.5"/><circle cx="1239" cy="1238.5" r="6.5"/><circle cx="1240.3" cy="1219.1" r="6.5"/><circle cx="1242" cy="1229.2" r="6.5"/><circle cx="1242.5" cy="1234.1" r="6.5"/><circle cx="1243.5" cy="1238.7" r="6.5"/><circle cx="1244.9" cy="1222.6" r="6.5"/><circle cx="1246.5" cy="1220.3" r="6.5"/><circle cx="1247.3" cy="1220" r="6.5"/><circle cx="1249" cy="1239.4" r="6.5"/><circle cx="1249.6" cy="1217.7" r="6.5"/><circle cx="1251.6" cy="1229.9" r="6.5"/><circle cx="1251.8" cy="1243.6" r="6.5"/><circle cx="1253.5" cy="1223.9" r="6.5"/><circle cx="1254.4" cy="1222.7" r="6.5"/><circle cx="1255.8" cy="1220" r="6.5"/><circle cx="1256.7" cy="1240.6" r="6.5"/><circle cx="1258.1" cy="1219.4" r="6.5"/><circle cx="1259.9" cy="1238.6" r="6.5"/><circle cx="1261.4" cy="1246.9" r="6.5"/><circle cx="1261.5" cy="1222.1" r="6.5"/><circle cx="1263.6" cy="1231" r="6.5"/><circle cx="1264.1" cy="1244.2" r="6.5"/><circle cx="1265" cy="1238.9" r="6.5"/><circle cx="1267.2" cy="1248.9" r="6.5"/><circle cx="1267.4" cy="1239.4" r="6.5"/><circle cx="1269.5" cy="1228.4" r="6.5"/><circle cx="1270.4" cy="1234.3" r="6.5"/><circle cx="1271.5" cy="1247.2" r="6.5"/><circle cx="1272.6" cy="1225.5" r="6.5"/><circle cx="1273.9" cy="1219.5" r="6.5"/><circle cx="1275.6" cy="1248.1" r="6.5"/><circle cx="1276.1" cy="1217" r="6.5"/><circle cx="1277.1" cy="1225.8" r="6.5"/><circle cx="1278.4" cy="1234.8" r="6.5"/><circle cx="1280.3" cy="1233.3" r="6.5"/><circle cx="1280.9" cy="1247.5" r="6.5"/><circle cx="1282.9" cy="1217.4" r="6.5"/><circle cx="1284" cy="1220.6" r="6.5"/><circle cx="1285.3" cy="1220.4" r="6.5"/><circle cx="1286.3" cy="1229.5" r="6.5"/><circle cx="1287.1" cy="1236.9" r="6.5"/><circle cx="1288.7" cy="1244.2" r="6.5"/><circle cx="1289.7" cy="1220.4" r="6.5"/><circle cx="1290.2" cy="1225.9" r="6.5"/><circle cx="1292.3" cy="1246.2" r="6.5"/><circle cx="1293.6" cy="1233.3" r="6.5"/><circle cx="1294.6" cy="1240.9" r="6.5"/><circle cx="1295.8" cy="1248.6" r="6.5"/><circle cx="1296.7" cy="1224.4" r="6.5"/><circle cx="1298.3" cy="1233.8" r="6.5"/><circle cx="1299.6" cy="1249.8" r="6.5"/><circle cx="1300.7" cy="1245.5" r="6.5"/><circle cx="1301.6" cy="1232.3" r="6.5"/><circle cx="1302.6" cy="1247.4" r="6.5"/><circle cx="1304" cy="1218.6" r="6.5"/><circle cx="1305.4" cy="1247.8" r="6.5"/><circle cx="1305.9" cy="1221" r="6.5"/><circle cx="1307.6" cy="1237.7" r="6.5"/><circle cx="1309.3" cy="1231.2" r="6.5"/><circle cx="1310.4" cy="1223.6" r="6.5"/><circle cx="1311.1" cy="1226.8" r="6.5"/><circle cx="1311.9" cy="1241.1" r="6.5"/><circle cx="1313.4" cy="1240.5" r="6.5"/><circle cx="1314.9" cy="1229.8" r="6.5"/><circle cx="1316.1" cy="1227.3" r="6.5"/><circle cx="1316.6" cy="1233.3" r="6.5"/><circle cx="1318.1" cy="1247.6" r="6.5"/><circle cx="1319.3" cy="1238.6" r="6.5"/><circle cx="1320.9" cy="1218.9" r="6.5"/><circle cx="1322.1" cy="1245" r="6.5"/><circle cx="1322.9" cy="1249.6" r="6.5"/><circle cx="1324.9" cy="1253.6" r="6.5"/><circle cx="1325.4" cy="1242.7" r="6.5"/><circle cx="1326.5" cy="1231" r="6.5"/><circle cx="1328.2" cy="1243.1" r="6.5"/><circle cx="1328.8" cy="1222.8" r="6.5"/><circle cx="1330.9" cy="1233.8" r="6.5"/><circle cx="1331.2" cy="1248.6" r="6.5"/><circle cx="1332.6" cy="1248.3" r="6.5"/><circle cx="1334.2" cy="1242.9" r="6.5"/><circle cx="1335.8" cy="1233.1" r="6.5"/><circle cx="1337" cy="1230.4" r="6.5"/><circle cx="1337.6" cy="1245.5" r="6.5"/><circle cx="1338.5" cy="1235.9" r="6.5"/><circle cx="1340.2" cy="1229.7" r="6.5"/><circle cx="1341.2" cy="1224.6" r="6.5"/><circle cx="1342.6" cy="1249.7" r="6.5"/><circle cx="1343.6" cy="1231.3" r="6.5"/><circle cx="1344.2" cy="1239.9" r="6.5"/><circle cx="1345.8" cy="1225.1" r="6.5"/><circle cx="1346.7" cy="1228.8" r="6.5"/><circle cx="1349" cy="1252.5" r="6.5"/><circle cx="1349.2" cy="1227.2" r="6.5"/><circle cx="1350.4" cy="1224.9" r="6.5"/><circle cx="1352.5" cy="1257.8" r="6.5"/><circle cx="1353.5" cy="1237.1" r="6.5"/><circle cx="1355" cy="1258.4" r="6.5"/><circle cx="1355.8" cy="1255.2" r="6.5"/><circle cx="1357.3" cy="1247.1" r="6.5"/><circle cx="1357.9" cy="1228.3" r="6.5"/><circle cx="1359.2" cy="1252.7" r="6.5"/><circle cx="1360.1" cy="1255.5" r="6.5"/><circle cx="1361" cy="1259.5" r="6.5"/><circle cx="1363.2" cy="1245.6" r="6.5"/><circle cx="1363.8" cy="1238.9" r="6.5"/><circle cx="1365.6" cy="1248.8" r="6.5"/><circle cx="1365.9" cy="1257.8" r="6.5"/><circle cx="1368" cy="1239.4" r="6.5"/><circle cx="1369.2" cy="1260.4" r="6.5"/><circle cx="1370.4" cy="1251.8" r="6.5"/><circle cx="1371.6" cy="1249.6" r="6.5"/><circle cx="1371.8" cy="1233.1" r="6.5"/><circle cx="1373.2" cy="1256" r="6.5"/><circle cx="1374.4" cy="1255" r="6.5"/><circle cx="1376.1" cy="1249.7" r="6.5"/><circle cx="1376.9" cy="1256.6" r="6.5"/><circle cx="1377.9" cy="1259.2" r="6.5"/><circle cx="1380.1" cy="1246.4" r="6.5"/><circle cx="1380.5" cy="1241.2" r="6.5"/><circle cx="1382.5" cy="1239.3" r="6.5"/><circle cx="1382.6" cy="1256.4" r="6.5"/><circle cx="1384.2" cy="1259.4" r="6.5"/><circle cx="1385.1" cy="1241.4" r="6.5"/><circle cx="1387.2" cy="1245.3" r="6.5"/><circle cx="1387.7" cy="1231.9" r="6.5"/><circle cx="1388.6" cy="1228.5" r="6.5"/><circle cx="1390.8" cy="1240.3" r="6.5"/><circle cx="1391.9" cy="1236.9" r="6.5"/><circle cx="1393" cy="1254.2" r="6.5"/><circle cx="1393.9" cy="1242.4" r="6.5"/><circle cx="1395.4" cy="1245.5" r="6.5"/><circle cx="1396.8" cy="1244.2" r="6.5"/><circle cx="1397.2" cy="1234.2" r="6.5"/><circle cx="1398.7" cy="1259.3" r="6.5"/><circle cx="1400.2" cy="1261.7" r="6.5"/><circle cx="1401.2" cy="1253.9" r="6.5"/><circle cx="1402.6" cy="1247.7" r="6.5"/><circle cx="1403.2" cy="1252.7" r="6.5"/><circle cx="1405" cy="1246.1" r="6.5"/><circle cx="1405.8" cy="1239.5" r="6.5"/><circle cx="1407.2" cy="1264" r="6.5"/><circle cx="1408.7" cy="1263.9" r="6.5"/><circle cx="1409.2" cy="1249.7" r="6.5"/><circle cx="1410.7" cy="1234.8" r="6.5"/><circle cx="1412.6" cy="1248.1" r="6.5"/><circle cx="1412.8" cy="1237.6" r="6.5"/><circle cx="1414.3" cy="1250.3" r="6.5"/><circle cx="1415.8" cy="1246.7" r="6.5"/><circle cx="1416.8" cy="1234.8" r="6.5"/><circle cx="1418" cy="1252" r="6.5"/><circle cx="1419.5" cy="1266.2" r="6.5"/><circle cx="1419.9" cy="1251.2" r="6.5"/><circle cx="1421.5" cy="1241.6" r="6.5"/><circle cx="1423.2" cy="1244.1" r="6.5"/><circle cx="1423.4" cy="1268.3" r="6.5"/><circle cx="1425.3" cy="1246" r="6.5"/><circle cx="1426.9" cy="1255.7" r="6.5"/><circle cx="1427.9" cy="1247.4" r="6.5"/><circle cx="1429.3" cy="1243.6" r="6.5"/><circle cx="1430" cy="1235.3" r="6.5"/><circle cx="1431.6" cy="1263.1" r="6.5"/><circle cx="1432.1" cy="1251.2" r="6.5"/><circle cx="1434" cy="1246.9" r="6.5"/><circle cx="1435.2" cy="1265" r="6.5"/><circle cx="1435.9" cy="1251.5" r="6.5"/><circle cx="1436.8" cy="1260.9" r="6.5"/><circle cx="1438.2" cy="1256.6" r="6.5"/><circle cx="1439.8" cy="1248" r="6.5"/><circle cx="1441.3" cy="1254.2" r="6.5"/><circle cx="1441.9" cy="1249.8" r="6.5"/><circle cx="1442.7" cy="1256" r="6.5"/><circle cx="1444.6" cy="1241.8" r="6.5"/><circle cx="1445.3" cy="1240.1" r="6.5"/><circle cx="1447.2" cy="1247.6" r="6.5"/><circle cx="1448.3" cy="1250.5" r="6.5"/><circle cx="1449.4" cy="1242" r="6.5"/><circle cx="1450.9" cy="1251.4" r="6.5"/><circle cx="1452.1" cy="1229.3" r="6.5"/><circle cx="1452.9" cy="1230.2" r="6.5"/><circle cx="1454.1" cy="1231.3" r="6.5"/><circle cx="1455.2" cy="1243.8" r="6.5"/><circle cx="1456.7" cy="1252.6" r="6.5"/><circle cx="1457.6" cy="1255.2" r="6.5"/><circle cx="1458.3" cy="1231.5" r="6.5"/><circle cx="1459.7" cy="1250.5" r="6.5"/><circle cx="1461.2" cy="1238.9" r="6.5"/><circle cx="1462" cy="1261.6" r="6.5"/><circle cx="1463.4" cy="1248.9" r="6.5"/><circle cx="1465.3" cy="1231.2" r="6.5"/><circle cx="1465.7" cy="1246.2" r="6.5"/><circle cx="1467.4" cy="1232" r="6.5"/><circle cx="1468.2" cy="1244.5" r="6.5"/><circle cx="1470" cy="1243.3" r="6.5"/><circle cx="1471.4" cy="1234.3" r="6.5"/><circle cx="1471.7" cy="1227.2" r="6.5"/><circle cx="1473.1" cy="1243.5" r="6.5"/><circle cx="1474.4" cy="1241.2" r="6.5"/><circle cx="1475.7" cy="1241.8" r="6.5"/><circle cx="1476.7" cy="1250.1" r="6.5"/><circle cx="1477.5" cy="1256.3" r="6.5"/><circle cx="1479.1" cy="1238.1" r="6.5"/><circle cx="1480.2" cy="1252.6" r="6.5"/><circle cx="1481.2" cy="1244.9" r="6.5"/><circle cx="1482.9" cy="1229" r="6.5"/><circle cx="1484.5" cy="1255" r="6.5"/><circle cx="1485.4" cy="1240.3" r="6.5"/><circle cx="1486.4" cy="1256.8" r="6.5"/><circle cx="1487.5" cy="1229" r="6.5"/><circle cx="1488.8" cy="1256.2" r="6.5"/><circle cx="1489.9" cy="1255.1" r="6.5"/><circle cx="1490.7" cy="1247.6" r="6.5"/><circle cx="1492.9" cy="1260.1" r="6.5"/><circle cx="1493" cy="1256.3" r="6.5"/><circle cx="1494.8" cy="1240" r="6.5"/><circle cx="1495.9" cy="1247.7" r="6.5"/><circle cx="1496.9" cy="1252.4" r="6.5"/><circle cx="1498.2" cy="1236.7" r="6.5"/><circle cx="1499.9" cy="1245.5" r="6.5"/><circle cx="1500.6" cy="1239.3" r="6.5"/><circle cx="1502.2" cy="1230.5" r="6.5"/><circle cx="1503.3" cy="1248.4" r="6.5"/><circle cx="1504.2" cy="1261.5" r="6.5"/><circle cx="1505.3" cy="1229.7" r="6.5"/><circle cx="1506.6" cy="1252.6" r="6.5"/><circle cx="1507.7" cy="1234.8" r="6.5"/><circle cx="1509.5" cy="1247.7" r="6.5"/><circle cx="1510.6" cy="1259.4" r="6.5"/><circle cx="1511.3" cy="1249.2" r="6.5"/><circle cx="1512.2" cy="1261.9" r="6.5"/><circle cx="1513.7" cy="1239.6" r="6.5"/><circle cx="1514.8" cy="1252.4" r="6.5"/><circle cx="1515.9" cy="1260.9" r="6.5"/><circle cx="1518.1" cy="1249.3" r="6.5"/><circle cx="1518.7" cy="1246.4" r="6.5"/><circle cx="1520.1" cy="1260.6" r="6.5"/><circle cx="1521.7" cy="1246.5" r="6.5"/><circle cx="1522.2" cy="1248.9" r="6.5"/><circle cx="1523.8" cy="1263.9" r="6.5"/><circle cx="1524.7" cy="1246.5" r="6.5"/><circle cx="1526.5" cy="1239" r="6.5"/><circle cx="1526.9" cy="1257.5" r="6.5"/><circle cx="1528.5" cy="1249.6" r="6.5"/><circle cx="1529.7" cy="1262.6" r="6.5"/><circle cx="1530.7" cy="1242.9" r="6.5"/><circle cx="1531.7" cy="1244.7" r="6.5"/><circle cx="1532.6" cy="1240.3" r="6.5"/><circle cx="1534.9" cy="1232" r="6.5"/><circle cx="1535.7" cy="1237.4" r="6.5"/><circle cx="1536.6" cy="1252.2" r="6.5"/><circle cx="1537.5" cy="1231.1" r="6.5"/><circle cx="1538.9" cy="1254.6" r="6.5"/><circle cx="1540.4" cy="1243.8" r="6.5"/><circle cx="1541.8" cy="1248.8" r="6.5"/><circle cx="1542.9" cy="1240.4" r="6.5"/><circle cx="1544" cy="1261.4" r="6.5"/><circle cx="1545.1" cy="1264.4" r="6.5"/><circle cx="1546.5" cy="1265" r="6.5"/><circle cx="1547.7" cy="1258.3" r="6.5"/><circle cx="1548.5" cy="1254" r="6.5"/><circle cx="1550.3" cy="1231.1" r="6.5"/><circle cx="1551.8" cy="1257" r="6.5"/><circle cx="1552.2" cy="1236.4" r="6.5"/><circle cx="1554.1" cy="1237.7" r="6.5"/><circle cx="1554.5" cy="1239.6" r="6.5"/><circle cx="1555.4" cy="1257" r="6.5"/><circle cx="1557.6" cy="1240.6" r="6.5"/><circle cx="1558.3" cy="1234.1" r="6.5"/><circle cx="1560.1" cy="1261.9" r="6.5"/><circle cx="1561.3" cy="1231.9" r="6.5"/><circle cx="1562.3" cy="1252.7" r="6.5"/><circle cx="1562.9" cy="1234.6" r="6.5"/><circle cx="1564.3" cy="1235.7" r="6.5"/><circle cx="1565.2" cy="1246.9" r="6.5"/><circle cx="1567.1" cy="1245" r="6.5"/><circle cx="1568.4" cy="1260.3" r="6.5"/><circle cx="1569.1" cy="1249" r="6.5"/><circle cx="1570.2" cy="1259.8" r="6.5"/><circle cx="1572.1" cy="1231.4" r="6.5"/><circle cx="1572.4" cy="1254.7" r="6.5"/><circle cx="1574" cy="1247.8" r="6.5"/><circle cx="1575.6" cy="1235.5" r="6.5"/><circle cx="1576.7" cy="1256.1" r="6.5"/><circle cx="1577.4" cy="1248.9" r="6.5"/><circle cx="1579.1" cy="1245.4" r="6.5"/><circle cx="1579.5" cy="1242.7" r="6.5"/><circle cx="1580.6" cy="1235.2" r="6.5"/><circle cx="1582.9" cy="1240.8" r="6.5"/><circle cx="1583.1" cy="1259.8" r="6.5"/><circle cx="1584.5" cy="1240.3" r="6.5"/><circle cx="1585.4" cy="1241" r="6.5"/><circle cx="1587.5" cy="1250.6" r="6.5"/><circle cx="1588.7" cy="1238.5" r="6.5"/><circle cx="1589.3" cy="1246.7" r="6.5"/><circle cx="1590.5" cy="1260" r="6.5"/><circle cx="1591.9" cy="1259.6" r="6.5"/><circle cx="1593" cy="1248.3" r="6.5"/><circle cx="1594.3" cy="1253.2" r="6.5"/><circle cx="1596" cy="1236" r="6.5"/><circle cx="1596.8" cy="1257.5" r="6.5"/><circle cx="1598.2" cy="1235.3" r="6.5"/><circle cx="1599.5" cy="1248.6" r="6.5"/><circle cx="1600.7" cy="1251.8" r="6.5"/><circle cx="1601.6" cy="1238" r="6.5"/><circle cx="1602.8" cy="1240" r="6.5"/><circle cx="1604.4" cy="1235.5" r="6.5"/><circle cx="1605.4" cy="1246" r="6.5"/><circle cx="1606" cy="1243.2" r="6.5"/><circle cx="1608.2" cy="1262.9" r="6.5"/><circle cx="1609" cy="1256.8" r="6.5"/><circle cx="1609.6" cy="1239.8" r="6.5"/><circle cx="1611.2" cy="1235.8" r="6.5"/><circle cx="1612.5" cy="1265.2" r="6.5"/><circle cx="1613.6" cy="1234.4" r="6.5"/><circle cx="1614.9" cy="1248" r="6.5"/><circle cx="1616.4" cy="1242.3" r="6.5"/><circle cx="1616.8" cy="1235.6" r="6.5"/><circle cx="1618.3" cy="1260.7" r="6.5"/><circle cx="1620.1" cy="1242.8" r="6.5"/><circle cx="1621.2" cy="1264.3" r="6.5"/><circle cx="1622.5" cy="1236.4" r="6.5"/><circle cx="1623" cy="1255.9" r="6.5"/><circle cx="1624.1" cy="1251.2" r="6.5"/><circle cx="1625.8" cy="1236.7" r="6.5"/><circle cx="1626.5" cy="1231.9" r="6.5"/><circle cx="1628.3" cy="1255.9" r="6.5"/><circle cx="1628.9" cy="1237" r="6.5"/><circle cx="1630" cy="1241.6" r="6.5"/><circle cx="1631.6" cy="1231.9" r="6.5"/><circle cx="1632.6" cy="1240.7" r="6.5"/><circle cx="1634.3" cy="1261.9" r="6.5"/><circle cx="1634.9" cy="1263.4" r="6.5"/><circle cx="1636.7" cy="1250.2" r="6.5"/><circle cx="1637.9" cy="1247" r="6.5"/><circle cx="1639.1" cy="1261.4" r="6.5"/><circle cx="1640.5" cy="1249" r="6.5"/><circle cx="1641.1" cy="1262.8" r="6.5"/><circle cx="1642.4" cy="1243.1" r="6.5"/><circle cx="1644" cy="1251" r="6.5"/><circle cx="1645" cy="1239.6" r="6.5"/><circle cx="1645.5" cy="1246.9" r="6.5"/><circle cx="1647.5" cy="1268.1" r="6.5"/><circle cx="1648.2" cy="1237" r="6.5"/><circle cx="1649.5" cy="1235.9" r="6.5"/><circle cx="1650.3" cy="1246.1" r="6.5"/><circle cx="1652.1" cy="1262.7" r="6.5"/><circle cx="1653" cy="1244.6" r="6.5"/><circle cx="1654.7" cy="1235.5" r="6.5"/><circle cx="1656.2" cy="1252.8" r="6.5"/><circle cx="1656.8" cy="1250.9" r="6.5"/><circle cx="1657.5" cy="1245.6" r="6.5"/><circle cx="1659.4" cy="1260.4" r="6.5"/><circle cx="1659.9" cy="1258.5" r="6.5"/><circle cx="1661.4" cy="1236.6" r="6.5"/><circle cx="1663.1" cy="1250.4" r="6.5"/><circle cx="1663.5" cy="1248.5" r="6.5"/><circle cx="1664.8" cy="1232.2" r="6.5"/><circle cx="1666" cy="1238.3" r="6.5"/><circle cx="1667.6" cy="1242.3" r="6.5"/><circle cx="1668.8" cy="1237.5" r="6.5"/><circle cx="1670.5" cy="1245.9" r="6.5"/><circle cx="1671.4" cy="1240.2" r="6.5"/><circle cx="1672.6" cy="1247.1" r="6.5"/><circle cx="1674.2" cy="1261.4" r="6.5"/><circle cx="1675" cy="1260.6" r="6.5"/><circle cx="1675.6" cy="1240.5" r="6.5"/><circle cx="1676.6" cy="1249.7" r="6.5"/><circle cx="1678.1" cy="1239.9" r="6.5"/><circle cx="1680" cy="1242.8" r="6.5"/><circle cx="1680.7" cy="1261.6" r="6.5"/><circle cx="1682.3" cy="1257.6" r="6.5"/><circle cx="1682.8" cy="1255.5" r="6.5"/><circle cx="1684" cy="1257.8" r="6.5"/><circle cx="1685.7" cy="1234.8" r="6.5"/><circle cx="1687.4" cy="1241.9" r="6.5"/><circle cx="1687.4" cy="1246.7" r="6.5"/><circle cx="1689.3" cy="1232.5" r="6.5"/><circle cx="1690" cy="1233.8" r="6.5"/><circle cx="1691.4" cy="1251.4" r="6.5"/><circle cx="1692.9" cy="1238.1" r="6.5"/><circle cx="1693.6" cy="1233.9" r="6.5"/><circle cx="1695.4" cy="1239.6" r="6.5"/><circle cx="1695.9" cy="1232.3" r="6.5"/><circle cx="1697" cy="1248.9" r="6.5"/><circle cx="1698.5" cy="1251.6" r="6.5"/><circle cx="1700" cy="1231.8" r="6.5"/><circle cx="1701.8" cy="1238.3" r="6.5"/><circle cx="1702.7" cy="1236.4" r="6.5"/><circle cx="1704" cy="1253" r="6.5"/><circle cx="1704.3" cy="1231.4" r="6.5"/><circle cx="1705.7" cy="1260.8" r="6.5"/><circle cx="1706.7" cy="1261.3" r="6.5"/><circle cx="1708.2" cy="1235.2" r="6.5"/><circle cx="1709.6" cy="1240.2" r="6.5"/><circle cx="1710.5" cy="1263.7" r="6.5"/><circle cx="1712.5" cy="1243.6" r="6.5"/><circle cx="1713.5" cy="1248.7" r="6.5"/><circle cx="1714" cy="1247.2" r="6.5"/><circle cx="1715.6" cy="1254.4" r="6.5"/><circle cx="1717.1" cy="1250.5" r="6.5"/><circle cx="1718.2" cy="1245" r="6.5"/><circle cx="1719.8" cy="1265.4" r="6.5"/><circle cx="1720.1" cy="1256.5" r="6.5"/><circle cx="1721.6" cy="1262.2" r="6.5"/><circle cx="1722.5" cy="1255.2" r="6.5"/><circle cx="1724" cy="1237" r="6.5"/><circle cx="1724.9" cy="1260.5" r="6.5"/><circle cx="1726" cy="1244.2" r="6.5"/><circle cx="1727.8" cy="1245.8" r="6.5"/><circle cx="1728.8" cy="1233.7" r="6.5"/><circle cx="1730.2" cy="1234.4" r="6.5"/><circle cx="1731.7" cy="1261.8" r="6.5"/><circle cx="1732.4" cy="1232.9" r="6.5"/><circle cx="1733.1" cy="1238.6" r="6.5"/><circle cx="1734.5" cy="1252.5" r="6.5"/><circle cx="1736.1" cy="1262.9" r="6.5"/><circle cx="1737.7" cy="1238.6" r="6.5"/><circle cx="1737.9" cy="1248.6" r="6.5"/><circle cx="1739.3" cy="1231.8" r="6.5"/><circle cx="1740.4" cy="1235.9" r="6.5"/><circle cx="1741.6" cy="1264.2" r="6.5"/><circle cx="1742.7" cy="1249" r="6.5"/><circle cx="1744.2" cy="1233.6" r="6.5"/><circle cx="1745.5" cy="1264.3" r="6.5"/><circle cx="1746.6" cy="1240.9" r="6.5"/><circle cx="1748.2" cy="1239.3" r="6.5"/><circle cx="1748.6" cy="1236.1" r="6.5"/><circle cx="1750.1" cy="1240" r="6.5"/><circle cx="1751.7" cy="1264.4" r="6.5"/><circle cx="1753.1" cy="1258.1" r="6.5"/><circle cx="1754.4" cy="1237.7" r="6.5"/><circle cx="1755.8" cy="1233.9" r="6.5"/><circle cx="1756.6" cy="1232.8" r="6.5"/><circle cx="1757" cy="1252.9" r="6.5"/><circle cx="1759" cy="1233.9" r="6.5"/><circle cx="1760.2" cy="1232.5" r="6.5"/><circle cx="1761.7" cy="1230" r="6.5"/><circle cx="1762.8" cy="1240.5" r="6.5"/><circle cx="1763.1" cy="1248.9" r="6.5"/><circle cx="1765.2" cy="1232.9" r="6.5"/><circle cx="1766.2" cy="1250.6" r="6.5"/><circle cx="1767.5" cy="1258.1" r="6.5"/><circle cx="1769" cy="1228.9" r="6.5"/><circle cx="1769.7" cy="1227.4" r="6.5"/><circle cx="1770.5" cy="1242.7" r="6.5"/><circle cx="1771.8" cy="1230.4" r="6.5"/><circle cx="1773.7" cy="1233.1" r="6.5"/><circle cx="1774" cy="1259.1" r="6.5"/><circle cx="1775.6" cy="1231.6" r="6.5"/><circle cx="1777.1" cy="1236.1" r="6.5"/><circle cx="1778.3" cy="1250.9" r="6.5"/><circle cx="1778.7" cy="1226.3" r="6.5"/><circle cx="1780.1" cy="1257.3" r="6.5"/><circle cx="1782" cy="1250.8" r="6.5"/><circle cx="1782.3" cy="1230" r="6.5"/><circle cx="1784.2" cy="1235.8" r="6.5"/><circle cx="1784.9" cy="1243.7" r="6.5"/><circle cx="1786.9" cy="1241.7" r="6.5"/><circle cx="1787.1" cy="1247" r="6.5"/><circle cx="1788.3" cy="1242.9" r="6.5"/><circle cx="1789.7" cy="1251.1" r="6.5"/><circle cx="1791.8" cy="1243.8" r="6.5"/><circle cx="1792.9" cy="1234.1" r="6.5"/><circle cx="1793.4" cy="1251.6" r="6.5"/><circle cx="1795.1" cy="1248.6" r="6.5"/><circle cx="1796.6" cy="1241.4" r="6.5"/><circle cx="1797.4" cy="1237.7" r="6.5"/><circle cx="1798.3" cy="1233.2" r="6.5"/><circle cx="1799.4" cy="1239.9" r="6.5"/><circle cx="1801.1" cy="1221.5" r="6.5"/><circle cx="1802.4" cy="1248.1" r="6.5"/><circle cx="1802.9" cy="1221.6" r="6.5"/><circle cx="1804.8" cy="1250.5" r="6.5"/><circle cx="1805.7" cy="1215.9" r="6.5"/><circle cx="1807.2" cy="1234.8" r="6.5"/><circle cx="1808.6" cy="1222.5" r="6.5"/><circle cx="1808.8" cy="1233.9" r="6.5"/><circle cx="1810.1" cy="1223.4" r="6.5"/><circle cx="1811.3" cy="1226.3" r="6.5"/><circle cx="1813.3" cy="1218.5" r="6.5"/><circle cx="1813.6" cy="1231.6" r="6.5"/><circle cx="1815.5" cy="1219" r="6.5"/><circle cx="1816.4" cy="1226.5" r="6.5"/><circle cx="1817.7" cy="1240.7" r="6.5"/><circle cx="1159" cy="1159.5" r="6.5"/><circle cx="1250.8" cy="1192.4" r="6.5"/><circle cx="1202.7" cy="1203.7" r="6.5"/><circle cx="1244.5" cy="1258" r="6.5"/><circle cx="1312" cy="1252" r="6.5"/><circle cx="1420" cy="1262" r="6.5"/><circle cx="1530" cy="1262" r="6.5"/><circle cx="1660" cy="1268" r="6.5"/><circle cx="1728" cy="1275" r="6.5"/><circle cx="1800" cy="1205" r="6.5"/></g>
</g>
<rect x="1087.3" y="665" width="731.2" height="695.2" fill="none" stroke="#000" stroke-width="5"/>
<path d="M1087.3,1360.2 V1348.2 M1087.3,665 V677 M1160.5,1360.2 V1353.7 M1160.5,665 V671.5 M1233.7,1360.2 V1353.7 M1233.7,665 V671.5 M1307,1360.2 V1348.2 M1307,665 V677 M1380.2,1360.2 V1353.7 M1380.2,665 V671.5 M1453.4,1360.2 V1353.7 M1453.4,665 V671.5 M1526.6,1360.2 V1348.2 M1526.6,665 V677 M1599.8,1360.2 V1353.7 M1599.8,665 V671.5 M1673.1,1360.2 V1353.7 M1673.1,665 V671.5 M1746.3,1360.2 V1348.2 M1746.3,665 V677 M1819.5,1360.2 V1353.7 M1819.5,665 V671.5 M1087.3,1288.9 H1093.8 M1818.5,1288.9 H1812 M1087.3,1239.1 H1093.8 M1818.5,1239.1 H1812 M1087.3,1200.5 H1093.8 M1818.5,1200.5 H1812 M1087.3,1168.9 H1093.8 M1818.5,1168.9 H1812 M1087.3,1142.2 H1093.8 M1818.5,1142.2 H1812 M1087.3,1119.1 H1093.8 M1818.5,1119.1 H1812 M1087.3,1098.7 H1093.8 M1818.5,1098.7 H1812 M1087.3,1080.5 H1099.3 M1818.5,1080.5 H1806.5 M1087.3,960.5 H1093.8 M1818.5,960.5 H1812 M1087.3,890.3 H1093.8 M1818.5,890.3 H1812 M1087.3,840.5 H1093.8 M1818.5,840.5 H1812 M1087.3,801.9 H1093.8 M1818.5,801.9 H1812 M1087.3,770.3 H1093.8 M1818.5,770.3 H1812 M1087.3,743.6 H1093.8 M1818.5,743.6 H1812 M1087.3,720.5 H1093.8 M1818.5,720.5 H1812 M1087.3,700.1 H1093.8 M1818.5,700.1 H1812 M1087.3,681.9 H1099.3 M1818.5,681.9 H1806.5" stroke="#000" stroke-width="5" fill="none"/>
<text x="1087.3" y="1403.7" font-family="Liberation Serif, serif" font-size="40" text-anchor="middle">0</text>
<text x="1307" y="1403.7" font-family="Liberation Serif, serif" font-size="40" text-anchor="middle">300</text>
<text x="1526.6" y="1403.7" font-family="Liberation Serif, serif" font-size="40" text-anchor="middle">600</text>
<text x="1746.3" y="1403.7" font-family="Liberation Serif, serif" font-size="40" text-anchor="middle">900</text>
<text x="1074.3" y="692.1" font-family="Liberation Serif, serif" font-size="40" text-anchor="end">100</text>
<text x="1074.3" y="1091.7" font-family="Liberation Serif, serif" font-size="40" text-anchor="end">10</text>
<text x="1407.4" y="1452.6" font-family="Liberation Serif, serif" font-size="38.5">Time (s)</text>
<text transform="translate(982.4,1090) rotate(-90)" font-family="Liberation Serif, serif" font-size="38.5">I<tspan font-size="25" dy="14">cell</tspan><tspan dy="-14"> (pA)</tspan></text>
<text x="1122.7" y="711.2" font-family="Liberation Serif, serif" font-size="40" fill="#000000">250 K</text>
<text x="1122.7" y="845" font-family="Liberation Serif, serif" font-size="40" fill="#ff0000">225 K</text>
<text x="1122.7" y="974.4" font-family="Liberation Serif, serif" font-size="40" fill="#0000ff">175 K</text>
<text x="1122.7" y="1102.5" font-family="Liberation Serif, serif" font-size="40" fill="#808000">80 K</text>
<text x="1122.7" y="1294.9" font-family="Liberation Serif, serif" font-size="40" fill="#008080">90 K</text>
</svg></body></html>
